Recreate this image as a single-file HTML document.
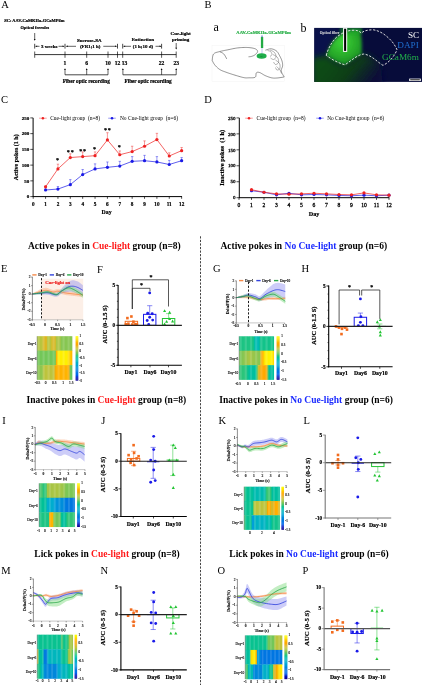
<!DOCTYPE html>
<html><head><meta charset="utf-8"><style>
html,body{margin:0;padding:0;background:#fff;overflow:hidden;}
svg{display:block;will-change:transform;}
text{font-family:"Liberation Serif", serif;}
</style></head><body>
<svg width="423" height="685" viewBox="0 0 423 685">
<rect x="0" y="0" width="423" height="685" fill="#fff"/>
<text x="1.20" y="8.20" font-size="10.50" font-weight="normal" text-anchor="start" fill="#000">A</text>
<text x="204.50" y="8.20" font-size="10.50" font-weight="normal" text-anchor="start" fill="#000">B</text>
<text x="1.00" y="103.20" font-size="10.50" font-weight="normal" text-anchor="start" fill="#000">C</text>
<text x="204.20" y="103.20" font-size="10.50" font-weight="normal" text-anchor="start" fill="#000">D</text>
<text x="1.00" y="272.00" font-size="10.50" font-weight="normal" text-anchor="start" fill="#000">E</text>
<text x="97.00" y="272.50" font-size="10.50" font-weight="normal" text-anchor="start" fill="#000">F</text>
<text x="213.00" y="272.00" font-size="10.50" font-weight="normal" text-anchor="start" fill="#000">G</text>
<text x="301.40" y="272.00" font-size="10.50" font-weight="normal" text-anchor="start" fill="#000">H</text>
<text x="2.20" y="423.60" font-size="10.50" font-weight="normal" text-anchor="start" fill="#000">I</text>
<text x="101.20" y="423.60" font-size="10.50" font-weight="normal" text-anchor="start" fill="#000">J</text>
<text x="218.50" y="423.60" font-size="10.50" font-weight="normal" text-anchor="start" fill="#000">K</text>
<text x="303.50" y="423.60" font-size="10.50" font-weight="normal" text-anchor="start" fill="#000">L</text>
<text x="1.20" y="574.20" font-size="10.50" font-weight="normal" text-anchor="start" fill="#000">M</text>
<text x="100.50" y="574.20" font-size="10.50" font-weight="normal" text-anchor="start" fill="#000">N</text>
<text x="217.50" y="574.20" font-size="10.50" font-weight="normal" text-anchor="start" fill="#000">O</text>
<text x="302.50" y="574.20" font-size="10.50" font-weight="normal" text-anchor="start" fill="#000">P</text>
<text x="4.30" y="22.20" font-size="4.45" font-weight="bold" text-anchor="start" fill="#000" stroke="#000" stroke-width="0.19">SC: AAV-CaMKIIa-GCaMP6m</text>
<text x="34.90" y="28.50" font-size="4.25" font-weight="bold" text-anchor="middle" fill="#000" stroke="#000" stroke-width="0.19">Optical ferrules</text>
<line x1="34.70" y1="33.00" x2="34.70" y2="39.50" stroke="#000" stroke-width="0.62"/>
<polygon points="33.80,39.00 35.60,39.00 34.70,40.80" fill="#000"/>
<line x1="34.70" y1="43.80" x2="34.70" y2="48.60" stroke="#000" stroke-width="0.72"/>
<line x1="65.00" y1="43.80" x2="65.00" y2="48.60" stroke="#000" stroke-width="0.72"/>
<line x1="35.50" y1="46.30" x2="39.50" y2="46.30" stroke="#000" stroke-width="0.62"/>
<polygon points="37.12,45.49 37.12,47.11 35.50,46.30" fill="#000"/>
<line x1="58.50" y1="46.30" x2="64.20" y2="46.30" stroke="#000" stroke-width="0.62"/>
<polygon points="62.58,45.49 62.58,47.11 64.20,46.30" fill="#000"/>
<text x="49.20" y="47.90" font-size="5.00" font-weight="bold" text-anchor="middle" fill="#000" stroke="#000" stroke-width="0.19">3 weeks</text>
<text x="89.30" y="41.50" font-size="5.00" font-weight="bold" text-anchor="middle" fill="#000" stroke="#000" stroke-width="0.19">Sucrose-SA</text>
<text x="90.20" y="47.80" font-size="4.95" font-weight="bold" text-anchor="middle" fill="#000" stroke="#000" stroke-width="0.19">(FR1;1 h)</text>
<line x1="66.20" y1="46.30" x2="76.00" y2="46.30" stroke="#000" stroke-width="0.62"/>
<polygon points="67.82,45.49 67.82,47.11 66.20,46.30" fill="#000"/>
<line x1="103.30" y1="46.30" x2="116.70" y2="46.30" stroke="#000" stroke-width="0.62"/>
<polygon points="115.08,45.49 115.08,47.11 116.70,46.30" fill="#000"/>
<line x1="117.50" y1="43.80" x2="117.50" y2="48.60" stroke="#000" stroke-width="0.72"/>
<line x1="122.70" y1="43.80" x2="122.70" y2="48.60" stroke="#000" stroke-width="0.72"/>
<text x="142.90" y="40.80" font-size="5.00" font-weight="bold" text-anchor="middle" fill="#000" stroke="#000" stroke-width="0.19">Extinction</text>
<text x="142.90" y="47.80" font-size="4.95" font-weight="bold" text-anchor="middle" fill="#000" stroke="#000" stroke-width="0.19">(1 h;10 d)</text>
<line x1="123.50" y1="46.30" x2="131.00" y2="46.30" stroke="#000" stroke-width="0.62"/>
<polygon points="125.12,45.49 125.12,47.11 123.50,46.30" fill="#000"/>
<line x1="155.50" y1="46.30" x2="161.20" y2="46.30" stroke="#000" stroke-width="0.62"/>
<polygon points="159.58,45.49 159.58,47.11 161.20,46.30" fill="#000"/>
<line x1="161.60" y1="43.80" x2="161.60" y2="48.60" stroke="#000" stroke-width="0.72"/>
<text x="180.60" y="35.00" font-size="5.00" font-weight="bold" text-anchor="middle" fill="#000" stroke="#000" stroke-width="0.19">Cue-light</text>
<text x="180.60" y="41.20" font-size="5.00" font-weight="bold" text-anchor="middle" fill="#000" stroke="#000" stroke-width="0.19">priming</text>
<line x1="176.20" y1="43.00" x2="176.20" y2="48.20" stroke="#000" stroke-width="0.62"/>
<polygon points="175.30,47.80 177.10,47.80 176.20,49.60" fill="#000"/>
<line x1="34.70" y1="54.60" x2="176.20" y2="54.60" stroke="#000" stroke-width="0.80"/>
<line x1="34.70" y1="51.50" x2="34.70" y2="57.80" stroke="#000" stroke-width="0.65"/>
<line x1="65.00" y1="51.50" x2="65.00" y2="57.80" stroke="#000" stroke-width="0.65"/>
<line x1="86.70" y1="51.50" x2="86.70" y2="57.80" stroke="#000" stroke-width="0.65"/>
<line x1="108.00" y1="51.50" x2="108.00" y2="57.80" stroke="#000" stroke-width="0.65"/>
<line x1="117.50" y1="51.50" x2="117.50" y2="57.80" stroke="#000" stroke-width="0.65"/>
<line x1="122.70" y1="51.50" x2="122.70" y2="57.80" stroke="#000" stroke-width="0.65"/>
<line x1="161.60" y1="51.50" x2="161.60" y2="57.80" stroke="#000" stroke-width="0.65"/>
<line x1="176.20" y1="51.50" x2="176.20" y2="57.80" stroke="#000" stroke-width="0.65"/>
<text x="65.00" y="65.00" font-size="5.60" font-weight="bold" text-anchor="middle" fill="#000" stroke="#000" stroke-width="0.19">1</text>
<text x="86.70" y="65.00" font-size="5.60" font-weight="bold" text-anchor="middle" fill="#000" stroke="#000" stroke-width="0.19">6</text>
<text x="108.00" y="65.00" font-size="5.60" font-weight="bold" text-anchor="middle" fill="#000" stroke="#000" stroke-width="0.19">10</text>
<text x="117.50" y="65.00" font-size="5.60" font-weight="bold" text-anchor="middle" fill="#000" stroke="#000" stroke-width="0.19">12</text>
<text x="124.60" y="65.00" font-size="5.60" font-weight="bold" text-anchor="middle" fill="#000" stroke="#000" stroke-width="0.19">13</text>
<text x="161.60" y="65.00" font-size="5.60" font-weight="bold" text-anchor="middle" fill="#000" stroke="#000" stroke-width="0.19">22</text>
<text x="176.20" y="65.00" font-size="5.60" font-weight="bold" text-anchor="middle" fill="#000" stroke="#000" stroke-width="0.19">23</text>
<line x1="65.00" y1="74.80" x2="108.00" y2="74.80" stroke="#000" stroke-width="0.72"/>
<line x1="65.00" y1="69.50" x2="65.00" y2="74.80" stroke="#000" stroke-width="0.62"/>
<polygon points="64.10,70.10 65.90,70.10 65.00,68.30" fill="#000"/>
<line x1="86.70" y1="69.50" x2="86.70" y2="74.80" stroke="#000" stroke-width="0.62"/>
<polygon points="85.80,70.10 87.60,70.10 86.70,68.30" fill="#000"/>
<line x1="108.00" y1="69.50" x2="108.00" y2="74.80" stroke="#000" stroke-width="0.62"/>
<polygon points="107.10,70.10 108.90,70.10 108.00,68.30" fill="#000"/>
<text x="86.30" y="82.90" font-size="5.20" font-weight="bold" text-anchor="middle" fill="#000" stroke="#000" stroke-width="0.19">Fiber optic recording</text>
<line x1="122.90" y1="74.80" x2="176.20" y2="74.80" stroke="#000" stroke-width="0.72"/>
<line x1="122.90" y1="69.50" x2="122.90" y2="74.80" stroke="#000" stroke-width="0.62"/>
<polygon points="122.00,70.10 123.80,70.10 122.90,68.30" fill="#000"/>
<line x1="161.60" y1="69.50" x2="161.60" y2="74.80" stroke="#000" stroke-width="0.62"/>
<polygon points="160.70,70.10 162.50,70.10 161.60,68.30" fill="#000"/>
<line x1="176.20" y1="69.50" x2="176.20" y2="74.80" stroke="#000" stroke-width="0.62"/>
<polygon points="175.30,70.10 177.10,70.10 176.20,68.30" fill="#000"/>
<text x="148.10" y="82.90" font-size="5.20" font-weight="bold" text-anchor="middle" fill="#000" stroke="#000" stroke-width="0.19">Fiber optic recording</text>
<text x="213.60" y="30.90" font-size="12.00" font-weight="normal" text-anchor="start" fill="#000">a</text>
<text x="300.40" y="32.30" font-size="12.00" font-weight="normal" text-anchor="start" fill="#000">b</text>
<rect x="212" y="45.5" width="72.5" height="36.1" fill="none" stroke="#f0f0f0" stroke-width="0.4"/>
<text x="263.60" y="33.90" font-size="4.65" font-weight="bold" text-anchor="middle" fill="#2bb04a" stroke="#2bb04a" stroke-width="0.19">AAV-CaMKIIa-GCaMP6m</text>
<polyline points="212.20,60.50 212.28,59.97 212.35,59.24 212.42,58.36 212.53,57.40 212.68,56.42 212.90,55.49 213.20,54.66 213.60,54.00 214.11,53.50 214.70,53.10 215.37,52.77 216.11,52.51 216.91,52.28 217.74,52.06 218.61,51.84 219.50,51.60 220.42,51.35 221.39,51.11 222.40,50.89 223.45,50.67 224.53,50.46 225.64,50.24 226.76,50.03 227.90,49.80 229.07,49.56 230.27,49.30 231.50,49.03 232.76,48.76 234.02,48.51 235.29,48.27 236.55,48.07 237.80,47.90 239.05,47.77 240.33,47.65 241.62,47.57 242.90,47.50 244.16,47.46 245.39,47.45 246.58,47.46 247.70,47.50 248.79,47.57 249.86,47.67 250.91,47.80 251.92,47.95 252.87,48.13 253.74,48.33 254.52,48.55 255.20,48.80 255.78,49.08 256.28,49.39 256.69,49.72 257.03,50.08 257.29,50.45 257.47,50.84 257.57,51.22 257.60,51.60 257.52,51.99 257.32,52.41 257.03,52.84 256.67,53.27 256.26,53.70 255.83,54.10 255.40,54.47 255.00,54.80 254.60,55.08 254.18,55.34 253.73,55.57 253.28,55.77 252.82,55.96 252.36,56.12 251.92,56.27 251.50,56.40 251.08,56.51 250.64,56.59 250.21,56.66 249.78,56.70 249.38,56.73 249.03,56.76 248.73,56.78 248.50,56.80" fill="none" stroke="#3a3a3a" stroke-width="0.55"/>
<polyline points="219.90,51.80 220.21,51.95 220.62,52.13 221.12,52.34 221.66,52.59 222.23,52.87 222.80,53.20 223.33,53.58 223.80,54.00 224.24,54.53 224.68,55.17 225.12,55.89 225.54,56.64 225.93,57.37 226.28,58.04 226.57,58.60 226.80,59.00" fill="none" stroke="#3a3a3a" stroke-width="0.55"/>
<polyline points="265.40,50.20 265.83,50.07 266.41,49.86 267.09,49.62 267.86,49.36 268.66,49.12 269.48,48.93 270.27,48.81 271.00,48.80 271.71,48.89 272.44,49.04 273.18,49.26 273.91,49.53 274.62,49.85 275.30,50.20 275.93,50.59 276.50,51.00 277.00,51.45 277.44,51.94 277.83,52.48 278.19,53.04 278.52,53.64 278.84,54.25 279.17,54.87 279.50,55.50 279.85,56.14 280.20,56.82 280.56,57.51 280.90,58.22 281.22,58.93 281.52,59.64 281.78,60.33 282.00,61.00 282.18,61.65 282.33,62.29 282.45,62.91 282.54,63.53 282.60,64.15 282.64,64.76 282.63,65.38 282.60,66.00 282.49,66.62 282.29,67.23 282.03,67.83 281.75,68.44 281.49,69.05 281.29,69.68 281.18,70.33 281.20,71.00 281.38,71.74 281.71,72.57 282.13,73.44 282.61,74.31 283.10,75.15 283.56,75.90 283.94,76.53 284.20,77.00" fill="none" stroke="#3a3a3a" stroke-width="0.55"/>
<polyline points="284.20,77.00 283.63,77.09 282.87,77.21 281.95,77.35 280.94,77.51 279.89,77.67 278.85,77.81 277.87,77.93 277.00,78.00 276.24,78.05 275.53,78.08 274.86,78.11 274.21,78.11 273.56,78.08 272.91,78.03 272.22,77.93 271.50,77.80 270.73,77.62 269.91,77.39 269.08,77.12 268.23,76.82 267.39,76.50 266.56,76.17 265.76,75.83 265.00,75.50 264.28,75.15 263.57,74.74 262.88,74.32 262.21,73.89 261.56,73.49 260.94,73.12 260.35,72.82 259.80,72.60 259.27,72.45 258.77,72.33 258.30,72.26 257.85,72.24 257.43,72.28 257.05,72.38 256.71,72.55 256.40,72.80 256.18,73.17 256.06,73.69 256.01,74.31 255.97,74.98 255.92,75.64 255.80,76.27 255.57,76.80 255.20,77.20 254.66,77.46 253.98,77.64 253.20,77.74 252.36,77.79 251.48,77.80 250.60,77.80 249.77,77.79 249.00,77.80 248.33,77.83 247.72,77.87 247.15,77.90 246.58,77.91 245.98,77.90 245.33,77.85 244.58,77.75 243.70,77.60 242.67,77.37 241.50,77.08 240.23,76.73 238.91,76.35 237.56,75.95 236.24,75.55 234.97,75.16 233.80,74.80 232.71,74.47 231.66,74.14 230.65,73.81 229.66,73.49 228.71,73.17 227.78,72.85 226.88,72.52 226.00,72.20 225.15,71.89 224.33,71.59 223.54,71.30 222.77,71.01 222.02,70.71 221.30,70.38 220.59,70.01 219.90,69.60 219.22,69.14 218.54,68.63 217.88,68.10 217.24,67.53 216.63,66.95 216.05,66.36 215.50,65.78 215.00,65.20 214.53,64.59 214.09,63.94 213.67,63.25 213.29,62.58 212.95,61.93 212.65,61.35 212.40,60.86 212.20,60.50" fill="none" stroke="#3a3a3a" stroke-width="0.55"/>
<polyline points="267.50,50.50 267.74,50.56 268.07,50.63 268.47,50.71 268.91,50.81 269.35,50.93 269.79,51.09 270.18,51.27 270.50,51.50 270.78,51.79 271.06,52.13 271.33,52.52 271.56,52.94 271.76,53.36 271.91,53.77 271.99,54.16 272.00,54.50 271.90,54.81 271.70,55.12 271.42,55.41 271.09,55.69 270.76,55.94 270.44,56.16 270.18,56.35 270.00,56.50" fill="none" stroke="#444" stroke-width="0.42"/>
<polyline points="270.00,50.00 270.37,50.18 270.88,50.40 271.49,50.67 272.16,50.97 272.83,51.31 273.48,51.68 274.05,52.07 274.50,52.50 274.86,52.98 275.18,53.53 275.46,54.13 275.69,54.75 275.86,55.37 275.98,55.97 276.02,56.52 276.00,57.00 275.88,57.44 275.67,57.86 275.38,58.26 275.03,58.62 274.65,58.94 274.25,59.20 273.86,59.39 273.50,59.50 273.13,59.49 272.71,59.37 272.28,59.16 271.84,58.91 271.43,58.63 271.05,58.36 270.73,58.14 270.50,58.00" fill="none" stroke="#444" stroke-width="0.42"/>
<polyline points="273.00,54.50 273.37,54.72 273.89,54.99 274.51,55.32 275.19,55.69 275.87,56.10 276.52,56.54 277.07,57.01 277.50,57.50 277.82,58.05 278.09,58.68 278.31,59.36 278.47,60.06 278.57,60.76 278.61,61.41 278.59,62.00 278.50,62.50 278.31,62.92 278.01,63.32 277.62,63.67 277.19,63.97 276.73,64.21 276.27,64.39 275.85,64.49 275.50,64.50 275.19,64.39 274.88,64.13 274.59,63.78 274.31,63.38 274.06,62.95 273.84,62.55 273.65,62.22 273.50,62.00" fill="none" stroke="#444" stroke-width="0.42"/>
<polyline points="275.50,60.00 275.83,60.26 276.31,60.59 276.87,60.99 277.48,61.44 278.10,61.92 278.67,62.44 279.15,62.97 279.50,63.50 279.74,64.08 279.91,64.73 280.02,65.42 280.08,66.12 280.08,66.82 280.03,67.46 279.94,68.03 279.80,68.50 279.59,68.88 279.29,69.21 278.92,69.49 278.51,69.72 278.09,69.88 277.68,69.99 277.31,70.03 277.00,70.00 276.74,69.86 276.50,69.60 276.28,69.25 276.07,68.84 275.90,68.43 275.74,68.04 275.61,67.72 275.50,67.50" fill="none" stroke="#444" stroke-width="0.42"/>
<polyline points="276.50,66.50 276.78,66.77 277.18,67.13 277.64,67.56 278.16,68.03 278.68,68.53 279.18,69.04 279.63,69.54 280.00,70.00 280.29,70.46 280.55,70.96 280.77,71.47 280.97,71.97 281.14,72.44 281.28,72.87 281.40,73.23 281.50,73.50" fill="none" stroke="#444" stroke-width="0.42"/>
<rect x="260.90" y="37.00" width="2.30" height="11.00" fill="#22aa44"/>
<rect x="261.20" y="35.50" width="1.70" height="1.60" fill="#8aa0d8"/>
<line x1="262.00" y1="48.00" x2="262.00" y2="53.80" stroke="#6a8ad8" stroke-width="0.45"/>
<ellipse cx="261.6" cy="56.0" rx="5.0" ry="2.7" fill="#1fae4a"/>
<text x="261.60" y="57.00" font-size="2.20" font-weight="normal" text-anchor="middle" fill="#0a5a20">SC</text>
<defs>
<radialGradient id="gblob" cx="0.45" cy="0.35" r="0.7">
<stop offset="0" stop-color="#3ad436"/>
<stop offset="0.5" stop-color="#2bb02b"/>
<stop offset="1" stop-color="#178a22"/>
</radialGradient>
<linearGradient id="glow" x1="0" y1="0" x2="0" y2="1">
<stop offset="0" stop-color="#167a22"/>
<stop offset="0.5" stop-color="#0b3f16"/>
<stop offset="1" stop-color="#051a0c"/>
</linearGradient>
<linearGradient id="glow2" x1="0" y1="0" x2="1" y2="0.4">
<stop offset="0" stop-color="#0e5218"/>
<stop offset="0.6" stop-color="#0b4016"/>
<stop offset="1" stop-color="#070c3a"/>
</linearGradient>
<filter id="blur1" x="-20%" y="-20%" width="140%" height="140%"><feGaussianBlur stdDeviation="1.4"/></filter>
<filter id="blur2" x="-20%" y="-20%" width="140%" height="140%"><feGaussianBlur stdDeviation="3"/></filter>
<clipPath id="imgclip"><rect x="314.2" y="27.9" width="107.8" height="54.0"/></clipPath>
</defs>
<rect x="314.20" y="27.90" width="107.80" height="54.00" fill="#070c3a"/>
<g clip-path="url(#imgclip)">
<path d="M 312 26 L 345 26 C 338 32 330 42 326 55 L 312 62 Z" fill="#0a1658" filter="url(#blur2)" opacity="0.6"/>
<path d="M 312 58 C 318 58 322 56 326.2 55.3 C 331 59 338 63 345 64.8 C 352 62 356 56 362 54 C 368 54 374 58 380 63 L 384 90 L 312 90 Z" fill="url(#glow2)" filter="url(#blur2)"/>
<path d="M 326.2 55.3 C 329 46 334 38 340.4 34.5 C 344 32 348 30.6 352 30.3 L 359.2 30.3 C 361.5 34 362.5 44 361.5 54.4 C 355 57 350 62 345 64.8 C 338 63 331 59 326.2 55.3 Z" fill="url(#gblob)" filter="url(#blur1)"/>
<path d="M 340 27 L 362 27 L 362 34 L 340 34 Z" fill="#1ea82a" filter="url(#blur1)" opacity="0.6"/>
</g>
<path d="M 326.2 55.3 C 329 46 334 38 340.4 34.5 C 344 32 348 30.6 352 30.3 C 356 30 359 30.5 361.5 33.2 C 363 31 367 29.8 373.4 29.8 C 380 31 384 34 388 37.5 C 392 41 395 45 397 49.8 C 395 55 390 62 383 65.4 C 376 61 372 55.5 363.9 54 C 358 54.5 352 60 345 64.8 C 338 63 331 59 326.2 55.3" fill="none" stroke="#e4e4e4" stroke-width="0.95" stroke-dasharray="2.3,1.5"/>
<rect x="343.6" y="28.2" width="3.1" height="23.2" fill="#000" stroke="#ffffff" stroke-width="1.0"/>
<text x="329.60" y="34.30" font-size="3.60" font-weight="bold" text-anchor="middle" fill="#dddddd" stroke="#dddddd" stroke-width="0.05">Optical fiber</text>
<text x="419.20" y="37.80" font-size="9.20" font-weight="normal" text-anchor="end" fill="#ffffff">SC</text>
<text x="418.80" y="48.40" font-size="9.20" font-weight="normal" text-anchor="end" fill="#1f6fd2">DAPI</text>
<text x="418.80" y="59.80" font-size="9.20" font-weight="normal" text-anchor="end" fill="#22b04a">GCaM6m</text>
<rect x="409.20" y="78.60" width="11.60" height="2.40" fill="#ffffff"/>
<rect x="410.20" y="79.30" width="9.60" height="1.00" fill="#111111"/>
<line x1="33.10" y1="117.90" x2="33.10" y2="196.90" stroke="#000" stroke-width="1.00"/>
<line x1="32.80" y1="196.60" x2="182.04" y2="196.60" stroke="#000" stroke-width="1.00"/>
<line x1="30.30" y1="196.60" x2="33.10" y2="196.60" stroke="#000" stroke-width="0.70"/>
<text x="29.20" y="198.30" font-size="5.00" font-weight="bold" text-anchor="end" fill="#000" stroke="#000" stroke-width="0.19">0</text>
<line x1="30.30" y1="180.86" x2="33.10" y2="180.86" stroke="#000" stroke-width="0.70"/>
<text x="29.20" y="182.56" font-size="5.00" font-weight="bold" text-anchor="end" fill="#000" stroke="#000" stroke-width="0.19">50</text>
<line x1="30.30" y1="165.12" x2="33.10" y2="165.12" stroke="#000" stroke-width="0.70"/>
<text x="29.20" y="166.82" font-size="5.00" font-weight="bold" text-anchor="end" fill="#000" stroke="#000" stroke-width="0.19">100</text>
<line x1="30.30" y1="149.38" x2="33.10" y2="149.38" stroke="#000" stroke-width="0.70"/>
<text x="29.20" y="151.08" font-size="5.00" font-weight="bold" text-anchor="end" fill="#000" stroke="#000" stroke-width="0.19">150</text>
<line x1="30.30" y1="133.64" x2="33.10" y2="133.64" stroke="#000" stroke-width="0.70"/>
<text x="29.20" y="135.34" font-size="5.00" font-weight="bold" text-anchor="end" fill="#000" stroke="#000" stroke-width="0.19">200</text>
<line x1="30.30" y1="117.90" x2="33.10" y2="117.90" stroke="#000" stroke-width="0.70"/>
<text x="29.20" y="119.60" font-size="5.00" font-weight="bold" text-anchor="end" fill="#000" stroke="#000" stroke-width="0.19">250</text>
<line x1="33.20" y1="196.60" x2="33.20" y2="198.80" stroke="#000" stroke-width="0.70"/>
<text x="33.20" y="205.50" font-size="5.20" font-weight="bold" text-anchor="middle" fill="#000" stroke="#000" stroke-width="0.19">0</text>
<line x1="45.57" y1="196.60" x2="45.57" y2="198.80" stroke="#000" stroke-width="0.70"/>
<text x="45.57" y="205.50" font-size="5.20" font-weight="bold" text-anchor="middle" fill="#000" stroke="#000" stroke-width="0.19">1</text>
<line x1="57.94" y1="196.60" x2="57.94" y2="198.80" stroke="#000" stroke-width="0.70"/>
<text x="57.94" y="205.50" font-size="5.20" font-weight="bold" text-anchor="middle" fill="#000" stroke="#000" stroke-width="0.19">2</text>
<line x1="70.31" y1="196.60" x2="70.31" y2="198.80" stroke="#000" stroke-width="0.70"/>
<text x="70.31" y="205.50" font-size="5.20" font-weight="bold" text-anchor="middle" fill="#000" stroke="#000" stroke-width="0.19">3</text>
<line x1="82.68" y1="196.60" x2="82.68" y2="198.80" stroke="#000" stroke-width="0.70"/>
<text x="82.68" y="205.50" font-size="5.20" font-weight="bold" text-anchor="middle" fill="#000" stroke="#000" stroke-width="0.19">4</text>
<line x1="95.05" y1="196.60" x2="95.05" y2="198.80" stroke="#000" stroke-width="0.70"/>
<text x="95.05" y="205.50" font-size="5.20" font-weight="bold" text-anchor="middle" fill="#000" stroke="#000" stroke-width="0.19">5</text>
<line x1="107.42" y1="196.60" x2="107.42" y2="198.80" stroke="#000" stroke-width="0.70"/>
<text x="107.42" y="205.50" font-size="5.20" font-weight="bold" text-anchor="middle" fill="#000" stroke="#000" stroke-width="0.19">6</text>
<line x1="119.79" y1="196.60" x2="119.79" y2="198.80" stroke="#000" stroke-width="0.70"/>
<text x="119.79" y="205.50" font-size="5.20" font-weight="bold" text-anchor="middle" fill="#000" stroke="#000" stroke-width="0.19">7</text>
<line x1="132.16" y1="196.60" x2="132.16" y2="198.80" stroke="#000" stroke-width="0.70"/>
<text x="132.16" y="205.50" font-size="5.20" font-weight="bold" text-anchor="middle" fill="#000" stroke="#000" stroke-width="0.19">8</text>
<line x1="144.53" y1="196.60" x2="144.53" y2="198.80" stroke="#000" stroke-width="0.70"/>
<text x="144.53" y="205.50" font-size="5.20" font-weight="bold" text-anchor="middle" fill="#000" stroke="#000" stroke-width="0.19">9</text>
<line x1="156.90" y1="196.60" x2="156.90" y2="198.80" stroke="#000" stroke-width="0.70"/>
<text x="156.90" y="205.50" font-size="5.20" font-weight="bold" text-anchor="middle" fill="#000" stroke="#000" stroke-width="0.19">10</text>
<line x1="169.27" y1="196.60" x2="169.27" y2="198.80" stroke="#000" stroke-width="0.70"/>
<text x="169.27" y="205.50" font-size="5.20" font-weight="bold" text-anchor="middle" fill="#000" stroke="#000" stroke-width="0.19">11</text>
<line x1="181.64" y1="196.60" x2="181.64" y2="198.80" stroke="#000" stroke-width="0.70"/>
<text x="181.64" y="205.50" font-size="5.20" font-weight="bold" text-anchor="middle" fill="#000" stroke="#000" stroke-width="0.19">12</text>
<text x="106.60" y="214.00" font-size="5.80" font-weight="bold" text-anchor="middle" fill="#000" stroke="#000" stroke-width="0.19">Day</text>
<text x="18.20" y="157.25" font-size="6.00" font-weight="bold" text-anchor="middle" fill="#000" transform="rotate(-90 18.20 157.25)" stroke="#000" stroke-width="0.19">Active pokes (1 h)</text>
<polyline points="45.57,189.99 57.94,189.04 70.31,184.64 82.68,174.56 95.05,168.90 107.42,167.32 119.79,166.06 132.16,161.34 144.53,160.71 156.90,161.97 169.27,164.49 181.64,160.71" fill="none" stroke="#1a1ae6" stroke-width="0.70"/>
<line x1="45.57" y1="189.99" x2="45.57" y2="188.73" stroke="#1a1ae6" stroke-width="0.45"/>
<line x1="44.37" y1="188.73" x2="46.77" y2="188.73" stroke="#1a1ae6" stroke-width="0.45"/>
<line x1="57.94" y1="189.04" x2="57.94" y2="186.53" stroke="#1a1ae6" stroke-width="0.45"/>
<line x1="56.74" y1="186.53" x2="59.14" y2="186.53" stroke="#1a1ae6" stroke-width="0.45"/>
<line x1="70.31" y1="184.64" x2="70.31" y2="179.60" stroke="#1a1ae6" stroke-width="0.45"/>
<line x1="69.11" y1="179.60" x2="71.51" y2="179.60" stroke="#1a1ae6" stroke-width="0.45"/>
<line x1="82.68" y1="174.56" x2="82.68" y2="169.53" stroke="#1a1ae6" stroke-width="0.45"/>
<line x1="81.48" y1="169.53" x2="83.88" y2="169.53" stroke="#1a1ae6" stroke-width="0.45"/>
<line x1="95.05" y1="168.90" x2="95.05" y2="163.86" stroke="#1a1ae6" stroke-width="0.45"/>
<line x1="93.85" y1="163.86" x2="96.25" y2="163.86" stroke="#1a1ae6" stroke-width="0.45"/>
<line x1="107.42" y1="167.32" x2="107.42" y2="161.97" stroke="#1a1ae6" stroke-width="0.45"/>
<line x1="106.22" y1="161.97" x2="108.62" y2="161.97" stroke="#1a1ae6" stroke-width="0.45"/>
<line x1="119.79" y1="166.06" x2="119.79" y2="161.34" stroke="#1a1ae6" stroke-width="0.45"/>
<line x1="118.59" y1="161.34" x2="120.99" y2="161.34" stroke="#1a1ae6" stroke-width="0.45"/>
<line x1="132.16" y1="161.34" x2="132.16" y2="156.62" stroke="#1a1ae6" stroke-width="0.45"/>
<line x1="130.96" y1="156.62" x2="133.36" y2="156.62" stroke="#1a1ae6" stroke-width="0.45"/>
<line x1="144.53" y1="160.71" x2="144.53" y2="155.36" stroke="#1a1ae6" stroke-width="0.45"/>
<line x1="143.33" y1="155.36" x2="145.73" y2="155.36" stroke="#1a1ae6" stroke-width="0.45"/>
<line x1="156.90" y1="161.97" x2="156.90" y2="156.62" stroke="#1a1ae6" stroke-width="0.45"/>
<line x1="155.70" y1="156.62" x2="158.10" y2="156.62" stroke="#1a1ae6" stroke-width="0.45"/>
<line x1="169.27" y1="164.49" x2="169.27" y2="160.40" stroke="#1a1ae6" stroke-width="0.45"/>
<line x1="168.07" y1="160.40" x2="170.47" y2="160.40" stroke="#1a1ae6" stroke-width="0.45"/>
<line x1="181.64" y1="160.71" x2="181.64" y2="157.56" stroke="#1a1ae6" stroke-width="0.45"/>
<line x1="180.44" y1="157.56" x2="182.84" y2="157.56" stroke="#1a1ae6" stroke-width="0.45"/>
<circle cx="45.57" cy="189.99" r="1.6" fill="#1a1ae6"/>
<circle cx="57.94" cy="189.04" r="1.6" fill="#1a1ae6"/>
<circle cx="70.31" cy="184.64" r="1.6" fill="#1a1ae6"/>
<circle cx="82.68" cy="174.56" r="1.6" fill="#1a1ae6"/>
<circle cx="95.05" cy="168.90" r="1.6" fill="#1a1ae6"/>
<circle cx="107.42" cy="167.32" r="1.6" fill="#1a1ae6"/>
<circle cx="119.79" cy="166.06" r="1.6" fill="#1a1ae6"/>
<circle cx="132.16" cy="161.34" r="1.6" fill="#1a1ae6"/>
<circle cx="144.53" cy="160.71" r="1.6" fill="#1a1ae6"/>
<circle cx="156.90" cy="161.97" r="1.6" fill="#1a1ae6"/>
<circle cx="169.27" cy="164.49" r="1.6" fill="#1a1ae6"/>
<circle cx="181.64" cy="160.71" r="1.6" fill="#1a1ae6"/>
<polyline points="45.57,186.84 57.94,168.90 70.31,157.56 82.68,156.62 95.05,155.68 107.42,139.94 119.79,154.73 132.16,151.58 144.53,146.23 156.90,139.62 169.27,155.99 181.64,150.64" fill="none" stroke="#ee2222" stroke-width="0.70"/>
<line x1="45.57" y1="186.84" x2="45.57" y2="185.90" stroke="#ee2222" stroke-width="0.45"/>
<line x1="44.37" y1="185.90" x2="46.77" y2="185.90" stroke="#ee2222" stroke-width="0.45"/>
<line x1="57.94" y1="168.90" x2="57.94" y2="164.18" stroke="#ee2222" stroke-width="0.45"/>
<line x1="56.74" y1="164.18" x2="59.14" y2="164.18" stroke="#ee2222" stroke-width="0.45"/>
<line x1="70.31" y1="157.56" x2="70.31" y2="153.79" stroke="#ee2222" stroke-width="0.45"/>
<line x1="69.11" y1="153.79" x2="71.51" y2="153.79" stroke="#ee2222" stroke-width="0.45"/>
<line x1="82.68" y1="156.62" x2="82.68" y2="151.90" stroke="#ee2222" stroke-width="0.45"/>
<line x1="81.48" y1="151.90" x2="83.88" y2="151.90" stroke="#ee2222" stroke-width="0.45"/>
<line x1="95.05" y1="155.68" x2="95.05" y2="151.90" stroke="#ee2222" stroke-width="0.45"/>
<line x1="93.85" y1="151.90" x2="96.25" y2="151.90" stroke="#ee2222" stroke-width="0.45"/>
<line x1="107.42" y1="139.94" x2="107.42" y2="132.70" stroke="#ee2222" stroke-width="0.45"/>
<line x1="106.22" y1="132.70" x2="108.62" y2="132.70" stroke="#ee2222" stroke-width="0.45"/>
<line x1="119.79" y1="154.73" x2="119.79" y2="150.95" stroke="#ee2222" stroke-width="0.45"/>
<line x1="118.59" y1="150.95" x2="120.99" y2="150.95" stroke="#ee2222" stroke-width="0.45"/>
<line x1="132.16" y1="151.58" x2="132.16" y2="146.23" stroke="#ee2222" stroke-width="0.45"/>
<line x1="130.96" y1="146.23" x2="133.36" y2="146.23" stroke="#ee2222" stroke-width="0.45"/>
<line x1="144.53" y1="146.23" x2="144.53" y2="140.88" stroke="#ee2222" stroke-width="0.45"/>
<line x1="143.33" y1="140.88" x2="145.73" y2="140.88" stroke="#ee2222" stroke-width="0.45"/>
<line x1="156.90" y1="139.62" x2="156.90" y2="133.33" stroke="#ee2222" stroke-width="0.45"/>
<line x1="155.70" y1="133.33" x2="158.10" y2="133.33" stroke="#ee2222" stroke-width="0.45"/>
<line x1="169.27" y1="155.99" x2="169.27" y2="152.84" stroke="#ee2222" stroke-width="0.45"/>
<line x1="168.07" y1="152.84" x2="170.47" y2="152.84" stroke="#ee2222" stroke-width="0.45"/>
<line x1="181.64" y1="150.64" x2="181.64" y2="147.49" stroke="#ee2222" stroke-width="0.45"/>
<line x1="180.44" y1="147.49" x2="182.84" y2="147.49" stroke="#ee2222" stroke-width="0.45"/>
<circle cx="45.57" cy="186.84" r="1.6" fill="#ee2222"/>
<circle cx="57.94" cy="168.90" r="1.6" fill="#ee2222"/>
<circle cx="70.31" cy="157.56" r="1.6" fill="#ee2222"/>
<circle cx="82.68" cy="156.62" r="1.6" fill="#ee2222"/>
<circle cx="95.05" cy="155.68" r="1.6" fill="#ee2222"/>
<circle cx="107.42" cy="139.94" r="1.6" fill="#ee2222"/>
<circle cx="119.79" cy="154.73" r="1.6" fill="#ee2222"/>
<circle cx="132.16" cy="151.58" r="1.6" fill="#ee2222"/>
<circle cx="144.53" cy="146.23" r="1.6" fill="#ee2222"/>
<circle cx="156.90" cy="139.62" r="1.6" fill="#ee2222"/>
<circle cx="169.27" cy="155.99" r="1.6" fill="#ee2222"/>
<circle cx="181.64" cy="150.64" r="1.6" fill="#ee2222"/>
<text x="57.94" y="162.20" font-size="6.20" font-weight="bold" text-anchor="middle" fill="#000" letter-spacing="0.8" stroke="#000" stroke-width="0.19">*</text>
<text x="70.71" y="154.00" font-size="6.20" font-weight="bold" text-anchor="middle" fill="#000" letter-spacing="0.8" stroke="#000" stroke-width="0.19">**</text>
<text x="83.08" y="153.30" font-size="6.20" font-weight="bold" text-anchor="middle" fill="#000" letter-spacing="0.8" stroke="#000" stroke-width="0.19">**</text>
<text x="95.05" y="150.80" font-size="6.20" font-weight="bold" text-anchor="middle" fill="#000" letter-spacing="0.8" stroke="#000" stroke-width="0.19">*</text>
<text x="107.82" y="131.50" font-size="6.20" font-weight="bold" text-anchor="middle" fill="#000" letter-spacing="0.8" stroke="#000" stroke-width="0.19">**</text>
<text x="119.79" y="148.90" font-size="6.20" font-weight="bold" text-anchor="middle" fill="#000" letter-spacing="0.8" stroke="#000" stroke-width="0.19">*</text>
<line x1="39.10" y1="118.20" x2="46.70" y2="118.20" stroke="#ee2222" stroke-width="0.45"/>
<circle cx="42.90" cy="118.20" r="1.25" fill="#ee2222"/>
<text x="50.20" y="119.80" font-size="5.50" font-weight="normal" text-anchor="start" fill="#000">Cue-light group&#160; (n=8)</text>
<line x1="108.20" y1="118.20" x2="115.80" y2="118.20" stroke="#1a1ae6" stroke-width="0.45"/>
<circle cx="112.00" cy="118.20" r="1.25" fill="#1a1ae6"/>
<text x="119.90" y="119.80" font-size="5.50" font-weight="normal" text-anchor="start" fill="#000">No Cue-light group&#160; (n=6)</text>
<line x1="239.30" y1="117.90" x2="239.30" y2="198.00" stroke="#000" stroke-width="1.00"/>
<line x1="239.00" y1="197.70" x2="389.40" y2="197.70" stroke="#000" stroke-width="1.00"/>
<line x1="236.50" y1="197.70" x2="239.30" y2="197.70" stroke="#000" stroke-width="0.70"/>
<text x="235.40" y="199.40" font-size="5.00" font-weight="normal" text-anchor="end" fill="#000" stroke="#000" stroke-width="0.28">0</text>
<line x1="236.50" y1="181.74" x2="239.30" y2="181.74" stroke="#000" stroke-width="0.70"/>
<text x="235.40" y="183.44" font-size="5.00" font-weight="normal" text-anchor="end" fill="#000" stroke="#000" stroke-width="0.28">50</text>
<line x1="236.50" y1="165.78" x2="239.30" y2="165.78" stroke="#000" stroke-width="0.70"/>
<text x="235.40" y="167.48" font-size="5.00" font-weight="normal" text-anchor="end" fill="#000" stroke="#000" stroke-width="0.28">100</text>
<line x1="236.50" y1="149.82" x2="239.30" y2="149.82" stroke="#000" stroke-width="0.70"/>
<text x="235.40" y="151.52" font-size="5.00" font-weight="normal" text-anchor="end" fill="#000" stroke="#000" stroke-width="0.28">150</text>
<line x1="236.50" y1="133.86" x2="239.30" y2="133.86" stroke="#000" stroke-width="0.70"/>
<text x="235.40" y="135.56" font-size="5.00" font-weight="normal" text-anchor="end" fill="#000" stroke="#000" stroke-width="0.28">200</text>
<line x1="236.50" y1="117.90" x2="239.30" y2="117.90" stroke="#000" stroke-width="0.70"/>
<text x="235.40" y="119.60" font-size="5.00" font-weight="normal" text-anchor="end" fill="#000" stroke="#000" stroke-width="0.28">250</text>
<line x1="239.00" y1="197.70" x2="239.00" y2="199.90" stroke="#000" stroke-width="0.70"/>
<text x="239.00" y="206.60" font-size="5.60" font-weight="normal" text-anchor="middle" fill="#000" stroke="#000" stroke-width="0.28">0</text>
<line x1="251.50" y1="197.70" x2="251.50" y2="199.90" stroke="#000" stroke-width="0.70"/>
<text x="251.50" y="206.60" font-size="5.60" font-weight="normal" text-anchor="middle" fill="#000" stroke="#000" stroke-width="0.28">1</text>
<line x1="264.00" y1="197.70" x2="264.00" y2="199.90" stroke="#000" stroke-width="0.70"/>
<text x="264.00" y="206.60" font-size="5.60" font-weight="normal" text-anchor="middle" fill="#000" stroke="#000" stroke-width="0.28">2</text>
<line x1="276.50" y1="197.70" x2="276.50" y2="199.90" stroke="#000" stroke-width="0.70"/>
<text x="276.50" y="206.60" font-size="5.60" font-weight="normal" text-anchor="middle" fill="#000" stroke="#000" stroke-width="0.28">3</text>
<line x1="289.00" y1="197.70" x2="289.00" y2="199.90" stroke="#000" stroke-width="0.70"/>
<text x="289.00" y="206.60" font-size="5.60" font-weight="normal" text-anchor="middle" fill="#000" stroke="#000" stroke-width="0.28">4</text>
<line x1="301.50" y1="197.70" x2="301.50" y2="199.90" stroke="#000" stroke-width="0.70"/>
<text x="301.50" y="206.60" font-size="5.60" font-weight="normal" text-anchor="middle" fill="#000" stroke="#000" stroke-width="0.28">5</text>
<line x1="314.00" y1="197.70" x2="314.00" y2="199.90" stroke="#000" stroke-width="0.70"/>
<text x="314.00" y="206.60" font-size="5.60" font-weight="normal" text-anchor="middle" fill="#000" stroke="#000" stroke-width="0.28">6</text>
<line x1="326.50" y1="197.70" x2="326.50" y2="199.90" stroke="#000" stroke-width="0.70"/>
<text x="326.50" y="206.60" font-size="5.60" font-weight="normal" text-anchor="middle" fill="#000" stroke="#000" stroke-width="0.28">7</text>
<line x1="339.00" y1="197.70" x2="339.00" y2="199.90" stroke="#000" stroke-width="0.70"/>
<text x="339.00" y="206.60" font-size="5.60" font-weight="normal" text-anchor="middle" fill="#000" stroke="#000" stroke-width="0.28">8</text>
<line x1="351.50" y1="197.70" x2="351.50" y2="199.90" stroke="#000" stroke-width="0.70"/>
<text x="351.50" y="206.60" font-size="5.60" font-weight="normal" text-anchor="middle" fill="#000" stroke="#000" stroke-width="0.28">9</text>
<line x1="364.00" y1="197.70" x2="364.00" y2="199.90" stroke="#000" stroke-width="0.70"/>
<text x="364.00" y="206.60" font-size="5.60" font-weight="normal" text-anchor="middle" fill="#000" stroke="#000" stroke-width="0.28">10</text>
<line x1="376.50" y1="197.70" x2="376.50" y2="199.90" stroke="#000" stroke-width="0.70"/>
<text x="376.50" y="206.60" font-size="5.60" font-weight="normal" text-anchor="middle" fill="#000" stroke="#000" stroke-width="0.28">11</text>
<line x1="389.00" y1="197.70" x2="389.00" y2="199.90" stroke="#000" stroke-width="0.70"/>
<text x="389.00" y="206.60" font-size="5.60" font-weight="normal" text-anchor="middle" fill="#000" stroke="#000" stroke-width="0.28">12</text>
<text x="314.00" y="216.00" font-size="6.20" font-weight="bold" text-anchor="middle" fill="#000" stroke="#000" stroke-width="0.19">Day</text>
<text x="224.00" y="157.80" font-size="6.50" font-weight="bold" text-anchor="middle" fill="#000" transform="rotate(-90 224.00 157.80)" stroke="#000" stroke-width="0.19">Inactive pokes&#160; (1 h)</text>
<polyline points="251.50,190.68 264.00,192.27 276.50,194.83 289.00,193.23 301.50,194.83 314.00,194.51 326.50,194.83 339.00,195.47 351.50,195.78 364.00,195.15 376.50,195.78 389.00,195.15" fill="none" stroke="#1a1ae6" stroke-width="0.70"/>
<circle cx="251.50" cy="190.68" r="1.6" fill="#1a1ae6"/>
<circle cx="264.00" cy="192.27" r="1.6" fill="#1a1ae6"/>
<circle cx="276.50" cy="194.83" r="1.6" fill="#1a1ae6"/>
<circle cx="289.00" cy="193.23" r="1.6" fill="#1a1ae6"/>
<circle cx="301.50" cy="194.83" r="1.6" fill="#1a1ae6"/>
<circle cx="314.00" cy="194.51" r="1.6" fill="#1a1ae6"/>
<circle cx="326.50" cy="194.83" r="1.6" fill="#1a1ae6"/>
<circle cx="339.00" cy="195.47" r="1.6" fill="#1a1ae6"/>
<circle cx="351.50" cy="195.78" r="1.6" fill="#1a1ae6"/>
<circle cx="364.00" cy="195.15" r="1.6" fill="#1a1ae6"/>
<circle cx="376.50" cy="195.78" r="1.6" fill="#1a1ae6"/>
<circle cx="389.00" cy="195.15" r="1.6" fill="#1a1ae6"/>
<polyline points="251.50,189.72 264.00,192.27 276.50,193.87 289.00,194.19 301.50,193.87 314.00,193.23 326.50,193.87 339.00,194.51 351.50,194.83 364.00,192.91 376.50,194.83 389.00,195.15" fill="none" stroke="#ee2222" stroke-width="0.70"/>
<circle cx="251.50" cy="189.72" r="1.6" fill="#ee2222"/>
<circle cx="264.00" cy="192.27" r="1.6" fill="#ee2222"/>
<circle cx="276.50" cy="193.87" r="1.6" fill="#ee2222"/>
<circle cx="289.00" cy="194.19" r="1.6" fill="#ee2222"/>
<circle cx="301.50" cy="193.87" r="1.6" fill="#ee2222"/>
<circle cx="314.00" cy="193.23" r="1.6" fill="#ee2222"/>
<circle cx="326.50" cy="193.87" r="1.6" fill="#ee2222"/>
<circle cx="339.00" cy="194.51" r="1.6" fill="#ee2222"/>
<circle cx="351.50" cy="194.83" r="1.6" fill="#ee2222"/>
<circle cx="364.00" cy="192.91" r="1.6" fill="#ee2222"/>
<circle cx="376.50" cy="194.83" r="1.6" fill="#ee2222"/>
<circle cx="389.00" cy="195.15" r="1.6" fill="#ee2222"/>
<line x1="245.20" y1="118.20" x2="252.80" y2="118.20" stroke="#ee2222" stroke-width="0.45"/>
<circle cx="249.00" cy="118.20" r="1.25" fill="#ee2222"/>
<text x="256.60" y="119.80" font-size="5.40" font-weight="normal" text-anchor="start" fill="#000">Cue-light group&#160; (n=8)</text>
<line x1="316.20" y1="118.20" x2="323.80" y2="118.20" stroke="#1a1ae6" stroke-width="0.45"/>
<circle cx="320.00" cy="118.20" r="1.25" fill="#1a1ae6"/>
<text x="327.20" y="119.80" font-size="5.40" font-weight="normal" text-anchor="start" fill="#000">No Cue-light group&#160; (n=6)</text>
<line x1="200.50" y1="236.30" x2="200.50" y2="686.00" stroke="#444" stroke-width="1.00" stroke-dasharray="2.2,1.35"/>
<text x="28.00" y="248.60" font-size="9.50" font-weight="bold">Active pokes in <tspan fill="#ff1a1a">Cue-light</tspan> group (n=8)</text>
<text x="220.40" y="248.70" font-size="9.50" font-weight="bold">Active pokes in <tspan fill="#1a2aff">No Cue-light</tspan> group (n=6)</text>
<text x="26.60" y="403.40" font-size="9.50" font-weight="bold">Inactive pokes in <tspan fill="#ff1a1a">Cue-light</tspan> group (n=8)</text>
<text x="219.30" y="403.40" font-size="9.50" font-weight="bold">Inactive pokes in <tspan fill="#1a2aff">No Cue-light</tspan> group (n=6)</text>
<text x="34.30" y="556.50" font-size="9.50" font-weight="bold">Lick pokes in <tspan fill="#ff1a1a">Cue-light</tspan> group (n=8)</text>
<text x="229.30" y="556.50" font-size="9.50" font-weight="bold">Lick pokes in <tspan fill="#1a2aff">No Cue-light</tspan> group (n=6)</text>
<rect x="41.50" y="278.70" width="41.70" height="41.10" fill="#fcefe7"/>
<polygon points="32.41,293.48 32.85,293.19 33.45,292.87 34.17,292.50 34.95,292.12 35.76,291.72 36.55,291.32 37.33,290.90 38.14,290.44 38.98,289.97 39.83,289.51 40.68,289.07 41.51,288.67 42.32,288.45 43.11,288.24 43.89,288.05 44.70,287.90 45.55,287.82 46.48,287.84 47.50,288.08 48.62,288.47 49.79,288.92 50.95,289.37 52.07,289.75 53.10,289.99 54.00,289.97 54.81,289.81 55.58,289.58 56.34,289.35 57.16,289.19 58.06,289.17 59.07,289.31 60.14,289.57 61.27,289.89 62.41,290.24 63.56,290.57 64.68,290.82 65.78,291.01 66.89,291.16 67.99,291.29 69.09,291.40 70.20,291.52 71.30,291.65 72.42,291.79 73.57,291.94 74.71,292.09 75.83,292.24 76.91,292.37 77.92,292.48 78.90,292.56 79.88,292.64 80.81,292.69 81.66,292.74 82.36,292.78 82.88,292.81 82.88,296.81 82.36,296.78 81.66,296.74 80.81,296.69 79.88,296.64 78.90,296.56 77.92,296.48 76.91,296.37 75.83,296.24 74.71,296.09 73.57,295.94 72.42,295.79 71.30,295.65 70.20,295.52 69.09,295.40 67.99,295.29 66.89,295.16 65.78,295.01 64.68,294.82 63.56,294.57 62.41,294.24 61.27,293.89 60.14,293.57 59.07,293.31 58.06,293.17 57.16,293.19 56.34,293.35 55.58,293.58 54.81,293.81 54.00,293.97 53.10,293.99 52.07,293.92 50.95,293.70 49.79,293.42 48.62,293.13 47.50,292.92 46.48,292.84 45.55,292.82 44.70,292.90 43.89,293.05 43.11,293.24 42.32,293.45 41.51,293.67 40.68,293.73 39.83,293.84 38.98,293.97 38.14,294.11 37.33,294.23 36.55,294.32 35.76,294.39 34.95,294.45 34.17,294.50 33.45,294.53 32.85,294.53 32.41,294.48" fill="#f9b48a" fill-opacity="0.55" stroke="none"/>
<polygon points="32.41,293.48 33.43,293.22 34.86,292.91 36.55,292.59 38.33,292.26 40.03,291.94 41.51,291.65 42.74,291.46 43.84,291.25 44.87,291.06 45.89,290.91 46.96,290.82 48.13,290.82 49.45,291.08 50.89,291.52 52.37,292.02 53.83,292.48 55.20,292.78 56.41,292.81 57.41,292.45 58.24,291.86 58.99,291.12 59.72,290.29 60.49,289.45 61.37,288.67 62.40,287.55 63.52,286.37 64.68,285.17 65.84,284.02 66.96,282.95 67.99,282.03 68.91,281.51 69.77,281.10 70.58,280.78 71.36,280.53 72.15,280.34 72.95,280.20 73.78,280.28 74.61,280.43 75.44,280.64 76.26,280.90 77.09,281.19 77.92,281.53 78.80,282.11 79.76,282.79 80.71,283.52 81.60,284.22 82.34,284.85 82.88,285.34 82.88,295.34 82.34,295.18 81.60,294.89 80.71,294.52 79.76,294.12 78.80,293.78 77.92,293.53 77.09,293.19 76.26,292.90 75.44,292.64 74.61,292.43 73.78,292.28 72.95,292.20 72.15,292.01 71.36,291.86 70.58,291.78 69.77,291.76 68.91,291.84 67.99,292.03 66.96,292.12 65.84,292.35 64.68,292.67 63.52,293.04 62.40,293.38 61.37,293.67 60.49,294.28 59.72,294.96 58.99,295.62 58.24,296.20 57.41,296.62 56.41,296.81 55.20,296.78 53.83,296.48 52.37,296.02 50.89,295.52 49.45,295.08 48.13,294.82 46.96,294.65 45.89,294.58 44.87,294.56 43.84,294.59 42.74,294.63 41.51,294.65 40.03,294.61 38.33,294.59 36.55,294.59 34.86,294.58 33.43,294.55 32.41,294.48" fill="#9090f0" fill-opacity="0.45" stroke="none"/>
<polygon points="32.41,293.48 33.43,293.18 34.86,292.83 36.55,292.45 38.33,292.06 40.03,291.68 41.51,291.32 42.74,291.13 43.84,290.90 44.87,290.68 45.89,290.51 46.96,290.44 48.13,290.49 49.45,290.78 50.89,291.29 52.37,291.89 53.83,292.46 55.20,292.86 56.41,292.98 57.41,292.68 58.24,292.14 58.99,291.43 59.72,290.65 60.49,289.87 61.37,289.17 62.40,288.48 63.52,287.73 64.68,286.97 65.84,286.28 66.96,285.72 67.99,285.36 68.91,285.29 69.77,285.40 70.58,285.64 71.36,285.96 72.15,286.32 72.95,286.68 73.78,287.06 74.61,287.49 75.44,287.96 76.26,288.47 77.09,288.98 77.92,289.49 78.80,290.06 79.76,290.68 80.71,291.33 81.60,291.93 82.34,292.44 82.88,292.80 82.88,297.80 82.34,297.44 81.60,296.93 80.71,296.33 79.76,295.68 78.80,295.06 77.92,294.49 77.09,293.98 76.26,293.47 75.44,292.96 74.61,292.49 73.78,292.06 72.95,291.68 72.15,291.32 71.36,290.96 70.58,290.64 69.77,290.40 68.91,290.29 67.99,290.36 66.96,290.56 65.84,290.95 64.68,291.47 63.52,292.06 62.40,292.65 61.37,293.17 60.49,293.70 59.72,294.32 58.99,294.93 58.24,295.47 57.41,295.84 56.41,295.98 55.20,295.86 53.83,295.46 52.37,294.89 50.89,294.29 49.45,293.78 48.13,293.49 46.96,293.44 45.89,293.51 44.87,293.68 43.84,293.90 42.74,294.13 41.51,294.32 40.03,294.34 38.33,294.39 36.55,294.45 34.86,294.50 33.43,294.52 32.41,294.48" fill="#88dd88" fill-opacity="0.50" stroke="none"/>
<polyline points="32.41,293.98 32.85,293.86 33.45,293.70 34.17,293.50 34.95,293.29 35.76,293.06 36.55,292.82 37.33,292.57 38.14,292.28 38.98,291.97 39.83,291.68 40.68,291.40 41.51,291.17 42.32,290.95 43.11,290.74 43.89,290.55 44.70,290.40 45.55,290.32 46.48,290.34 47.50,290.50 48.62,290.80 49.79,291.17 50.95,291.54 52.07,291.83 53.10,291.99 54.00,291.97 54.81,291.81 55.58,291.58 56.34,291.35 57.16,291.19 58.06,291.17 59.07,291.31 60.14,291.57 61.27,291.89 62.41,292.24 63.56,292.57 64.68,292.82 65.78,293.01 66.89,293.16 67.99,293.29 69.09,293.40 70.20,293.52 71.30,293.65 72.42,293.79 73.57,293.94 74.71,294.09 75.83,294.24 76.91,294.37 77.92,294.48 78.90,294.56 79.88,294.64 80.81,294.69 81.66,294.74 82.36,294.78 82.88,294.81" fill="none" stroke="#f58a4a" stroke-width="0.85"/>
<polyline points="32.41,293.98 33.43,293.88 34.86,293.75 36.55,293.59 38.33,293.42 40.03,293.27 41.51,293.15 42.74,293.04 43.84,292.92 44.87,292.81 45.89,292.74 46.96,292.74 48.13,292.82 49.45,293.08 50.89,293.52 52.37,294.02 53.83,294.48 55.20,294.78 56.41,294.81 57.41,294.53 58.24,294.03 58.99,293.37 59.72,292.63 60.49,291.87 61.37,291.17 62.40,290.47 63.52,289.70 64.68,288.92 65.84,288.18 66.96,287.53 67.99,287.03 68.91,286.68 69.77,286.43 70.58,286.28 71.36,286.20 72.15,286.18 72.95,286.20 73.78,286.28 74.61,286.43 75.44,286.64 76.26,286.90 77.09,287.19 77.92,287.53 78.80,287.94 79.76,288.46 80.71,289.02 81.60,289.56 82.34,290.02 82.88,290.34" fill="none" stroke="#3344dd" stroke-width="0.85"/>
<polyline points="32.41,293.98 33.43,293.85 34.86,293.67 36.55,293.45 38.33,293.23 40.03,293.01 41.51,292.82 42.74,292.63 43.84,292.40 44.87,292.18 45.89,292.01 46.96,291.94 48.13,291.99 49.45,292.28 50.89,292.79 52.37,293.39 53.83,293.96 55.20,294.36 56.41,294.48 57.41,294.26 58.24,293.80 58.99,293.18 59.72,292.49 60.49,291.79 61.37,291.17 62.40,290.56 63.52,289.89 64.68,289.22 65.84,288.62 66.96,288.14 67.99,287.86 68.91,287.79 69.77,287.90 70.58,288.14 71.36,288.46 72.15,288.82 72.95,289.18 73.78,289.56 74.61,289.99 75.44,290.46 76.26,290.97 77.09,291.48 77.92,291.99 78.80,292.56 79.76,293.18 80.71,293.83 81.60,294.43 82.34,294.94 82.88,295.30" fill="none" stroke="#2aa84a" stroke-width="0.85"/>
<line x1="41.50" y1="278.10" x2="41.50" y2="319.80" stroke="#111" stroke-width="0.95" stroke-dasharray="2.2,1.6"/>
<text x="45.30" y="283.60" font-size="4.70" font-weight="bold" text-anchor="start" fill="#ee2222" stroke="#ee2222" stroke-width="0.19">Cue-light on</text>
<line x1="32.40" y1="276.80" x2="32.40" y2="320.10" stroke="#333" stroke-width="0.55"/>
<line x1="32.40" y1="319.80" x2="83.00" y2="319.80" stroke="#999" stroke-width="0.55"/>
<line x1="31.00" y1="277.10" x2="32.40" y2="277.10" stroke="#333" stroke-width="0.45"/>
<text x="30.50" y="278.30" font-size="3.60" font-weight="normal" text-anchor="end" fill="#333" stroke="#333" stroke-width="0.20">2</text>
<line x1="31.00" y1="285.64" x2="32.40" y2="285.64" stroke="#333" stroke-width="0.45"/>
<text x="30.50" y="286.84" font-size="3.60" font-weight="normal" text-anchor="end" fill="#333" stroke="#333" stroke-width="0.20">1</text>
<line x1="31.00" y1="294.18" x2="32.40" y2="294.18" stroke="#333" stroke-width="0.45"/>
<text x="30.50" y="295.38" font-size="3.60" font-weight="normal" text-anchor="end" fill="#333" stroke="#333" stroke-width="0.20">0</text>
<line x1="31.00" y1="302.72" x2="32.40" y2="302.72" stroke="#333" stroke-width="0.45"/>
<text x="30.50" y="303.92" font-size="3.60" font-weight="normal" text-anchor="end" fill="#333" stroke="#333" stroke-width="0.20">-1</text>
<line x1="31.00" y1="311.26" x2="32.40" y2="311.26" stroke="#333" stroke-width="0.45"/>
<text x="30.50" y="312.46" font-size="3.60" font-weight="normal" text-anchor="end" fill="#333" stroke="#333" stroke-width="0.20">-2</text>
<line x1="31.00" y1="319.80" x2="32.40" y2="319.80" stroke="#333" stroke-width="0.45"/>
<text x="30.50" y="321.00" font-size="3.60" font-weight="normal" text-anchor="end" fill="#333" stroke="#333" stroke-width="0.20">-3</text>
<line x1="32.20" y1="319.80" x2="32.20" y2="321.10" stroke="#333" stroke-width="0.45"/>
<text x="32.20" y="326.00" font-size="3.60" font-weight="bold" text-anchor="middle" fill="#222" stroke="#222" stroke-width="0.14">-0.5</text>
<line x1="44.90" y1="319.80" x2="44.90" y2="321.10" stroke="#333" stroke-width="0.45"/>
<text x="44.90" y="326.00" font-size="3.60" font-weight="bold" text-anchor="middle" fill="#222" stroke="#222" stroke-width="0.14">0</text>
<line x1="57.60" y1="319.80" x2="57.60" y2="321.10" stroke="#333" stroke-width="0.45"/>
<text x="57.60" y="326.00" font-size="3.60" font-weight="bold" text-anchor="middle" fill="#222" stroke="#222" stroke-width="0.14">0.5</text>
<line x1="70.30" y1="319.80" x2="70.30" y2="321.10" stroke="#333" stroke-width="0.45"/>
<text x="70.30" y="326.00" font-size="3.60" font-weight="bold" text-anchor="middle" fill="#222" stroke="#222" stroke-width="0.14">1</text>
<line x1="83.00" y1="319.80" x2="83.00" y2="321.10" stroke="#333" stroke-width="0.45"/>
<text x="83.00" y="326.00" font-size="3.60" font-weight="bold" text-anchor="middle" fill="#222" stroke="#222" stroke-width="0.14">1.5</text>
<text x="57.20" y="330.40" font-size="4.00" font-weight="bold" text-anchor="middle" fill="#111" stroke="#111" stroke-width="0.14">Time (s)</text>
<text x="25.30" y="299.40" font-size="4.00" font-weight="bold" text-anchor="middle" fill="#111" transform="rotate(-90 25.30 299.40)" stroke="#111" stroke-width="0.14">DeltaF/F(%)</text>
<line x1="32.30" y1="274.90" x2="36.60" y2="274.90" stroke="#f58a4a" stroke-width="1.40"/>
<text x="38.30" y="276.10" font-size="3.40" font-weight="bold" text-anchor="start" fill="#222" stroke="#222" stroke-width="0.14">Day-1</text>
<line x1="49.70" y1="274.90" x2="54.00" y2="274.90" stroke="#3344dd" stroke-width="1.40"/>
<text x="55.70" y="276.10" font-size="3.40" font-weight="bold" text-anchor="start" fill="#222" stroke="#222" stroke-width="0.14">Day-6</text>
<line x1="67.10" y1="274.90" x2="71.40" y2="274.90" stroke="#2aa84a" stroke-width="1.40"/>
<text x="73.10" y="276.10" font-size="3.40" font-weight="bold" text-anchor="start" fill="#222" stroke="#222" stroke-width="0.14">Day-10</text>
<polygon points="236.31,297.41 237.06,297.10 238.11,296.73 239.35,296.34 240.66,295.96 241.93,295.61 243.05,295.32 244.00,295.30 244.86,295.31 245.69,295.36 246.52,295.43 247.40,295.54 248.37,295.68 249.47,295.86 250.67,296.09 251.91,296.35 253.16,296.62 254.36,296.88 255.46,297.10 256.43,297.29 257.30,297.50 258.12,297.68 258.94,297.84 259.81,297.94 260.78,297.98 261.88,297.93 263.08,297.79 264.33,297.59 265.57,297.39 266.77,297.21 267.87,297.10 268.84,297.04 269.71,297.03 270.53,297.04 271.35,297.06 272.22,297.09 273.19,297.10 274.30,297.10 275.50,297.11 276.76,297.12 278.01,297.12 279.20,297.12 280.28,297.10 281.29,297.05 282.28,296.99 283.21,296.92 284.04,296.85 284.73,296.78 285.25,296.74 285.25,299.74 284.73,299.78 284.04,299.85 283.21,299.92 282.28,299.99 281.29,300.05 280.28,300.10 279.20,300.12 278.01,300.12 276.76,300.12 275.50,300.11 274.30,300.10 273.19,300.10 272.22,300.09 271.35,300.06 270.53,300.04 269.71,300.03 268.84,300.04 267.87,300.10 266.77,300.21 265.57,300.39 264.33,300.59 263.08,300.79 261.88,300.93 260.78,300.98 259.81,300.94 258.94,300.84 258.12,300.68 257.30,300.50 256.43,300.29 255.46,300.10 254.36,299.88 253.16,299.62 251.91,299.35 250.67,299.09 249.47,298.86 248.37,298.68 247.40,298.54 246.52,298.43 245.69,298.36 244.86,298.31 244.00,298.30 243.05,298.32 241.93,298.21 240.66,298.16 239.35,298.14 238.11,298.13 237.06,298.10 236.31,298.01" fill="#f9b48a" fill-opacity="0.55" stroke="none"/>
<polygon points="236.31,297.41 237.06,297.08 238.11,296.69 239.35,296.28 240.66,295.84 241.93,295.40 243.05,294.97 244.00,294.62 244.86,294.22 245.69,293.82 246.52,293.46 247.40,293.19 248.37,293.05 249.48,293.08 250.70,293.24 251.97,293.49 253.23,293.78 254.41,294.07 255.46,294.32 256.33,294.69 257.07,295.14 257.73,295.60 258.38,295.96 259.08,296.16 259.89,296.10 260.82,295.46 261.80,294.55 262.83,293.46 263.90,292.30 264.99,291.17 266.10,290.16 267.25,289.07 268.46,287.98 269.70,286.92 270.93,285.90 272.10,284.96 273.19,284.12 274.16,283.70 275.04,283.36 275.87,283.09 276.70,282.90 277.56,282.78 278.51,282.73 279.63,282.89 280.90,283.19 282.21,283.56 283.45,283.95 284.50,284.28 285.25,284.50 285.25,298.50 284.50,298.28 283.45,297.95 282.21,297.56 280.90,297.19 279.63,296.89 278.51,296.73 277.56,296.61 276.70,296.56 275.87,296.59 275.04,296.69 274.16,296.87 273.19,297.12 272.10,297.13 270.93,297.24 269.70,297.42 268.46,297.65 267.25,297.91 266.10,298.16 264.99,298.67 263.90,299.30 262.83,299.96 261.80,300.55 260.82,300.96 259.89,301.10 259.08,301.16 258.38,300.96 257.73,300.60 257.07,300.14 256.33,299.69 255.46,299.32 254.41,298.91 253.23,298.45 251.97,297.99 250.70,297.57 249.48,297.24 248.37,297.05 247.40,297.02 246.52,297.13 245.69,297.32 244.86,297.56 244.00,297.79 243.05,297.97 241.93,298.00 240.66,298.04 239.35,298.08 238.11,298.09 237.06,298.08 236.31,298.01" fill="#9090f0" fill-opacity="0.45" stroke="none"/>
<polygon points="236.31,297.41 237.06,297.07 238.11,296.66 239.35,296.22 240.66,295.78 241.93,295.35 243.05,294.97 244.00,294.75 244.86,294.52 245.69,294.31 246.52,294.15 247.40,294.08 248.37,294.14 249.48,294.42 250.70,294.85 251.97,295.38 253.23,295.92 254.41,296.42 255.46,296.80 256.33,297.10 257.07,297.39 257.73,297.63 258.38,297.78 259.08,297.81 259.89,297.68 260.82,297.29 261.80,296.70 262.83,295.98 263.90,295.22 264.99,294.51 266.10,293.94 267.25,293.40 268.46,292.88 269.70,292.41 270.93,292.03 272.10,291.76 273.19,291.66 274.16,291.83 275.04,292.16 275.87,292.61 276.70,293.14 277.56,293.73 278.51,294.32 279.63,295.01 280.90,295.83 282.21,296.71 283.45,297.54 284.50,298.25 285.25,298.76 285.25,303.76 284.50,303.25 283.45,302.54 282.21,301.71 280.90,300.83 279.63,300.01 278.51,299.32 277.56,298.73 276.70,298.14 275.87,297.61 275.04,297.16 274.16,296.83 273.19,296.66 272.10,296.60 270.93,296.69 269.70,296.91 268.46,297.22 267.25,297.57 266.10,297.94 264.99,298.44 263.90,299.08 262.83,299.78 261.80,300.43 260.82,300.96 259.89,301.28 259.08,301.41 258.38,301.38 257.73,301.23 257.07,300.99 256.33,300.70 255.46,300.40 254.41,300.02 253.23,299.52 251.97,298.98 250.70,298.45 249.48,298.02 248.37,297.74 247.40,297.58 246.52,297.55 245.69,297.61 244.86,297.72 244.00,297.85 243.05,297.97 241.93,297.95 240.66,297.98 239.35,298.02 238.11,298.06 237.06,298.07 236.31,298.01" fill="#88dd88" fill-opacity="0.50" stroke="none"/>
<polyline points="236.31,297.71 237.06,297.60 238.11,297.43 239.35,297.24 240.66,297.06 241.93,296.91 243.05,296.82 244.00,296.80 244.86,296.81 245.69,296.86 246.52,296.93 247.40,297.04 248.37,297.18 249.47,297.36 250.67,297.59 251.91,297.85 253.16,298.12 254.36,298.38 255.46,298.60 256.43,298.79 257.30,299.00 258.12,299.18 258.94,299.34 259.81,299.44 260.78,299.48 261.88,299.43 263.08,299.29 264.33,299.09 265.57,298.89 266.77,298.71 267.87,298.60 268.84,298.54 269.71,298.53 270.53,298.54 271.35,298.56 272.22,298.59 273.19,298.60 274.30,298.60 275.50,298.61 276.76,298.62 278.01,298.62 279.20,298.62 280.28,298.60 281.29,298.55 282.28,298.49 283.21,298.42 284.04,298.35 284.73,298.28 285.25,298.24" fill="none" stroke="#f58a4a" stroke-width="0.85"/>
<polyline points="236.31,297.71 237.06,297.58 238.11,297.39 239.35,297.18 240.66,296.94 241.93,296.70 243.05,296.47 244.00,296.21 244.86,295.89 245.69,295.57 246.52,295.29 247.40,295.10 248.37,295.05 249.48,295.16 250.70,295.40 251.97,295.74 253.23,296.11 254.41,296.49 255.46,296.82 256.33,297.19 257.07,297.64 257.73,298.10 258.38,298.46 259.08,298.66 259.89,298.60 260.82,298.21 261.80,297.55 262.83,296.71 263.90,295.80 264.99,294.92 266.10,294.16 267.25,293.49 268.46,292.82 269.70,292.17 270.93,291.57 272.10,291.04 273.19,290.62 274.16,290.28 275.04,290.03 275.87,289.84 276.70,289.73 277.56,289.69 278.51,289.73 279.63,289.89 280.90,290.19 282.21,290.56 283.45,290.95 284.50,291.28 285.25,291.50" fill="none" stroke="#3344dd" stroke-width="0.85"/>
<polyline points="236.31,297.71 237.06,297.57 238.11,297.36 239.35,297.12 240.66,296.88 241.93,296.65 243.05,296.47 244.00,296.30 244.86,296.12 245.69,295.96 246.52,295.85 247.40,295.83 248.37,295.94 249.48,296.22 250.70,296.65 251.97,297.18 253.23,297.72 254.41,298.22 255.46,298.60 256.33,298.90 257.07,299.19 257.73,299.43 258.38,299.58 259.08,299.61 259.89,299.48 260.82,299.13 261.80,298.56 262.83,297.88 263.90,297.15 264.99,296.48 266.10,295.94 267.25,295.49 268.46,295.05 269.70,294.66 270.93,294.36 272.10,294.18 273.19,294.16 274.16,294.33 275.04,294.66 275.87,295.11 276.70,295.64 277.56,296.23 278.51,296.82 279.63,297.51 280.90,298.33 282.21,299.21 283.45,300.04 284.50,300.75 285.25,301.26" fill="none" stroke="#2aa84a" stroke-width="0.85"/>
<line x1="248.50" y1="281.90" x2="248.50" y2="322.90" stroke="#111" stroke-width="0.95" stroke-dasharray="2.2,1.6"/>
<line x1="236.30" y1="280.60" x2="236.30" y2="323.20" stroke="#333" stroke-width="0.55"/>
<line x1="236.30" y1="322.90" x2="284.70" y2="322.90" stroke="#999" stroke-width="0.55"/>
<line x1="234.90" y1="280.90" x2="236.30" y2="280.90" stroke="#333" stroke-width="0.45"/>
<text x="234.40" y="282.10" font-size="3.60" font-weight="normal" text-anchor="end" fill="#333" stroke="#333" stroke-width="0.20">2</text>
<line x1="234.90" y1="289.30" x2="236.30" y2="289.30" stroke="#333" stroke-width="0.45"/>
<text x="234.40" y="290.50" font-size="3.60" font-weight="normal" text-anchor="end" fill="#333" stroke="#333" stroke-width="0.20">1</text>
<line x1="234.90" y1="297.70" x2="236.30" y2="297.70" stroke="#333" stroke-width="0.45"/>
<text x="234.40" y="298.90" font-size="3.60" font-weight="normal" text-anchor="end" fill="#333" stroke="#333" stroke-width="0.20">0</text>
<line x1="234.90" y1="306.10" x2="236.30" y2="306.10" stroke="#333" stroke-width="0.45"/>
<text x="234.40" y="307.30" font-size="3.60" font-weight="normal" text-anchor="end" fill="#333" stroke="#333" stroke-width="0.20">-1</text>
<line x1="234.90" y1="314.50" x2="236.30" y2="314.50" stroke="#333" stroke-width="0.45"/>
<text x="234.40" y="315.70" font-size="3.60" font-weight="normal" text-anchor="end" fill="#333" stroke="#333" stroke-width="0.20">-2</text>
<line x1="234.90" y1="322.90" x2="236.30" y2="322.90" stroke="#333" stroke-width="0.45"/>
<text x="234.40" y="324.10" font-size="3.60" font-weight="normal" text-anchor="end" fill="#333" stroke="#333" stroke-width="0.20">-3</text>
<line x1="236.30" y1="322.90" x2="236.30" y2="324.20" stroke="#333" stroke-width="0.45"/>
<text x="236.30" y="327.30" font-size="3.60" font-weight="bold" text-anchor="middle" fill="#222" stroke="#222" stroke-width="0.14">-0.5</text>
<line x1="248.40" y1="322.90" x2="248.40" y2="324.20" stroke="#333" stroke-width="0.45"/>
<text x="248.40" y="327.30" font-size="3.60" font-weight="bold" text-anchor="middle" fill="#222" stroke="#222" stroke-width="0.14">0</text>
<line x1="260.50" y1="322.90" x2="260.50" y2="324.20" stroke="#333" stroke-width="0.45"/>
<text x="260.50" y="327.30" font-size="3.60" font-weight="bold" text-anchor="middle" fill="#222" stroke="#222" stroke-width="0.14">0.5</text>
<line x1="272.60" y1="322.90" x2="272.60" y2="324.20" stroke="#333" stroke-width="0.45"/>
<text x="272.60" y="327.30" font-size="3.60" font-weight="bold" text-anchor="middle" fill="#222" stroke="#222" stroke-width="0.14">1</text>
<line x1="284.70" y1="322.90" x2="284.70" y2="324.20" stroke="#333" stroke-width="0.45"/>
<text x="284.70" y="327.30" font-size="3.60" font-weight="bold" text-anchor="middle" fill="#222" stroke="#222" stroke-width="0.14">1.5</text>
<text x="261.10" y="332.80" font-size="3.70" font-weight="bold" text-anchor="middle" fill="#111" stroke="#111" stroke-width="0.14">Time (s)</text>
<text x="229.00" y="303.90" font-size="3.70" font-weight="bold" text-anchor="middle" fill="#111" transform="rotate(-90 229.00 303.90)" stroke="#111" stroke-width="0.14">DeltaF/F(%)</text>
<line x1="239.00" y1="280.60" x2="243.30" y2="280.60" stroke="#f58a4a" stroke-width="1.40"/>
<text x="245.00" y="281.80" font-size="3.40" font-weight="normal" text-anchor="start" fill="#222" stroke="#222" stroke-width="0.20">Day-1</text>
<line x1="256.30" y1="280.60" x2="260.60" y2="280.60" stroke="#3344dd" stroke-width="1.40"/>
<text x="262.30" y="281.80" font-size="3.40" font-weight="normal" text-anchor="start" fill="#222" stroke="#222" stroke-width="0.20">Day-6</text>
<line x1="274.00" y1="280.60" x2="278.30" y2="280.60" stroke="#2aa84a" stroke-width="1.40"/>
<text x="280.00" y="281.80" font-size="3.40" font-weight="normal" text-anchor="start" fill="#222" stroke="#222" stroke-width="0.20">Day-10</text>
<polygon points="35.24,444.32 35.58,443.76 36.04,443.06 36.58,442.28 37.20,441.51 37.86,440.84 38.55,440.34 39.26,440.38 40.02,440.57 40.82,440.85 41.67,441.16 42.57,441.46 43.51,441.67 44.54,441.73 45.66,441.79 46.82,441.82 47.99,441.82 49.11,441.77 50.13,441.67 51.02,441.38 51.79,441.01 52.51,440.59 53.26,440.17 54.10,439.80 55.10,439.51 56.30,439.41 57.67,439.36 59.13,439.36 60.61,439.39 62.05,439.45 63.37,439.51 64.57,439.60 65.70,439.73 66.78,439.87 67.84,440.03 68.91,440.19 69.99,440.34 71.08,440.48 72.15,440.62 73.22,440.75 74.30,440.89 75.43,441.03 76.61,441.17 77.95,441.31 79.45,441.47 80.99,441.63 82.44,441.78 83.67,441.90 84.55,441.99 84.55,445.99 83.67,445.90 82.44,445.78 80.99,445.63 79.45,445.47 77.95,445.31 76.61,445.17 75.43,445.03 74.30,444.89 73.22,444.75 72.15,444.62 71.08,444.48 69.99,444.34 68.91,444.19 67.84,444.03 66.78,443.87 65.70,443.73 64.57,443.60 63.37,443.51 62.05,443.45 60.61,443.39 59.13,443.36 57.67,443.36 56.30,443.41 55.10,443.51 54.10,443.63 53.26,443.84 52.51,444.09 51.79,444.34 51.02,444.55 50.13,444.67 49.11,444.77 47.99,444.82 46.82,444.82 45.66,444.79 44.54,444.73 43.51,444.67 42.57,444.62 41.67,444.50 40.82,444.35 40.02,444.23 39.26,444.21 38.55,444.34 37.86,444.34 37.20,444.51 36.58,444.78 36.04,445.06 35.58,445.26 35.24,445.32" fill="#f9b48a" fill-opacity="0.55" stroke="none"/>
<polygon points="35.24,442.49 35.78,442.21 36.53,441.85 37.41,441.48 38.36,441.12 39.32,440.84 40.20,440.67 41.03,440.63 41.86,440.70 42.69,440.84 43.51,441.01 44.34,441.18 45.17,441.32 45.99,441.50 46.82,441.68 47.65,441.85 48.48,442.03 49.30,442.24 50.13,442.48 50.96,442.69 51.79,442.94 52.61,443.22 53.44,443.50 54.27,443.75 55.10,443.96 55.92,444.24 56.75,444.53 57.58,444.80 58.41,445.00 59.23,445.12 60.06,445.11 60.87,444.98 61.65,444.65 62.44,444.23 63.25,443.83 64.10,443.53 65.02,443.46 66.05,443.56 67.17,443.84 68.33,444.24 69.50,444.69 70.62,445.11 71.64,445.44 72.59,445.72 73.48,446.01 74.33,446.28 75.14,446.49 75.90,446.60 76.61,446.60 77.24,446.45 77.79,446.11 78.28,445.67 78.78,445.25 79.31,444.97 79.92,444.94 80.67,445.16 81.54,445.63 82.44,446.24 83.30,446.88 84.03,447.42 84.55,447.75 84.55,461.75 84.03,461.25 83.30,460.54 82.44,459.74 81.54,458.97 80.67,458.33 79.92,457.94 79.31,457.97 78.78,458.25 78.28,458.67 77.79,459.11 77.24,459.45 76.61,459.60 75.90,459.44 75.14,459.15 74.33,458.78 73.48,458.34 72.59,457.89 71.64,457.44 70.62,456.94 69.50,456.36 68.33,455.74 67.17,455.18 66.05,454.73 65.02,454.46 64.10,454.53 63.25,454.83 62.44,455.23 61.65,455.65 60.87,455.98 60.06,456.11 59.23,455.96 58.41,455.67 57.58,455.30 56.75,454.86 55.92,454.40 55.10,453.96 54.27,453.42 53.44,452.83 52.61,452.22 51.79,451.61 50.96,451.02 50.13,450.48 49.30,450.07 48.48,449.70 47.65,449.35 46.82,449.01 45.99,448.67 45.17,448.32 44.34,447.85 43.51,447.35 42.69,446.84 41.86,446.37 41.03,445.97 40.20,445.67 39.32,445.50 38.36,445.46 37.41,445.48 36.53,445.52 35.78,445.54 35.24,445.49" fill="#9090f0" fill-opacity="0.45" stroke="none"/>
<polygon points="35.24,444.32 35.76,443.89 36.46,443.39 37.31,442.85 38.24,442.28 39.22,441.71 40.20,441.17 41.23,440.91 42.35,440.68 43.51,440.44 44.68,440.19 45.80,439.88 46.82,439.51 47.76,438.98 48.66,438.29 49.51,437.55 50.32,436.88 51.07,436.39 51.79,436.20 52.40,436.39 52.89,436.88 53.34,437.55 53.81,438.29 54.37,438.98 55.10,439.51 56.01,439.86 57.06,440.13 58.20,440.34 59.39,440.55 60.57,440.81 61.72,441.17 62.84,441.61 63.98,442.20 65.13,442.83 66.25,443.41 67.33,443.82 68.33,443.98 69.26,443.86 70.11,443.46 70.92,442.89 71.71,442.29 72.49,441.78 73.30,441.49 74.11,441.43 74.90,441.49 75.70,441.65 76.51,441.86 77.36,442.10 78.26,442.32 79.31,442.57 80.49,442.87 81.72,443.20 82.87,443.52 83.85,443.79 84.55,443.98 84.55,448.98 83.85,448.79 82.87,448.52 81.72,448.20 80.49,447.87 79.31,447.57 78.26,447.32 77.36,447.10 76.51,446.86 75.70,446.65 74.90,446.49 74.11,446.43 73.30,446.49 72.49,446.78 71.71,447.29 70.92,447.89 70.11,448.46 69.26,448.86 68.33,448.98 67.33,448.66 66.25,448.07 65.13,447.33 63.98,446.53 62.84,445.77 61.72,445.17 60.57,444.81 59.39,444.55 58.20,444.34 57.06,444.13 56.01,443.86 55.10,443.51 54.37,442.98 53.81,442.29 53.34,441.55 52.89,440.88 52.40,440.39 51.79,440.20 51.07,440.39 50.32,440.88 49.51,441.55 48.66,442.29 47.76,442.98 46.82,443.51 45.80,443.88 44.68,444.19 43.51,444.44 42.35,444.68 41.23,444.91 40.20,445.17 39.22,445.21 38.24,445.28 37.31,445.35 36.46,445.39 35.76,445.39 35.24,445.32" fill="#88dd88" fill-opacity="0.50" stroke="none"/>
<polyline points="35.24,444.82 35.58,444.51 36.04,444.06 36.58,443.53 37.20,443.01 37.86,442.59 38.55,442.34 39.26,442.30 40.02,442.40 40.82,442.60 41.67,442.83 42.57,443.04 43.51,443.17 44.54,443.23 45.66,443.29 46.82,443.32 47.99,443.32 49.11,443.27 50.13,443.17 51.02,442.97 51.79,442.68 52.51,442.34 53.26,442.00 54.10,441.71 55.10,441.51 56.30,441.41 57.67,441.36 59.13,441.36 60.61,441.39 62.05,441.45 63.37,441.51 64.57,441.60 65.70,441.73 66.78,441.87 67.84,442.03 68.91,442.19 69.99,442.34 71.08,442.48 72.15,442.62 73.22,442.75 74.30,442.89 75.43,443.03 76.61,443.17 77.95,443.31 79.45,443.47 80.99,443.63 82.44,443.78 83.67,443.90 84.55,443.99" fill="none" stroke="#f58a4a" stroke-width="0.85"/>
<polyline points="35.24,443.99 35.78,443.88 36.53,443.69 37.41,443.48 38.36,443.29 39.32,443.17 40.20,443.17 41.03,443.30 41.86,443.54 42.69,443.84 43.51,444.18 44.34,444.52 45.17,444.82 45.99,445.09 46.82,445.34 47.65,445.60 48.48,445.86 49.30,446.15 50.13,446.48 50.96,446.85 51.79,447.27 52.61,447.72 53.44,448.16 54.27,448.58 55.10,448.96 55.92,449.32 56.75,449.69 57.58,450.05 58.41,450.34 59.23,450.54 60.06,450.61 60.87,450.48 61.65,450.15 62.44,449.73 63.25,449.33 64.10,449.03 65.02,448.96 66.05,449.14 67.17,449.51 68.33,449.99 69.50,450.52 70.62,451.03 71.64,451.44 72.59,451.80 73.48,452.18 74.33,452.53 75.14,452.82 75.90,453.02 76.61,453.10 77.24,452.95 77.79,452.61 78.28,452.17 78.78,451.75 79.31,451.47 79.92,451.44 80.67,451.74 81.54,452.30 82.44,452.99 83.30,453.71 84.03,454.33 84.55,454.75" fill="none" stroke="#3344dd" stroke-width="0.85"/>
<polyline points="35.24,444.82 35.76,444.64 36.46,444.39 37.31,444.10 38.24,443.78 39.22,443.46 40.20,443.17 41.23,442.91 42.35,442.68 43.51,442.44 44.68,442.19 45.80,441.88 46.82,441.51 47.76,440.98 48.66,440.29 49.51,439.55 50.32,438.88 51.07,438.39 51.79,438.20 52.40,438.39 52.89,438.88 53.34,439.55 53.81,440.29 54.37,440.98 55.10,441.51 56.01,441.86 57.06,442.13 58.20,442.34 59.39,442.55 60.57,442.81 61.72,443.17 62.84,443.69 63.98,444.36 65.13,445.08 66.25,445.74 67.33,446.24 68.33,446.48 69.26,446.36 70.11,445.96 70.92,445.39 71.71,444.79 72.49,444.28 73.30,443.99 74.11,443.93 74.90,443.99 75.70,444.15 76.51,444.36 77.36,444.60 78.26,444.82 79.31,445.07 80.49,445.37 81.72,445.70 82.87,446.02 83.85,446.29 84.55,446.48" fill="none" stroke="#2aa84a" stroke-width="0.85"/>
<line x1="35.20" y1="427.10" x2="35.20" y2="469.90" stroke="#333" stroke-width="0.55"/>
<line x1="35.20" y1="469.60" x2="85.00" y2="469.60" stroke="#999" stroke-width="0.55"/>
<line x1="33.80" y1="427.40" x2="35.20" y2="427.40" stroke="#333" stroke-width="0.45"/>
<text x="33.30" y="428.60" font-size="3.60" font-weight="normal" text-anchor="end" fill="#333" stroke="#333" stroke-width="0.20">2</text>
<line x1="33.80" y1="435.84" x2="35.20" y2="435.84" stroke="#333" stroke-width="0.45"/>
<text x="33.30" y="437.04" font-size="3.60" font-weight="normal" text-anchor="end" fill="#333" stroke="#333" stroke-width="0.20">1</text>
<line x1="33.80" y1="444.28" x2="35.20" y2="444.28" stroke="#333" stroke-width="0.45"/>
<text x="33.30" y="445.48" font-size="3.60" font-weight="normal" text-anchor="end" fill="#333" stroke="#333" stroke-width="0.20">0</text>
<line x1="33.80" y1="452.72" x2="35.20" y2="452.72" stroke="#333" stroke-width="0.45"/>
<text x="33.30" y="453.92" font-size="3.60" font-weight="normal" text-anchor="end" fill="#333" stroke="#333" stroke-width="0.20">-1</text>
<line x1="33.80" y1="461.16" x2="35.20" y2="461.16" stroke="#333" stroke-width="0.45"/>
<text x="33.30" y="462.36" font-size="3.60" font-weight="normal" text-anchor="end" fill="#333" stroke="#333" stroke-width="0.20">-2</text>
<line x1="33.80" y1="469.60" x2="35.20" y2="469.60" stroke="#333" stroke-width="0.45"/>
<text x="33.30" y="470.80" font-size="3.60" font-weight="normal" text-anchor="end" fill="#333" stroke="#333" stroke-width="0.20">-3</text>
<line x1="35.20" y1="469.60" x2="35.20" y2="470.90" stroke="#333" stroke-width="0.45"/>
<text x="35.20" y="475.00" font-size="3.60" font-weight="bold" text-anchor="middle" fill="#222" stroke="#222" stroke-width="0.14">-1</text>
<line x1="43.50" y1="469.60" x2="43.50" y2="470.90" stroke="#333" stroke-width="0.45"/>
<text x="43.50" y="475.00" font-size="3.60" font-weight="bold" text-anchor="middle" fill="#222" stroke="#222" stroke-width="0.14">0</text>
<line x1="51.80" y1="469.60" x2="51.80" y2="470.90" stroke="#333" stroke-width="0.45"/>
<text x="51.80" y="475.00" font-size="3.60" font-weight="bold" text-anchor="middle" fill="#222" stroke="#222" stroke-width="0.14">1</text>
<line x1="60.10" y1="469.60" x2="60.10" y2="470.90" stroke="#333" stroke-width="0.45"/>
<text x="60.10" y="475.00" font-size="3.60" font-weight="bold" text-anchor="middle" fill="#222" stroke="#222" stroke-width="0.14">2</text>
<line x1="68.40" y1="469.60" x2="68.40" y2="470.90" stroke="#333" stroke-width="0.45"/>
<text x="68.40" y="475.00" font-size="3.60" font-weight="bold" text-anchor="middle" fill="#222" stroke="#222" stroke-width="0.14">3</text>
<line x1="76.70" y1="469.60" x2="76.70" y2="470.90" stroke="#333" stroke-width="0.45"/>
<text x="76.70" y="475.00" font-size="3.60" font-weight="bold" text-anchor="middle" fill="#222" stroke="#222" stroke-width="0.14">4</text>
<line x1="85.00" y1="469.60" x2="85.00" y2="470.90" stroke="#333" stroke-width="0.45"/>
<text x="85.00" y="475.00" font-size="3.60" font-weight="bold" text-anchor="middle" fill="#222" stroke="#222" stroke-width="0.14">5</text>
<text x="60.10" y="479.90" font-size="4.00" font-weight="bold" text-anchor="middle" fill="#111" stroke="#111" stroke-width="0.14">Time (s)</text>
<text x="29.00" y="448.50" font-size="4.00" font-weight="bold" text-anchor="middle" fill="#111" transform="rotate(-90 29.00 448.50)" stroke="#111" stroke-width="0.14">DeltaF/F(%)</text>
<polygon points="237.39,444.67 237.87,444.78 238.53,444.99 239.31,445.24 240.17,445.50 241.03,445.71 241.86,445.82 242.62,445.92 243.35,445.94 244.10,445.93 244.90,445.88 245.80,445.84 246.82,445.82 248.01,445.83 249.33,445.85 250.75,445.87 252.22,445.88 253.68,445.87 255.10,445.82 256.48,445.72 257.85,445.60 259.23,445.46 260.61,445.29 261.99,445.07 263.37,444.79 264.77,444.43 266.19,443.94 267.61,443.40 269.01,442.89 270.36,442.51 271.64,442.31 272.81,442.36 273.88,442.59 274.90,442.93 275.93,443.32 277.04,443.69 278.26,443.97 279.74,444.16 281.45,444.34 283.23,444.48 284.91,444.61 286.35,444.71 287.36,444.79 287.36,447.19 286.35,447.11 284.91,447.01 283.23,446.88 281.45,446.74 279.74,446.56 278.26,446.37 277.04,446.09 275.93,445.72 274.90,445.33 273.88,444.99 272.81,444.76 271.64,444.71 270.36,444.91 269.01,445.29 267.61,445.80 266.19,446.34 264.77,446.83 263.37,447.19 261.99,447.40 260.61,447.56 259.23,447.66 257.85,447.74 256.48,447.78 255.10,447.82 253.68,447.87 252.22,447.88 250.75,447.87 249.33,447.85 248.01,447.83 246.82,447.82 245.80,447.84 244.90,447.88 244.10,447.93 243.35,447.94 242.62,447.92 241.86,447.82 241.03,447.54 240.17,447.17 239.31,446.74 238.53,446.32 237.87,445.95 237.39,445.67" fill="#f9b48a" fill-opacity="0.55" stroke="none"/>
<polygon points="237.39,444.67 237.89,444.71 238.59,444.85 239.42,445.05 240.29,445.23 241.13,445.34 241.86,445.32 242.48,445.31 243.05,445.17 243.58,444.96 244.11,444.74 244.63,444.57 245.17,444.49 245.70,444.50 246.21,444.63 246.72,444.81 247.25,444.96 247.83,444.99 248.48,444.82 249.19,444.40 249.95,443.77 250.75,443.02 251.60,442.25 252.50,441.55 253.44,441.01 254.47,440.73 255.59,440.55 256.75,440.44 257.92,440.37 259.03,440.29 260.06,440.19 260.96,440.06 261.78,439.94 262.54,439.82 263.31,439.69 264.12,439.54 265.02,439.36 266.05,439.09 267.17,438.74 268.33,438.38 269.50,438.04 270.62,437.80 271.64,437.70 272.57,437.84 273.42,438.16 274.23,438.58 275.02,438.99 275.80,439.28 276.61,439.36 277.43,439.13 278.23,438.65 279.04,438.06 279.86,437.49 280.70,437.05 281.57,436.88 282.56,437.03 283.66,437.43 284.78,437.96 285.83,438.53 286.73,439.03 287.36,439.36 287.36,444.36 286.73,444.03 285.83,443.53 284.78,442.96 283.66,442.43 282.56,442.03 281.57,441.88 280.70,442.05 279.86,442.49 279.04,443.06 278.23,443.65 277.43,444.13 276.61,444.36 275.80,444.28 275.02,443.99 274.23,443.58 273.42,443.16 272.57,442.84 271.64,442.70 270.62,442.80 269.50,443.04 268.33,443.38 267.17,443.74 266.05,444.09 265.02,444.36 264.12,444.54 263.31,444.69 262.54,444.82 261.78,444.94 260.96,445.06 260.06,445.19 259.03,445.29 257.92,445.37 256.75,445.44 255.59,445.55 254.47,445.73 253.44,446.01 252.50,446.38 251.60,446.92 250.75,447.52 249.95,448.10 249.19,448.56 248.48,448.82 247.83,448.82 247.25,448.62 246.72,448.31 246.21,447.97 245.70,447.67 245.17,447.49 244.63,447.57 244.11,447.74 243.58,447.96 243.05,448.17 242.48,448.31 241.86,448.32 241.13,448.00 240.29,447.56 239.42,447.05 238.59,446.52 237.89,446.04 237.39,445.67" fill="#9090f0" fill-opacity="0.45" stroke="none"/>
<polygon points="237.39,443.84 237.89,443.93 238.59,444.13 239.42,444.39 240.29,444.66 241.13,444.88 241.86,444.99 242.47,445.12 243.02,445.13 243.53,445.08 244.05,445.06 244.58,445.12 245.17,445.32 245.79,445.68 246.42,446.22 247.08,446.85 247.77,447.45 248.51,447.92 249.30,448.13 250.15,448.12 251.02,447.89 251.94,447.51 252.92,447.09 253.97,446.71 255.10,446.48 256.33,446.42 257.67,446.48 259.08,446.58 260.52,446.66 261.96,446.65 263.37,446.48 264.77,446.06 266.19,445.43 267.61,444.72 269.01,444.03 270.36,443.47 271.64,443.17 272.86,443.19 274.03,443.47 275.16,443.89 276.24,444.33 277.28,444.68 278.26,444.82 279.20,444.65 280.07,444.35 280.90,443.95 281.70,443.51 282.47,443.06 283.23,442.67 284.01,442.37 284.82,442.05 285.61,441.74 286.32,441.44 286.92,441.19 287.36,441.01 287.36,446.01 286.92,446.19 286.32,446.44 285.61,446.74 284.82,447.05 284.01,447.37 283.23,447.67 282.47,447.90 281.70,448.17 280.90,448.45 280.07,448.68 279.20,448.82 278.26,448.82 277.28,448.68 276.24,448.33 275.16,447.89 274.03,447.47 272.86,447.19 271.64,447.17 270.36,447.47 269.01,448.03 267.61,448.72 266.19,449.43 264.77,450.06 263.37,450.48 261.96,450.65 260.52,450.66 259.08,450.58 257.67,450.48 256.33,450.42 255.10,450.48 253.97,450.71 252.92,451.09 251.94,451.51 251.02,451.89 250.15,452.12 249.30,452.13 248.51,451.75 247.77,451.12 247.08,450.35 246.42,449.56 245.79,448.84 245.17,448.32 244.58,448.12 244.05,448.06 243.53,448.08 243.02,448.13 242.47,448.12 241.86,447.99 241.13,447.55 240.29,447.00 239.42,446.39 238.59,445.80 237.89,445.26 237.39,444.84" fill="#88dd88" fill-opacity="0.50" stroke="none"/>
<polyline points="237.39,445.17 237.87,445.37 238.53,445.66 239.31,445.99 240.17,446.33 241.03,446.62 241.86,446.82 242.62,446.92 243.35,446.94 244.10,446.93 244.90,446.88 245.80,446.84 246.82,446.82 248.01,446.83 249.33,446.85 250.75,446.87 252.22,446.88 253.68,446.87 255.10,446.82 256.48,446.75 257.85,446.67 259.23,446.56 260.61,446.42 261.99,446.24 263.37,445.99 264.77,445.63 266.19,445.14 267.61,444.60 269.01,444.09 270.36,443.71 271.64,443.51 272.81,443.56 273.88,443.79 274.90,444.13 275.93,444.52 277.04,444.89 278.26,445.17 279.74,445.36 281.45,445.54 283.23,445.68 284.91,445.81 286.35,445.91 287.36,445.99" fill="none" stroke="#f58a4a" stroke-width="0.85"/>
<polyline points="237.39,445.17 237.89,445.38 238.59,445.69 239.42,446.05 240.29,446.39 241.13,446.67 241.86,446.82 242.48,446.81 243.05,446.67 243.58,446.46 244.11,446.24 244.63,446.07 245.17,445.99 245.70,446.08 246.21,446.30 246.72,446.56 247.25,446.79 247.83,446.90 248.48,446.82 249.19,446.48 249.95,445.93 250.75,445.27 251.60,444.59 252.50,443.97 253.44,443.51 254.47,443.23 255.59,443.05 256.75,442.94 257.92,442.87 259.03,442.79 260.06,442.69 260.96,442.56 261.78,442.44 262.54,442.32 263.31,442.19 264.12,442.04 265.02,441.86 266.05,441.59 267.17,441.24 268.33,440.88 269.50,440.54 270.62,440.30 271.64,440.20 272.57,440.34 273.42,440.66 274.23,441.08 275.02,441.49 275.80,441.78 276.61,441.86 277.43,441.63 278.23,441.15 279.04,440.56 279.86,439.99 280.70,439.55 281.57,439.38 282.56,439.53 283.66,439.93 284.78,440.46 285.83,441.03 286.73,441.53 287.36,441.86" fill="none" stroke="#3344dd" stroke-width="0.85"/>
<polyline points="237.39,444.34 237.89,444.60 238.59,444.97 239.42,445.39 240.29,445.83 241.13,446.21 241.86,446.49 242.47,446.62 243.02,446.63 243.53,446.58 244.05,446.56 244.58,446.62 245.17,446.82 245.79,447.26 246.42,447.89 247.08,448.60 247.77,449.29 248.51,449.83 249.30,450.13 250.15,450.12 251.02,449.89 251.94,449.51 252.92,449.09 253.97,448.71 255.10,448.48 256.33,448.42 257.67,448.48 259.08,448.58 260.52,448.66 261.96,448.65 263.37,448.48 264.77,448.06 266.19,447.43 267.61,446.72 269.01,446.03 270.36,445.47 271.64,445.17 272.86,445.19 274.03,445.47 275.16,445.89 276.24,446.33 277.28,446.68 278.26,446.82 279.20,446.74 280.07,446.52 280.90,446.20 281.70,445.84 282.47,445.48 283.23,445.17 284.01,444.87 284.82,444.55 285.61,444.24 286.32,443.94 286.92,443.69 287.36,443.51" fill="none" stroke="#2aa84a" stroke-width="0.85"/>
<line x1="237.40" y1="428.60" x2="237.40" y2="471.90" stroke="#333" stroke-width="0.55"/>
<line x1="237.40" y1="471.60" x2="287.20" y2="471.60" stroke="#999" stroke-width="0.55"/>
<line x1="236.00" y1="428.90" x2="237.40" y2="428.90" stroke="#333" stroke-width="0.45"/>
<text x="235.50" y="430.10" font-size="3.60" font-weight="normal" text-anchor="end" fill="#333" stroke="#333" stroke-width="0.20">2</text>
<line x1="236.00" y1="437.44" x2="237.40" y2="437.44" stroke="#333" stroke-width="0.45"/>
<text x="235.50" y="438.64" font-size="3.60" font-weight="normal" text-anchor="end" fill="#333" stroke="#333" stroke-width="0.20">1</text>
<line x1="236.00" y1="445.98" x2="237.40" y2="445.98" stroke="#333" stroke-width="0.45"/>
<text x="235.50" y="447.18" font-size="3.60" font-weight="normal" text-anchor="end" fill="#333" stroke="#333" stroke-width="0.20">0</text>
<line x1="236.00" y1="454.52" x2="237.40" y2="454.52" stroke="#333" stroke-width="0.45"/>
<text x="235.50" y="455.72" font-size="3.60" font-weight="normal" text-anchor="end" fill="#333" stroke="#333" stroke-width="0.20">-1</text>
<line x1="236.00" y1="463.06" x2="237.40" y2="463.06" stroke="#333" stroke-width="0.45"/>
<text x="235.50" y="464.26" font-size="3.60" font-weight="normal" text-anchor="end" fill="#333" stroke="#333" stroke-width="0.20">-2</text>
<line x1="236.00" y1="471.60" x2="237.40" y2="471.60" stroke="#333" stroke-width="0.45"/>
<text x="235.50" y="472.80" font-size="3.60" font-weight="normal" text-anchor="end" fill="#333" stroke="#333" stroke-width="0.20">-3</text>
<line x1="237.40" y1="471.60" x2="237.40" y2="472.90" stroke="#333" stroke-width="0.45"/>
<text x="237.40" y="477.00" font-size="3.60" font-weight="bold" text-anchor="middle" fill="#222" stroke="#222" stroke-width="0.14">-1</text>
<line x1="245.70" y1="471.60" x2="245.70" y2="472.90" stroke="#333" stroke-width="0.45"/>
<text x="245.70" y="477.00" font-size="3.60" font-weight="bold" text-anchor="middle" fill="#222" stroke="#222" stroke-width="0.14">0</text>
<line x1="254.00" y1="471.60" x2="254.00" y2="472.90" stroke="#333" stroke-width="0.45"/>
<text x="254.00" y="477.00" font-size="3.60" font-weight="bold" text-anchor="middle" fill="#222" stroke="#222" stroke-width="0.14">1</text>
<line x1="262.30" y1="471.60" x2="262.30" y2="472.90" stroke="#333" stroke-width="0.45"/>
<text x="262.30" y="477.00" font-size="3.60" font-weight="bold" text-anchor="middle" fill="#222" stroke="#222" stroke-width="0.14">2</text>
<line x1="270.60" y1="471.60" x2="270.60" y2="472.90" stroke="#333" stroke-width="0.45"/>
<text x="270.60" y="477.00" font-size="3.60" font-weight="bold" text-anchor="middle" fill="#222" stroke="#222" stroke-width="0.14">3</text>
<line x1="278.90" y1="471.60" x2="278.90" y2="472.90" stroke="#333" stroke-width="0.45"/>
<text x="278.90" y="477.00" font-size="3.60" font-weight="bold" text-anchor="middle" fill="#222" stroke="#222" stroke-width="0.14">4</text>
<line x1="287.20" y1="471.60" x2="287.20" y2="472.90" stroke="#333" stroke-width="0.45"/>
<text x="287.20" y="477.00" font-size="3.60" font-weight="bold" text-anchor="middle" fill="#222" stroke="#222" stroke-width="0.14">5</text>
<text x="262.50" y="481.90" font-size="4.00" font-weight="bold" text-anchor="middle" fill="#111" stroke="#111" stroke-width="0.14">Time (s)</text>
<text x="230.20" y="450.25" font-size="4.00" font-weight="bold" text-anchor="middle" fill="#111" transform="rotate(-90 230.20 450.25)" stroke="#111" stroke-width="0.14">DeltaF/F(%)</text>
<polygon points="33.39,594.67 34.27,594.69 35.51,594.78 36.97,594.88 38.50,594.98 39.94,595.03 41.17,594.99 42.16,594.88 43.03,594.66 43.83,594.40 44.58,594.15 45.34,593.95 46.13,593.87 46.92,593.99 47.66,594.25 48.41,594.56 49.20,594.87 50.08,595.10 51.10,595.19 52.28,595.14 53.61,594.99 55.03,594.77 56.49,594.49 57.95,594.19 59.37,593.87 60.75,593.47 62.13,593.01 63.51,592.52 64.89,592.02 66.27,591.57 67.64,591.19 69.04,590.91 70.46,590.69 71.88,590.51 73.28,590.35 74.64,590.19 75.92,590.03 77.19,589.84 78.49,589.65 79.74,589.46 80.88,589.29 81.84,589.14 82.54,589.03 82.54,592.03 81.84,592.14 80.88,592.29 79.74,592.46 78.49,592.65 77.19,592.84 75.92,593.03 74.64,593.19 73.28,593.35 71.88,593.51 70.46,593.69 69.04,593.91 67.64,594.19 66.27,594.50 64.89,594.89 63.51,595.32 62.13,595.74 60.75,596.14 59.37,596.47 57.95,596.79 56.49,597.09 55.03,597.37 53.61,597.59 52.28,597.74 51.10,597.79 50.08,597.70 49.20,597.47 48.41,597.16 47.66,596.85 46.92,596.59 46.13,596.47 45.34,596.45 44.58,596.55 43.83,596.70 43.03,596.86 42.16,596.98 41.17,596.99 39.94,596.86 38.50,596.64 36.97,596.38 35.51,596.11 34.27,595.86 33.39,595.67" fill="#f9b48a" fill-opacity="0.55" stroke="none"/>
<polygon points="33.39,592.19 33.87,592.25 34.53,592.37 35.31,592.56 36.17,592.84 37.03,593.20 37.86,593.67 38.69,594.30 39.57,595.11 40.46,596.01 41.33,596.92 42.13,597.77 42.82,598.46 43.38,599.22 43.83,599.96 44.22,600.63 44.57,601.19 44.92,601.58 45.30,601.77 45.71,601.70 46.10,601.40 46.49,600.94 46.90,600.39 47.32,599.82 47.79,599.29 48.25,598.75 48.71,598.15 49.18,597.53 49.72,596.93 50.34,596.39 51.10,595.98 52.01,595.71 53.06,595.58 54.20,595.51 55.39,595.46 56.57,595.35 57.72,595.15 58.82,594.82 59.92,594.41 61.02,593.96 62.13,593.49 63.23,593.05 64.33,592.67 65.44,592.33 66.54,592.02 67.64,591.74 68.75,591.47 69.85,591.23 70.95,591.01 72.08,590.81 73.22,590.61 74.37,590.44 75.49,590.31 76.57,590.22 77.57,590.19 78.55,590.24 79.53,590.37 80.47,590.55 81.31,590.74 82.02,590.90 82.54,591.01 82.54,596.01 82.02,595.90 81.31,595.74 80.47,595.55 79.53,595.37 78.55,595.24 77.57,595.19 76.57,595.22 75.49,595.31 74.37,595.44 73.22,595.61 72.08,595.81 70.95,596.01 69.85,596.23 68.75,596.47 67.64,596.74 66.54,597.02 65.44,597.33 64.33,597.67 63.23,598.05 62.13,598.49 61.02,598.96 59.92,599.41 58.82,599.82 57.72,600.15 56.57,600.35 55.39,600.46 54.20,600.51 53.06,600.58 52.01,600.71 51.10,600.98 50.34,601.39 49.72,601.93 49.18,602.53 48.71,603.15 48.25,603.75 47.79,604.29 47.32,604.82 46.90,605.39 46.49,605.94 46.10,606.40 45.71,606.70 45.30,606.77 44.92,606.58 44.57,606.19 44.22,605.63 43.83,604.96 43.38,604.22 42.82,603.46 42.13,602.43 41.33,601.26 40.46,600.01 39.57,598.78 38.69,597.64 37.86,596.67 37.03,595.87 36.17,595.17 35.31,594.56 34.53,594.04 33.87,593.58 33.39,593.19" fill="#9090f0" fill-opacity="0.45" stroke="none"/>
<polygon points="33.39,595.49 34.29,595.26 35.57,594.93 37.07,594.57 38.62,594.27 40.04,594.11 41.17,594.17 41.98,594.41 42.60,594.88 43.10,595.48 43.54,596.14 43.98,596.77 44.48,597.30 44.99,597.78 45.46,598.26 45.92,598.72 46.44,599.12 47.04,599.43 47.79,599.61 48.72,599.65 49.81,599.56 50.99,599.37 52.20,599.13 53.36,598.87 54.41,598.61 55.31,598.55 56.12,598.49 56.89,598.41 57.65,598.28 58.47,598.08 59.37,597.79 60.38,597.53 61.45,597.14 62.58,596.68 63.72,596.22 64.87,595.79 65.99,595.48 67.11,595.21 68.26,595.03 69.40,594.90 70.52,594.77 71.60,594.59 72.61,594.32 73.53,593.82 74.39,593.19 75.19,592.51 75.98,591.87 76.76,591.34 77.57,591.01 78.46,590.92 79.41,591.01 80.37,591.22 81.25,591.47 82.00,591.70 82.54,591.84 82.54,596.84 82.00,596.70 81.25,596.47 80.37,596.22 79.41,596.01 78.46,595.92 77.57,596.01 76.76,596.34 75.98,596.87 75.19,597.51 74.39,598.19 73.53,598.82 72.61,599.32 71.60,599.76 70.52,600.10 69.40,600.40 68.26,600.70 67.11,601.04 65.99,601.48 64.87,602.13 63.72,602.88 62.58,603.68 61.45,604.47 60.38,605.19 59.37,605.79 58.47,606.08 57.65,606.28 56.89,606.41 56.12,606.49 55.31,606.55 54.41,606.61 53.36,606.53 52.20,606.46 50.99,606.37 49.81,606.22 48.72,605.98 47.79,605.61 47.04,605.10 46.44,604.45 45.92,603.72 45.46,602.92 44.99,602.11 44.48,601.30 43.98,600.44 43.54,599.47 43.10,598.48 42.60,597.54 41.98,596.75 41.17,596.17 40.04,595.94 38.62,595.94 37.07,596.07 35.57,596.26 34.29,596.43 33.39,596.49" fill="#88dd88" fill-opacity="0.50" stroke="none"/>
<polyline points="33.39,595.17 34.27,595.28 35.51,595.44 36.97,595.63 38.50,595.81 39.94,595.94 41.17,595.99 42.16,595.93 43.03,595.76 43.83,595.55 44.58,595.35 45.34,595.20 46.13,595.17 46.92,595.29 47.66,595.55 48.41,595.86 49.20,596.17 50.08,596.40 51.10,596.49 52.28,596.44 53.61,596.29 55.03,596.07 56.49,595.79 57.95,595.49 59.37,595.17 60.75,594.81 62.13,594.38 63.51,593.92 64.89,593.46 66.27,593.04 67.64,592.69 69.04,592.41 70.46,592.19 71.88,592.01 73.28,591.85 74.64,591.69 75.92,591.53 77.19,591.34 78.49,591.15 79.74,590.96 80.88,590.79 81.84,590.64 82.54,590.53" fill="none" stroke="#f58a4a" stroke-width="0.85"/>
<polyline points="33.39,592.69 33.87,592.92 34.53,593.21 35.31,593.56 36.17,594.00 37.03,594.53 37.86,595.17 38.69,595.97 39.57,596.94 40.46,598.01 41.33,599.09 42.13,600.10 42.82,600.96 43.38,601.72 43.83,602.46 44.22,603.13 44.57,603.69 44.92,604.08 45.30,604.27 45.71,604.20 46.10,603.90 46.49,603.44 46.90,602.89 47.32,602.32 47.79,601.79 48.25,601.25 48.71,600.65 49.18,600.03 49.72,599.43 50.34,598.89 51.10,598.48 52.01,598.21 53.06,598.08 54.20,598.01 55.39,597.96 56.57,597.85 57.72,597.65 58.82,597.32 59.92,596.91 61.02,596.46 62.13,595.99 63.23,595.55 64.33,595.17 65.44,594.83 66.54,594.52 67.64,594.24 68.75,593.97 69.85,593.73 70.95,593.51 72.08,593.31 73.22,593.11 74.37,592.94 75.49,592.81 76.57,592.72 77.57,592.69 78.55,592.74 79.53,592.87 80.47,593.05 81.31,593.24 82.02,593.40 82.54,593.51" fill="none" stroke="#3344dd" stroke-width="0.85"/>
<polyline points="33.39,595.99 34.29,595.85 35.57,595.60 37.07,595.32 38.62,595.11 40.04,595.03 41.17,595.17 41.98,595.58 42.60,596.21 43.10,596.98 43.54,597.80 43.98,598.61 44.48,599.30 44.99,599.94 45.46,600.59 45.92,601.22 46.44,601.79 47.04,602.26 47.79,602.61 48.72,602.82 49.81,602.89 50.99,602.87 52.20,602.80 53.36,602.70 54.41,602.61 55.31,602.55 56.12,602.49 56.89,602.41 57.65,602.28 58.47,602.08 59.37,601.79 60.38,601.36 61.45,600.81 62.58,600.18 63.72,599.55 64.87,598.96 65.99,598.48 67.11,598.12 68.26,597.86 69.40,597.65 70.52,597.43 71.60,597.17 72.61,596.82 73.53,596.32 74.39,595.69 75.19,595.01 75.98,594.37 76.76,593.84 77.57,593.51 78.46,593.42 79.41,593.51 80.37,593.72 81.25,593.97 82.00,594.20 82.54,594.34" fill="none" stroke="#2aa84a" stroke-width="0.85"/>
<line x1="33.40" y1="578.70" x2="33.40" y2="621.40" stroke="#333" stroke-width="0.55"/>
<line x1="33.40" y1="621.10" x2="82.60" y2="621.10" stroke="#999" stroke-width="0.55"/>
<line x1="32.00" y1="579.00" x2="33.40" y2="579.00" stroke="#333" stroke-width="0.45"/>
<text x="31.50" y="580.20" font-size="3.60" font-weight="normal" text-anchor="end" fill="#333" stroke="#333" stroke-width="0.20">2</text>
<line x1="32.00" y1="587.42" x2="33.40" y2="587.42" stroke="#333" stroke-width="0.45"/>
<text x="31.50" y="588.62" font-size="3.60" font-weight="normal" text-anchor="end" fill="#333" stroke="#333" stroke-width="0.20">1</text>
<line x1="32.00" y1="595.84" x2="33.40" y2="595.84" stroke="#333" stroke-width="0.45"/>
<text x="31.50" y="597.04" font-size="3.60" font-weight="normal" text-anchor="end" fill="#333" stroke="#333" stroke-width="0.20">0</text>
<line x1="32.00" y1="604.26" x2="33.40" y2="604.26" stroke="#333" stroke-width="0.45"/>
<text x="31.50" y="605.46" font-size="3.60" font-weight="normal" text-anchor="end" fill="#333" stroke="#333" stroke-width="0.20">-1</text>
<line x1="32.00" y1="612.68" x2="33.40" y2="612.68" stroke="#333" stroke-width="0.45"/>
<text x="31.50" y="613.88" font-size="3.60" font-weight="normal" text-anchor="end" fill="#333" stroke="#333" stroke-width="0.20">-2</text>
<line x1="32.00" y1="621.10" x2="33.40" y2="621.10" stroke="#333" stroke-width="0.45"/>
<text x="31.50" y="622.30" font-size="3.60" font-weight="normal" text-anchor="end" fill="#333" stroke="#333" stroke-width="0.20">-3</text>
<line x1="33.40" y1="621.10" x2="33.40" y2="622.40" stroke="#333" stroke-width="0.45"/>
<text x="33.40" y="626.50" font-size="3.60" font-weight="bold" text-anchor="middle" fill="#222" stroke="#222" stroke-width="0.14">-1</text>
<line x1="41.60" y1="621.10" x2="41.60" y2="622.40" stroke="#333" stroke-width="0.45"/>
<text x="41.60" y="626.50" font-size="3.60" font-weight="bold" text-anchor="middle" fill="#222" stroke="#222" stroke-width="0.14">0</text>
<line x1="49.80" y1="621.10" x2="49.80" y2="622.40" stroke="#333" stroke-width="0.45"/>
<text x="49.80" y="626.50" font-size="3.60" font-weight="bold" text-anchor="middle" fill="#222" stroke="#222" stroke-width="0.14">1</text>
<line x1="58.00" y1="621.10" x2="58.00" y2="622.40" stroke="#333" stroke-width="0.45"/>
<text x="58.00" y="626.50" font-size="3.60" font-weight="bold" text-anchor="middle" fill="#222" stroke="#222" stroke-width="0.14">2</text>
<line x1="66.20" y1="621.10" x2="66.20" y2="622.40" stroke="#333" stroke-width="0.45"/>
<text x="66.20" y="626.50" font-size="3.60" font-weight="bold" text-anchor="middle" fill="#222" stroke="#222" stroke-width="0.14">3</text>
<line x1="74.40" y1="621.10" x2="74.40" y2="622.40" stroke="#333" stroke-width="0.45"/>
<text x="74.40" y="626.50" font-size="3.60" font-weight="bold" text-anchor="middle" fill="#222" stroke="#222" stroke-width="0.14">4</text>
<line x1="82.60" y1="621.10" x2="82.60" y2="622.40" stroke="#333" stroke-width="0.45"/>
<text x="82.60" y="626.50" font-size="3.60" font-weight="bold" text-anchor="middle" fill="#222" stroke="#222" stroke-width="0.14">5</text>
<text x="58.50" y="631.10" font-size="4.00" font-weight="bold" text-anchor="middle" fill="#111" stroke="#111" stroke-width="0.14">Time (s)</text>
<text x="26.20" y="600.05" font-size="4.00" font-weight="bold" text-anchor="middle" fill="#111" transform="rotate(-90 26.20 600.05)" stroke="#111" stroke-width="0.14">DeltaF/F(%)</text>
<polygon points="237.39,595.99 238.43,595.95 239.88,595.92 241.59,595.91 243.41,595.89 245.21,595.87 246.82,595.82 248.27,595.85 249.67,595.88 251.03,595.89 252.38,595.90 253.73,595.87 255.10,595.82 256.48,595.74 257.85,595.64 259.23,595.51 260.61,595.36 261.99,595.19 263.37,594.99 264.75,594.76 266.13,594.47 267.51,594.17 268.89,593.86 270.27,593.58 271.64,593.34 273.04,593.12 274.46,592.92 275.88,592.74 277.28,592.59 278.64,592.45 279.92,592.31 281.19,592.22 282.49,592.15 283.74,592.10 284.88,592.05 285.84,592.01 286.54,591.98 286.54,594.38 285.84,594.41 284.88,594.45 283.74,594.50 282.49,594.55 281.19,594.62 279.92,594.71 278.64,594.78 277.28,594.85 275.88,594.94 274.46,595.05 273.04,595.18 271.64,595.34 270.27,595.58 268.89,595.86 267.51,596.17 266.13,596.47 264.75,596.76 263.37,596.99 261.99,597.19 260.61,597.36 259.23,597.51 257.85,597.64 256.48,597.74 255.10,597.82 253.73,597.87 252.38,597.90 251.03,597.89 249.67,597.88 248.27,597.85 246.82,597.82 245.21,597.70 243.41,597.56 241.59,597.41 239.88,597.26 238.43,597.11 237.39,596.99" fill="#f9b48a" fill-opacity="0.55" stroke="none"/>
<polygon points="237.39,597.15 237.89,596.92 238.59,596.69 239.42,596.44 240.29,596.15 241.13,595.78 241.86,595.32 242.50,594.60 243.11,593.80 243.69,592.93 244.23,592.00 244.72,591.02 245.17,590.01 245.54,589.04 245.84,587.90 246.10,586.72 246.33,585.61 246.57,584.68 246.82,584.05 247.08,583.88 247.31,583.93 247.55,584.15 247.80,584.54 248.11,585.06 248.48,585.70 248.93,586.64 249.46,587.83 250.03,589.16 250.62,590.51 251.22,591.77 251.79,592.82 252.30,593.57 252.77,594.20 253.23,594.74 253.75,595.21 254.35,595.67 255.10,596.13 255.97,596.44 256.93,596.72 257.99,596.98 259.14,597.21 260.38,597.42 261.72,597.61 263.22,597.87 264.90,598.12 266.68,598.35 268.46,598.54 270.14,598.68 271.64,598.77 272.92,598.90 274.03,599.01 275.06,599.08 276.06,599.08 277.10,598.98 278.26,598.77 279.64,598.54 281.21,598.12 282.81,597.61 284.33,597.11 285.62,596.69 286.54,596.46 286.54,605.46 285.62,606.02 284.33,606.77 282.81,607.61 281.21,608.45 279.64,609.20 278.26,609.77 277.10,609.98 276.06,610.08 275.06,610.08 274.03,610.01 272.92,609.90 271.64,609.77 270.14,609.51 268.46,609.20 266.68,608.85 264.90,608.45 263.22,608.04 261.72,607.61 260.38,607.09 259.14,606.55 257.99,605.98 256.93,605.38 255.97,604.77 255.10,604.13 254.35,603.67 253.75,603.21 253.23,602.74 252.77,602.20 252.30,601.57 251.79,600.82 251.22,599.94 250.62,598.84 250.03,597.66 249.46,596.50 248.93,595.47 248.48,594.70 248.11,594.06 247.80,593.54 247.55,593.15 247.31,592.93 247.08,592.88 246.82,593.05 246.57,593.34 246.33,593.94 246.10,594.72 245.84,595.57 245.54,596.37 245.17,597.01 244.72,597.36 244.23,597.66 243.69,597.93 243.11,598.13 242.50,598.27 241.86,598.32 241.13,598.45 240.29,598.48 239.42,598.44 238.59,598.36 237.89,598.25 237.39,598.15" fill="#9090f0" fill-opacity="0.45" stroke="none"/>
<polygon points="237.39,595.49 238.29,595.44 239.57,595.37 241.07,595.32 242.62,595.30 244.04,595.35 245.17,595.49 245.94,595.58 246.48,595.77 246.89,596.02 247.29,596.31 247.79,596.58 248.48,596.80 249.41,597.09 250.50,597.38 251.68,597.67 252.89,597.93 254.05,598.14 255.10,598.29 256.02,598.48 256.87,598.64 257.68,598.76 258.47,598.81 259.25,598.77 260.06,598.61 260.87,598.43 261.65,598.15 262.44,597.79 263.25,597.33 264.10,596.78 265.02,596.13 266.03,595.26 267.11,594.22 268.23,593.09 269.38,591.94 270.52,590.83 271.64,589.84 272.73,589.05 273.79,588.31 274.85,587.62 275.93,586.96 277.06,586.33 278.26,585.70 279.64,585.07 281.21,584.42 282.81,583.79 284.33,583.22 285.62,582.74 286.54,582.39 286.54,591.39 285.62,591.74 284.33,592.22 282.81,592.79 281.21,593.42 279.64,594.07 278.26,594.70 277.06,595.33 275.93,595.96 274.85,596.62 273.79,597.31 272.73,598.05 271.64,598.84 270.52,599.66 269.38,600.60 268.23,601.59 267.11,602.55 266.03,603.42 265.02,604.13 264.10,604.78 263.25,605.33 262.44,605.79 261.65,606.15 260.87,606.43 260.06,606.61 259.25,606.60 258.47,606.48 257.68,606.26 256.87,605.97 256.02,605.64 255.10,605.29 254.05,604.81 252.89,604.26 251.68,603.67 250.50,603.05 249.41,602.42 248.48,601.80 247.79,601.08 247.29,600.31 246.89,599.52 246.48,598.77 245.94,598.08 245.17,597.49 244.04,597.19 242.62,596.97 241.07,596.82 239.57,596.70 238.29,596.61 237.39,596.49" fill="#88dd88" fill-opacity="0.50" stroke="none"/>
<polyline points="237.39,596.49 238.43,596.53 239.88,596.59 241.59,596.66 243.41,596.72 245.21,596.78 246.82,596.82 248.27,596.85 249.67,596.88 251.03,596.89 252.38,596.90 253.73,596.87 255.10,596.82 256.48,596.74 257.85,596.64 259.23,596.51 260.61,596.36 261.99,596.19 263.37,595.99 264.75,595.76 266.13,595.47 267.51,595.17 268.89,594.86 270.27,594.58 271.64,594.34 273.04,594.15 274.46,593.98 275.88,593.84 277.28,593.72 278.64,593.61 279.92,593.51 281.19,593.42 282.49,593.35 283.74,593.30 284.88,593.25 285.84,593.21 286.54,593.18" fill="none" stroke="#f58a4a" stroke-width="0.85"/>
<polyline points="237.39,597.65 237.89,597.59 238.59,597.53 239.42,597.44 240.29,597.31 241.13,597.11 241.86,596.82 242.50,596.43 243.11,595.96 243.69,595.43 244.23,594.83 244.72,594.19 245.17,593.51 245.54,592.70 245.84,591.74 246.10,590.72 246.33,589.77 246.57,589.01 246.82,588.55 247.08,588.38 247.31,588.43 247.55,588.65 247.80,589.04 248.11,589.56 248.48,590.20 248.93,591.06 249.46,592.16 250.03,593.41 250.62,594.68 251.22,595.85 251.79,596.82 252.30,597.57 252.77,598.20 253.23,598.74 253.75,599.21 254.35,599.67 255.10,600.13 255.97,600.60 256.93,601.05 257.99,601.48 259.14,601.88 260.38,602.26 261.72,602.61 263.22,602.96 264.90,603.29 266.68,603.60 268.46,603.87 270.14,604.10 271.64,604.27 272.92,604.40 274.03,604.51 275.06,604.58 276.06,604.58 277.10,604.48 278.26,604.27 279.64,603.87 281.21,603.29 282.81,602.61 284.33,601.94 285.62,601.36 286.54,600.96" fill="none" stroke="#3344dd" stroke-width="0.85"/>
<polyline points="237.39,595.99 238.29,596.02 239.57,596.04 241.07,596.07 242.62,596.14 244.04,596.27 245.17,596.49 245.94,596.83 246.48,597.27 246.89,597.77 247.29,598.31 247.79,598.83 248.48,599.30 249.41,599.76 250.50,600.22 251.68,600.67 252.89,601.09 254.05,601.47 255.10,601.79 256.02,602.06 256.87,602.31 257.68,602.51 258.47,602.64 259.25,602.69 260.06,602.61 260.87,602.43 261.65,602.15 262.44,601.79 263.25,601.33 264.10,600.78 265.02,600.13 266.03,599.34 267.11,598.38 268.23,597.34 269.38,596.27 270.52,595.25 271.64,594.34 272.73,593.55 273.79,592.81 274.85,592.12 275.93,591.46 277.06,590.83 278.26,590.20 279.64,589.57 281.21,588.92 282.81,588.29 284.33,587.72 285.62,587.24 286.54,586.89" fill="none" stroke="#2aa84a" stroke-width="0.85"/>
<line x1="237.40" y1="579.10" x2="237.40" y2="622.80" stroke="#333" stroke-width="0.55"/>
<line x1="237.40" y1="622.50" x2="286.60" y2="622.50" stroke="#999" stroke-width="0.55"/>
<line x1="236.00" y1="579.40" x2="237.40" y2="579.40" stroke="#333" stroke-width="0.45"/>
<text x="235.50" y="580.60" font-size="3.60" font-weight="normal" text-anchor="end" fill="#333" stroke="#333" stroke-width="0.20">2</text>
<line x1="236.00" y1="588.02" x2="237.40" y2="588.02" stroke="#333" stroke-width="0.45"/>
<text x="235.50" y="589.22" font-size="3.60" font-weight="normal" text-anchor="end" fill="#333" stroke="#333" stroke-width="0.20">1</text>
<line x1="236.00" y1="596.64" x2="237.40" y2="596.64" stroke="#333" stroke-width="0.45"/>
<text x="235.50" y="597.84" font-size="3.60" font-weight="normal" text-anchor="end" fill="#333" stroke="#333" stroke-width="0.20">0</text>
<line x1="236.00" y1="605.26" x2="237.40" y2="605.26" stroke="#333" stroke-width="0.45"/>
<text x="235.50" y="606.46" font-size="3.60" font-weight="normal" text-anchor="end" fill="#333" stroke="#333" stroke-width="0.20">-1</text>
<line x1="236.00" y1="613.88" x2="237.40" y2="613.88" stroke="#333" stroke-width="0.45"/>
<text x="235.50" y="615.08" font-size="3.60" font-weight="normal" text-anchor="end" fill="#333" stroke="#333" stroke-width="0.20">-2</text>
<line x1="236.00" y1="622.50" x2="237.40" y2="622.50" stroke="#333" stroke-width="0.45"/>
<text x="235.50" y="623.70" font-size="3.60" font-weight="normal" text-anchor="end" fill="#333" stroke="#333" stroke-width="0.20">-3</text>
<line x1="237.40" y1="622.50" x2="237.40" y2="623.80" stroke="#333" stroke-width="0.45"/>
<text x="237.40" y="627.00" font-size="3.60" font-weight="bold" text-anchor="middle" fill="#222" stroke="#222" stroke-width="0.14">-1</text>
<line x1="245.60" y1="622.50" x2="245.60" y2="623.80" stroke="#333" stroke-width="0.45"/>
<text x="245.60" y="627.00" font-size="3.60" font-weight="bold" text-anchor="middle" fill="#222" stroke="#222" stroke-width="0.14">0</text>
<line x1="253.80" y1="622.50" x2="253.80" y2="623.80" stroke="#333" stroke-width="0.45"/>
<text x="253.80" y="627.00" font-size="3.60" font-weight="bold" text-anchor="middle" fill="#222" stroke="#222" stroke-width="0.14">1</text>
<line x1="262.00" y1="622.50" x2="262.00" y2="623.80" stroke="#333" stroke-width="0.45"/>
<text x="262.00" y="627.00" font-size="3.60" font-weight="bold" text-anchor="middle" fill="#222" stroke="#222" stroke-width="0.14">2</text>
<line x1="270.20" y1="622.50" x2="270.20" y2="623.80" stroke="#333" stroke-width="0.45"/>
<text x="270.20" y="627.00" font-size="3.60" font-weight="bold" text-anchor="middle" fill="#222" stroke="#222" stroke-width="0.14">3</text>
<line x1="278.40" y1="622.50" x2="278.40" y2="623.80" stroke="#333" stroke-width="0.45"/>
<text x="278.40" y="627.00" font-size="3.60" font-weight="bold" text-anchor="middle" fill="#222" stroke="#222" stroke-width="0.14">4</text>
<line x1="286.60" y1="622.50" x2="286.60" y2="623.80" stroke="#333" stroke-width="0.45"/>
<text x="286.60" y="627.00" font-size="3.60" font-weight="bold" text-anchor="middle" fill="#222" stroke="#222" stroke-width="0.14">5</text>
<text x="261.70" y="631.90" font-size="4.00" font-weight="bold" text-anchor="middle" fill="#111" stroke="#111" stroke-width="0.14">Time (s)</text>
<text x="230.20" y="600.95" font-size="4.00" font-weight="bold" text-anchor="middle" fill="#111" transform="rotate(-90 230.20 600.95)" stroke="#111" stroke-width="0.14">DeltaF/F(%)</text>
<rect x="37.10" y="336.20" width="1.50" height="14.72" fill="#aec543"/>
<rect x="38.35" y="336.20" width="1.50" height="14.72" fill="#b2c541"/>
<rect x="39.60" y="336.20" width="1.50" height="14.72" fill="#b6c540"/>
<rect x="40.85" y="336.20" width="1.50" height="14.72" fill="#bac53e"/>
<rect x="42.10" y="336.20" width="1.50" height="14.72" fill="#c6c339"/>
<rect x="43.35" y="336.20" width="1.50" height="14.72" fill="#d9b825"/>
<rect x="44.60" y="336.20" width="1.50" height="14.72" fill="#dbb723"/>
<rect x="45.85" y="336.20" width="1.50" height="14.72" fill="#dbb723"/>
<rect x="47.10" y="336.20" width="1.50" height="14.72" fill="#b5c540"/>
<rect x="48.35" y="336.20" width="1.50" height="14.72" fill="#b5c540"/>
<rect x="49.60" y="336.20" width="1.50" height="14.72" fill="#b5c540"/>
<rect x="50.85" y="336.20" width="1.50" height="14.72" fill="#cfbe2f"/>
<rect x="52.10" y="336.20" width="1.50" height="14.72" fill="#d6ba28"/>
<rect x="53.35" y="336.20" width="1.50" height="14.72" fill="#d6ba28"/>
<rect x="54.60" y="336.20" width="1.50" height="14.72" fill="#d6ba28"/>
<rect x="55.85" y="336.20" width="1.50" height="14.72" fill="#acc544"/>
<rect x="57.10" y="336.20" width="1.50" height="14.72" fill="#acc544"/>
<rect x="58.35" y="336.20" width="1.50" height="14.72" fill="#acc544"/>
<rect x="59.60" y="336.20" width="1.50" height="14.72" fill="#9fc648"/>
<rect x="60.85" y="336.20" width="1.50" height="14.72" fill="#87c652"/>
<rect x="62.10" y="336.20" width="1.50" height="14.72" fill="#87c652"/>
<rect x="63.35" y="336.20" width="1.50" height="14.72" fill="#87c652"/>
<rect x="64.60" y="336.20" width="1.50" height="14.72" fill="#87c652"/>
<rect x="65.85" y="336.20" width="1.50" height="14.72" fill="#87c652"/>
<rect x="67.10" y="336.20" width="1.50" height="14.72" fill="#87c652"/>
<rect x="68.35" y="336.20" width="1.50" height="14.72" fill="#87c652"/>
<rect x="69.60" y="336.20" width="1.50" height="14.72" fill="#87c652"/>
<rect x="70.85" y="336.20" width="1.50" height="14.72" fill="#87c652"/>
<rect x="37.10" y="350.67" width="1.50" height="14.72" fill="#73c759"/>
<rect x="38.35" y="350.67" width="1.50" height="14.72" fill="#73c759"/>
<rect x="39.60" y="350.67" width="1.50" height="14.72" fill="#73c759"/>
<rect x="40.85" y="350.67" width="1.50" height="14.72" fill="#73c759"/>
<rect x="42.10" y="350.67" width="1.50" height="14.72" fill="#73c759"/>
<rect x="43.35" y="350.67" width="1.50" height="14.72" fill="#73c759"/>
<rect x="44.60" y="350.67" width="1.50" height="14.72" fill="#73c759"/>
<rect x="45.85" y="350.67" width="1.50" height="14.72" fill="#73c759"/>
<rect x="47.10" y="350.67" width="1.50" height="14.72" fill="#73c759"/>
<rect x="48.35" y="350.67" width="1.50" height="14.72" fill="#73c759"/>
<rect x="49.60" y="350.67" width="1.50" height="14.72" fill="#73c759"/>
<rect x="50.85" y="350.67" width="1.50" height="14.72" fill="#73c759"/>
<rect x="52.10" y="350.67" width="1.50" height="14.72" fill="#73c759"/>
<rect x="53.35" y="350.67" width="1.50" height="14.72" fill="#73c759"/>
<rect x="54.60" y="350.67" width="1.50" height="14.72" fill="#73c759"/>
<rect x="55.85" y="350.67" width="1.50" height="14.72" fill="#ffb200"/>
<rect x="57.10" y="350.67" width="1.50" height="14.72" fill="#ffd400"/>
<rect x="58.35" y="350.67" width="1.50" height="14.72" fill="#feef00"/>
<rect x="59.60" y="350.67" width="1.50" height="14.72" fill="#feef00"/>
<rect x="60.85" y="350.67" width="1.50" height="14.72" fill="#feef00"/>
<rect x="62.10" y="350.67" width="1.50" height="14.72" fill="#feef00"/>
<rect x="63.35" y="350.67" width="1.50" height="14.72" fill="#feef00"/>
<rect x="64.60" y="350.67" width="1.50" height="14.72" fill="#feef00"/>
<rect x="65.85" y="350.67" width="1.50" height="14.72" fill="#feef00"/>
<rect x="67.10" y="350.67" width="1.50" height="14.72" fill="#ffe700"/>
<rect x="68.35" y="350.67" width="1.50" height="14.72" fill="#ffd900"/>
<rect x="69.60" y="350.67" width="1.50" height="14.72" fill="#ffca00"/>
<rect x="70.85" y="350.67" width="1.50" height="14.72" fill="#ffbc00"/>
<rect x="37.10" y="365.13" width="1.50" height="14.72" fill="#88c651"/>
<rect x="38.35" y="365.13" width="1.50" height="14.72" fill="#8ac650"/>
<rect x="39.60" y="365.13" width="1.50" height="14.72" fill="#8dc64f"/>
<rect x="40.85" y="365.13" width="1.50" height="14.72" fill="#8fc64f"/>
<rect x="42.10" y="365.13" width="1.50" height="14.72" fill="#9ac64a"/>
<rect x="43.35" y="365.13" width="1.50" height="14.72" fill="#bac53e"/>
<rect x="44.60" y="365.13" width="1.50" height="14.72" fill="#bdc43d"/>
<rect x="45.85" y="365.13" width="1.50" height="14.72" fill="#bdc43d"/>
<rect x="47.10" y="365.13" width="1.50" height="14.72" fill="#bdc43d"/>
<rect x="48.35" y="365.13" width="1.50" height="14.72" fill="#bdc43d"/>
<rect x="49.60" y="365.13" width="1.50" height="14.72" fill="#bdc43d"/>
<rect x="50.85" y="365.13" width="1.50" height="14.72" fill="#bdc43d"/>
<rect x="52.10" y="365.13" width="1.50" height="14.72" fill="#bdc43d"/>
<rect x="53.35" y="365.13" width="1.50" height="14.72" fill="#bdc43d"/>
<rect x="54.60" y="365.13" width="1.50" height="14.72" fill="#f0ab0b"/>
<rect x="55.85" y="365.13" width="1.50" height="14.72" fill="#ffb000"/>
<rect x="57.10" y="365.13" width="1.50" height="14.72" fill="#ffb000"/>
<rect x="58.35" y="365.13" width="1.50" height="14.72" fill="#ffb100"/>
<rect x="59.60" y="365.13" width="1.50" height="14.72" fill="#ffb100"/>
<rect x="60.85" y="365.13" width="1.50" height="14.72" fill="#ffb200"/>
<rect x="62.10" y="365.13" width="1.50" height="14.72" fill="#ffb200"/>
<rect x="63.35" y="365.13" width="1.50" height="14.72" fill="#ffb300"/>
<rect x="64.60" y="365.13" width="1.50" height="14.72" fill="#ffb300"/>
<rect x="65.85" y="365.13" width="1.50" height="14.72" fill="#ffb400"/>
<rect x="67.10" y="365.13" width="1.50" height="14.72" fill="#ffb400"/>
<rect x="68.35" y="365.13" width="1.50" height="14.72" fill="#f3aa07"/>
<rect x="69.60" y="365.13" width="1.50" height="14.72" fill="#71c75a"/>
<rect x="70.85" y="365.13" width="1.50" height="14.72" fill="#65c760"/>
<text x="36.40" y="345.33" font-size="3.50" font-weight="normal" text-anchor="end" fill="#222" stroke="#222" stroke-width="0.15">Day-1</text>
<text x="36.40" y="359.80" font-size="3.50" font-weight="normal" text-anchor="end" fill="#222" stroke="#222" stroke-width="0.15">Day-6</text>
<text x="36.40" y="374.27" font-size="3.50" font-weight="normal" text-anchor="end" fill="#222" stroke="#222" stroke-width="0.15">Day-10</text>
<rect x="75.60" y="336.20" width="2.70" height="1.31" fill="#fffc00"/>
<rect x="75.60" y="337.31" width="2.70" height="1.31" fill="#fef000"/>
<rect x="75.60" y="338.41" width="2.70" height="1.31" fill="#ffe300"/>
<rect x="75.60" y="339.52" width="2.70" height="1.31" fill="#ffd400"/>
<rect x="75.60" y="340.63" width="2.70" height="1.31" fill="#ffc500"/>
<rect x="75.60" y="341.74" width="2.70" height="1.31" fill="#ffb600"/>
<rect x="75.60" y="342.84" width="2.70" height="1.31" fill="#ffaa00"/>
<rect x="75.60" y="343.95" width="2.70" height="1.31" fill="#fca800"/>
<rect x="75.60" y="345.06" width="2.70" height="1.31" fill="#efac0c"/>
<rect x="75.60" y="346.17" width="2.70" height="1.31" fill="#e2b31b"/>
<rect x="75.60" y="347.27" width="2.70" height="1.31" fill="#d4bb2a"/>
<rect x="75.60" y="348.38" width="2.70" height="1.31" fill="#c7c338"/>
<rect x="75.60" y="349.49" width="2.70" height="1.31" fill="#b2c541"/>
<rect x="75.60" y="350.60" width="2.70" height="1.31" fill="#9cc64a"/>
<rect x="75.60" y="351.70" width="2.70" height="1.31" fill="#85c653"/>
<rect x="75.60" y="352.81" width="2.70" height="1.31" fill="#6cc75d"/>
<rect x="75.60" y="353.92" width="2.70" height="1.31" fill="#51c668"/>
<rect x="75.60" y="355.03" width="2.70" height="1.31" fill="#35c576"/>
<rect x="75.60" y="356.13" width="2.70" height="1.31" fill="#1ac385"/>
<rect x="75.60" y="357.24" width="2.70" height="1.31" fill="#02c195"/>
<rect x="75.60" y="358.35" width="2.70" height="1.31" fill="#00bea7"/>
<rect x="75.60" y="359.46" width="2.70" height="1.31" fill="#00bab4"/>
<rect x="75.60" y="360.56" width="2.70" height="1.31" fill="#00b6be"/>
<rect x="75.60" y="361.67" width="2.70" height="1.31" fill="#00b2c5"/>
<rect x="75.60" y="362.78" width="2.70" height="1.31" fill="#00aecc"/>
<rect x="75.60" y="363.89" width="2.70" height="1.31" fill="#00a8d2"/>
<rect x="75.60" y="365.00" width="2.70" height="1.31" fill="#00a2d7"/>
<rect x="75.60" y="366.10" width="2.70" height="1.31" fill="#009ada"/>
<rect x="75.60" y="367.21" width="2.70" height="1.31" fill="#008fda"/>
<rect x="75.60" y="368.32" width="2.70" height="1.31" fill="#0084dc"/>
<rect x="75.60" y="369.43" width="2.70" height="1.31" fill="#007cde"/>
<rect x="75.60" y="370.53" width="2.70" height="1.31" fill="#0077e2"/>
<rect x="75.60" y="371.64" width="2.70" height="1.31" fill="#0073e6"/>
<rect x="75.60" y="372.75" width="2.70" height="1.31" fill="#006fe9"/>
<rect x="75.60" y="373.86" width="2.70" height="1.31" fill="#0069ea"/>
<rect x="75.60" y="374.96" width="2.70" height="1.31" fill="#0057e7"/>
<rect x="75.60" y="376.07" width="2.70" height="1.31" fill="#0034d6"/>
<rect x="75.60" y="377.18" width="2.70" height="1.31" fill="#0018c0"/>
<rect x="75.60" y="378.29" width="2.70" height="1.31" fill="#0409ab"/>
<rect x="75.60" y="379.39" width="2.70" height="1.31" fill="#0d0396"/>
<text x="79.50" y="337.20" font-size="3.15" font-weight="normal" text-anchor="start" fill="#222" stroke="#222" stroke-width="0.15">1</text>
<text x="79.50" y="344.58" font-size="3.15" font-weight="normal" text-anchor="start" fill="#222" stroke="#222" stroke-width="0.15">0.5</text>
<text x="79.50" y="351.97" font-size="3.15" font-weight="normal" text-anchor="start" fill="#222" stroke="#222" stroke-width="0.15">0</text>
<text x="79.50" y="359.35" font-size="3.15" font-weight="normal" text-anchor="start" fill="#222" stroke="#222" stroke-width="0.15">-0.5</text>
<text x="79.50" y="366.73" font-size="3.15" font-weight="normal" text-anchor="start" fill="#222" stroke="#222" stroke-width="0.15">-1</text>
<text x="79.50" y="374.12" font-size="3.15" font-weight="normal" text-anchor="start" fill="#222" stroke="#222" stroke-width="0.15">-1.5</text>
<text x="79.50" y="381.50" font-size="3.15" font-weight="normal" text-anchor="start" fill="#222" stroke="#222" stroke-width="0.15">-2</text>
<text x="37.50" y="384.20" font-size="3.50" font-weight="normal" text-anchor="middle" fill="#222" stroke="#222" stroke-width="0.15">-0.5</text>
<text x="45.50" y="384.20" font-size="3.50" font-weight="normal" text-anchor="middle" fill="#222" stroke="#222" stroke-width="0.15">0</text>
<text x="54.30" y="384.20" font-size="3.50" font-weight="normal" text-anchor="middle" fill="#222" stroke="#222" stroke-width="0.15">0.5</text>
<text x="63.20" y="384.20" font-size="3.50" font-weight="normal" text-anchor="middle" fill="#222" stroke="#222" stroke-width="0.15">1</text>
<text x="71.20" y="384.20" font-size="3.50" font-weight="normal" text-anchor="middle" fill="#222" stroke="#222" stroke-width="0.15">1.5</text>
<line x1="37.10" y1="336.20" x2="37.10" y2="379.60" stroke="#777" stroke-width="0.50"/>
<rect x="125.20" y="321.30" width="12.40" height="4.00" fill="none" stroke="#f26b1d" stroke-width="1.0"/>
<rect x="126.10" y="316.80" width="2.60" height="2.60" fill="#f26b1d"/>
<rect x="130.10" y="315.20" width="2.60" height="2.60" fill="#f26b1d"/>
<rect x="132.10" y="320.40" width="2.60" height="2.60" fill="#f26b1d"/>
<rect x="127.10" y="322.40" width="2.60" height="2.60" fill="#f26b1d"/>
<rect x="131.10" y="323.20" width="2.60" height="2.60" fill="#f26b1d"/>
<rect x="134.10" y="322.80" width="2.60" height="2.60" fill="#f26b1d"/>
<rect x="135.60" y="323.20" width="2.60" height="2.60" fill="#f26b1d"/>
<rect x="124.60" y="323.04" width="2.60" height="2.60" fill="#f26b1d"/>
<rect x="143.50" y="314.34" width="12.40" height="10.96" fill="none" stroke="#1a1ae8" stroke-width="1.0"/>
<line x1="149.70" y1="314.34" x2="149.70" y2="305.70" stroke="#1a1ae8" stroke-width="0.50"/>
<line x1="147.10" y1="305.70" x2="152.30" y2="305.70" stroke="#1a1ae8" stroke-width="0.50"/>
<circle cx="149.70" cy="292.90" r="1.43" fill="#1a1ae8"/>
<circle cx="147.70" cy="313.30" r="1.43" fill="#1a1ae8"/>
<circle cx="152.20" cy="313.70" r="1.43" fill="#1a1ae8"/>
<circle cx="149.70" cy="317.30" r="1.43" fill="#1a1ae8"/>
<circle cx="147.20" cy="320.50" r="1.43" fill="#1a1ae8"/>
<circle cx="152.70" cy="320.10" r="1.43" fill="#1a1ae8"/>
<circle cx="148.70" cy="324.50" r="1.43" fill="#1a1ae8"/>
<rect x="162.40" y="318.50" width="12.40" height="6.80" fill="none" stroke="#22c433" stroke-width="1.0"/>
<line x1="168.60" y1="318.50" x2="168.60" y2="313.62" stroke="#22c433" stroke-width="0.50"/>
<line x1="166.00" y1="313.62" x2="171.20" y2="313.62" stroke="#22c433" stroke-width="0.50"/>
<polygon points="163.04,312.07 166.16,312.07 164.60,309.21" fill="#22c433"/>
<polygon points="168.04,313.67 171.16,313.67 169.60,310.81" fill="#22c433"/>
<polygon points="171.04,322.47 174.16,322.47 172.60,319.61" fill="#22c433"/>
<polygon points="165.04,322.87 168.16,322.87 166.60,320.01" fill="#22c433"/>
<polygon points="168.04,320.07 171.16,320.07 169.60,317.21" fill="#22c433"/>
<polygon points="163.04,325.27 166.16,325.27 164.60,322.41" fill="#22c433"/>
<line x1="118.10" y1="325.30" x2="181.90" y2="325.30" stroke="#222" stroke-width="1.15"/>
<line x1="118.10" y1="284.90" x2="118.10" y2="365.80" stroke="#000" stroke-width="1.10"/>
<line x1="117.60" y1="365.30" x2="181.90" y2="365.30" stroke="#000" stroke-width="1.10"/>
<line x1="116.90" y1="365.30" x2="118.10" y2="365.30" stroke="#000" stroke-width="0.60"/>
<line x1="116.90" y1="357.30" x2="118.10" y2="357.30" stroke="#000" stroke-width="0.60"/>
<line x1="116.90" y1="349.30" x2="118.10" y2="349.30" stroke="#000" stroke-width="0.60"/>
<line x1="116.90" y1="341.30" x2="118.10" y2="341.30" stroke="#000" stroke-width="0.60"/>
<line x1="116.90" y1="333.30" x2="118.10" y2="333.30" stroke="#000" stroke-width="0.60"/>
<line x1="116.90" y1="325.30" x2="118.10" y2="325.30" stroke="#000" stroke-width="0.60"/>
<line x1="116.90" y1="317.30" x2="118.10" y2="317.30" stroke="#000" stroke-width="0.60"/>
<line x1="116.90" y1="309.30" x2="118.10" y2="309.30" stroke="#000" stroke-width="0.60"/>
<line x1="116.90" y1="301.30" x2="118.10" y2="301.30" stroke="#000" stroke-width="0.60"/>
<line x1="116.90" y1="293.30" x2="118.10" y2="293.30" stroke="#000" stroke-width="0.60"/>
<line x1="116.90" y1="285.30" x2="118.10" y2="285.30" stroke="#000" stroke-width="0.60"/>
<line x1="115.70" y1="285.30" x2="118.10" y2="285.30" stroke="#000" stroke-width="0.70"/>
<text x="115.10" y="287.00" font-size="5.20" font-weight="bold" text-anchor="end" fill="#000" stroke="#000" stroke-width="0.19">5</text>
<line x1="115.70" y1="325.30" x2="118.10" y2="325.30" stroke="#000" stroke-width="0.70"/>
<text x="115.10" y="327.00" font-size="5.20" font-weight="bold" text-anchor="end" fill="#000" stroke="#000" stroke-width="0.19">0</text>
<line x1="115.70" y1="365.30" x2="118.10" y2="365.30" stroke="#000" stroke-width="0.70"/>
<text x="115.10" y="367.00" font-size="5.20" font-weight="bold" text-anchor="end" fill="#000" stroke="#000" stroke-width="0.19">-5</text>
<line x1="130.90" y1="365.30" x2="130.90" y2="367.30" stroke="#000" stroke-width="0.70"/>
<text x="130.90" y="373.70" font-size="5.80" font-weight="bold" text-anchor="middle" fill="#000" stroke="#000" stroke-width="0.19">Day1</text>
<line x1="150.00" y1="365.30" x2="150.00" y2="367.30" stroke="#000" stroke-width="0.70"/>
<text x="150.00" y="373.70" font-size="5.80" font-weight="bold" text-anchor="middle" fill="#000" stroke="#000" stroke-width="0.19">Day6</text>
<line x1="168.50" y1="365.30" x2="168.50" y2="367.30" stroke="#000" stroke-width="0.70"/>
<text x="168.50" y="373.70" font-size="5.80" font-weight="bold" text-anchor="middle" fill="#000" stroke="#000" stroke-width="0.19">Day10</text>
<text x="106.60" y="324.40" font-size="6.40" font-weight="bold" text-anchor="middle" fill="#000" transform="rotate(-90 106.60 324.40)" stroke="#000" stroke-width="0.19">AUC (0-1.5 S)</text>
<polyline points="132.30,309.00 132.30,288.30 150.00,288.30 150.00,291.20" fill="none" stroke="#222" stroke-width="0.75"/>
<text x="141.50" y="286.80" font-size="6.00" font-weight="bold" text-anchor="middle" fill="#000" stroke="#000" stroke-width="0.19">*</text>
<polyline points="132.30,309.00 132.30,279.80 168.50,279.80 168.50,306.50" fill="none" stroke="#222" stroke-width="0.75"/>
<text x="151.10" y="278.90" font-size="6.00" font-weight="bold" text-anchor="middle" fill="#000" stroke="#000" stroke-width="0.19">*</text>
<line x1="335.30" y1="327.21" x2="347.70" y2="327.21" stroke="#f26b1d" stroke-width="0.90"/>
<rect x="334.70" y="325.10" width="2.60" height="2.60" fill="#f26b1d"/>
<rect x="337.70" y="326.31" width="2.60" height="2.60" fill="#f26b1d"/>
<rect x="340.70" y="327.52" width="2.60" height="2.60" fill="#f26b1d"/>
<rect x="343.70" y="326.31" width="2.60" height="2.60" fill="#f26b1d"/>
<rect x="345.70" y="328.33" width="2.60" height="2.60" fill="#f26b1d"/>
<rect x="340.20" y="332.78" width="2.60" height="2.60" fill="#f26b1d"/>
<rect x="354.20" y="317.27" width="12.40" height="9.13" fill="none" stroke="#1a1ae8" stroke-width="1.0"/>
<line x1="360.40" y1="317.27" x2="360.40" y2="313.07" stroke="#1a1ae8" stroke-width="0.50"/>
<line x1="357.80" y1="313.07" x2="363.00" y2="313.07" stroke="#1a1ae8" stroke-width="0.50"/>
<circle cx="360.40" cy="298.93" r="1.43" fill="#1a1ae8"/>
<circle cx="360.40" cy="322.36" r="1.43" fill="#1a1ae8"/>
<circle cx="358.40" cy="325.59" r="1.43" fill="#1a1ae8"/>
<circle cx="362.90" cy="325.59" r="1.43" fill="#1a1ae8"/>
<circle cx="360.90" cy="316.70" r="1.43" fill="#1a1ae8"/>
<line x1="373.60" y1="326.40" x2="386.00" y2="326.40" stroke="#22c433" stroke-width="0.90"/>
<line x1="379.80" y1="326.40" x2="379.80" y2="323.98" stroke="#22c433" stroke-width="0.50"/>
<line x1="377.20" y1="323.98" x2="382.40" y2="323.98" stroke="#22c433" stroke-width="0.50"/>
<line x1="379.80" y1="326.40" x2="379.80" y2="328.82" stroke="#22c433" stroke-width="0.50"/>
<line x1="377.20" y1="328.82" x2="382.40" y2="328.82" stroke="#22c433" stroke-width="0.50"/>
<polygon points="378.74,321.11 381.86,321.11 380.30,318.25" fill="#22c433"/>
<polygon points="375.74,323.13 378.86,323.13 377.30,320.27" fill="#22c433"/>
<polygon points="377.74,327.57 380.86,327.57 379.30,324.71" fill="#22c433"/>
<polygon points="378.74,333.23 381.86,333.23 380.30,330.37" fill="#22c433"/>
<polygon points="378.74,336.46 381.86,336.46 380.30,333.60" fill="#22c433"/>
<line x1="328.70" y1="326.40" x2="392.60" y2="326.40" stroke="#222" stroke-width="1.15"/>
<line x1="328.70" y1="285.60" x2="328.70" y2="367.30" stroke="#000" stroke-width="1.10"/>
<line x1="328.20" y1="366.80" x2="392.60" y2="366.80" stroke="#000" stroke-width="1.10"/>
<line x1="327.50" y1="366.80" x2="328.70" y2="366.80" stroke="#000" stroke-width="0.60"/>
<line x1="327.50" y1="358.72" x2="328.70" y2="358.72" stroke="#000" stroke-width="0.60"/>
<line x1="327.50" y1="350.64" x2="328.70" y2="350.64" stroke="#000" stroke-width="0.60"/>
<line x1="327.50" y1="342.56" x2="328.70" y2="342.56" stroke="#000" stroke-width="0.60"/>
<line x1="327.50" y1="334.48" x2="328.70" y2="334.48" stroke="#000" stroke-width="0.60"/>
<line x1="327.50" y1="326.40" x2="328.70" y2="326.40" stroke="#000" stroke-width="0.60"/>
<line x1="327.50" y1="318.32" x2="328.70" y2="318.32" stroke="#000" stroke-width="0.60"/>
<line x1="327.50" y1="310.24" x2="328.70" y2="310.24" stroke="#000" stroke-width="0.60"/>
<line x1="327.50" y1="302.16" x2="328.70" y2="302.16" stroke="#000" stroke-width="0.60"/>
<line x1="327.50" y1="294.08" x2="328.70" y2="294.08" stroke="#000" stroke-width="0.60"/>
<line x1="327.50" y1="286.00" x2="328.70" y2="286.00" stroke="#000" stroke-width="0.60"/>
<line x1="326.30" y1="286.00" x2="328.70" y2="286.00" stroke="#000" stroke-width="0.70"/>
<text x="325.70" y="287.70" font-size="5.20" font-weight="bold" text-anchor="end" fill="#000" stroke="#000" stroke-width="0.19">5</text>
<line x1="326.30" y1="326.40" x2="328.70" y2="326.40" stroke="#000" stroke-width="0.70"/>
<text x="325.70" y="328.10" font-size="5.20" font-weight="bold" text-anchor="end" fill="#000" stroke="#000" stroke-width="0.19">0</text>
<line x1="326.30" y1="366.80" x2="328.70" y2="366.80" stroke="#000" stroke-width="0.70"/>
<text x="325.70" y="368.50" font-size="5.20" font-weight="bold" text-anchor="end" fill="#000" stroke="#000" stroke-width="0.19">-5</text>
<line x1="341.50" y1="366.80" x2="341.50" y2="368.80" stroke="#000" stroke-width="0.70"/>
<text x="341.50" y="375.20" font-size="5.80" font-weight="bold" text-anchor="middle" fill="#000" stroke="#000" stroke-width="0.19">Day1</text>
<line x1="360.40" y1="366.80" x2="360.40" y2="368.80" stroke="#000" stroke-width="0.70"/>
<text x="360.40" y="375.20" font-size="5.80" font-weight="bold" text-anchor="middle" fill="#000" stroke="#000" stroke-width="0.19">Day6</text>
<line x1="379.80" y1="366.80" x2="379.80" y2="368.80" stroke="#000" stroke-width="0.70"/>
<text x="379.80" y="375.20" font-size="5.80" font-weight="bold" text-anchor="middle" fill="#000" stroke="#000" stroke-width="0.19">Day10</text>
<text x="316.30" y="325.70" font-size="6.40" font-weight="bold" text-anchor="middle" fill="#000" transform="rotate(-90 316.30 325.70)" stroke="#000" stroke-width="0.19">AUC (0-1.5 S)</text>
<polyline points="339.10,324.30 339.10,290.00 359.60,290.00 359.60,295.50" fill="none" stroke="#222" stroke-width="0.75"/>
<text x="349.40" y="288.80" font-size="6.00" font-weight="bold" text-anchor="middle" fill="#000" stroke="#000" stroke-width="0.19">*</text>
<polyline points="361.70,295.50 361.70,290.00 379.80,290.00 379.80,318.90" fill="none" stroke="#222" stroke-width="0.75"/>
<text x="371.70" y="288.80" font-size="6.00" font-weight="bold" text-anchor="middle" fill="#000" stroke="#000" stroke-width="0.19">*</text>
<rect x="127.40" y="458.44" width="12.40" height="2.76" fill="none" stroke="#f26b1d" stroke-width="1.0"/>
<line x1="133.60" y1="458.44" x2="133.60" y2="451.25" stroke="#f26b1d" stroke-width="0.50"/>
<line x1="131.00" y1="451.25" x2="136.20" y2="451.25" stroke="#f26b1d" stroke-width="0.50"/>
<line x1="133.60" y1="458.44" x2="133.60" y2="465.62" stroke="#f26b1d" stroke-width="0.50"/>
<line x1="131.00" y1="465.62" x2="136.20" y2="465.62" stroke="#f26b1d" stroke-width="0.50"/>
<rect x="132.30" y="443.86" width="2.60" height="2.60" fill="#f26b1d"/>
<rect x="127.30" y="453.82" width="2.60" height="2.60" fill="#f26b1d"/>
<rect x="132.80" y="451.60" width="2.60" height="2.60" fill="#f26b1d"/>
<rect x="137.30" y="454.92" width="2.60" height="2.60" fill="#f26b1d"/>
<rect x="129.80" y="458.24" width="2.60" height="2.60" fill="#f26b1d"/>
<rect x="135.30" y="457.13" width="2.60" height="2.60" fill="#f26b1d"/>
<rect x="129.30" y="461.56" width="2.60" height="2.60" fill="#f26b1d"/>
<rect x="132.80" y="463.77" width="2.60" height="2.60" fill="#f26b1d"/>
<line x1="147.00" y1="461.75" x2="159.40" y2="461.75" stroke="#1a1ae8" stroke-width="0.90"/>
<line x1="153.20" y1="461.75" x2="153.20" y2="447.38" stroke="#1a1ae8" stroke-width="0.50"/>
<line x1="150.60" y1="447.38" x2="155.80" y2="447.38" stroke="#1a1ae8" stroke-width="0.50"/>
<line x1="153.20" y1="461.75" x2="153.20" y2="478.34" stroke="#1a1ae8" stroke-width="0.50"/>
<line x1="150.60" y1="478.34" x2="155.80" y2="478.34" stroke="#1a1ae8" stroke-width="0.50"/>
<circle cx="153.70" cy="436.31" r="1.43" fill="#1a1ae8"/>
<circle cx="153.70" cy="449.59" r="1.43" fill="#1a1ae8"/>
<circle cx="150.70" cy="460.09" r="1.43" fill="#1a1ae8"/>
<circle cx="155.20" cy="461.20" r="1.43" fill="#1a1ae8"/>
<circle cx="153.70" cy="470.05" r="1.43" fill="#1a1ae8"/>
<circle cx="150.70" cy="482.21" r="1.43" fill="#1a1ae8"/>
<circle cx="155.20" cy="480.56" r="1.43" fill="#1a1ae8"/>
<line x1="166.60" y1="460.09" x2="179.00" y2="460.09" stroke="#22c433" stroke-width="0.90"/>
<line x1="172.80" y1="460.09" x2="172.80" y2="445.16" stroke="#22c433" stroke-width="0.50"/>
<line x1="170.20" y1="445.16" x2="175.40" y2="445.16" stroke="#22c433" stroke-width="0.50"/>
<line x1="172.80" y1="460.09" x2="172.80" y2="475.58" stroke="#22c433" stroke-width="0.50"/>
<line x1="170.20" y1="475.58" x2="175.40" y2="475.58" stroke="#22c433" stroke-width="0.50"/>
<polygon points="171.74,446.33 174.86,446.33 173.30,443.47" fill="#22c433"/>
<polygon points="173.74,449.10 176.86,449.10 175.30,446.24" fill="#22c433"/>
<polygon points="167.74,461.26 170.86,461.26 169.30,458.40" fill="#22c433"/>
<polygon points="175.24,461.26 178.36,461.26 176.80,458.40" fill="#22c433"/>
<polygon points="171.74,475.64 174.86,475.64 173.30,472.78" fill="#22c433"/>
<polygon points="171.74,488.91 174.86,488.91 173.30,486.05" fill="#22c433"/>
<line x1="120.90" y1="461.20" x2="186.80" y2="461.20" stroke="#222" stroke-width="1.15"/>
<line x1="120.90" y1="433.15" x2="120.90" y2="517.00" stroke="#000" stroke-width="1.10"/>
<line x1="120.40" y1="516.50" x2="186.80" y2="516.50" stroke="#000" stroke-width="1.10"/>
<line x1="118.50" y1="433.55" x2="120.90" y2="433.55" stroke="#000" stroke-width="0.70"/>
<text x="117.90" y="435.25" font-size="5.20" font-weight="bold" text-anchor="end" fill="#000" stroke="#000" stroke-width="0.19">5</text>
<line x1="118.50" y1="461.20" x2="120.90" y2="461.20" stroke="#000" stroke-width="0.70"/>
<text x="117.90" y="462.90" font-size="5.20" font-weight="bold" text-anchor="end" fill="#000" stroke="#000" stroke-width="0.19">0</text>
<line x1="118.50" y1="488.85" x2="120.90" y2="488.85" stroke="#000" stroke-width="0.70"/>
<text x="117.90" y="490.55" font-size="5.20" font-weight="bold" text-anchor="end" fill="#000" stroke="#000" stroke-width="0.19">-5</text>
<line x1="118.50" y1="516.50" x2="120.90" y2="516.50" stroke="#000" stroke-width="0.70"/>
<text x="117.90" y="518.20" font-size="5.20" font-weight="bold" text-anchor="end" fill="#000" stroke="#000" stroke-width="0.19">-10</text>
<line x1="133.30" y1="516.50" x2="133.30" y2="518.50" stroke="#000" stroke-width="0.70"/>
<text x="133.30" y="525.50" font-size="5.80" font-weight="bold" text-anchor="middle" fill="#000" stroke="#000" stroke-width="0.19">Day1</text>
<line x1="153.50" y1="516.50" x2="153.50" y2="518.50" stroke="#000" stroke-width="0.70"/>
<text x="153.50" y="525.50" font-size="5.80" font-weight="bold" text-anchor="middle" fill="#000" stroke="#000" stroke-width="0.19">Day6</text>
<line x1="173.30" y1="516.50" x2="173.30" y2="518.50" stroke="#000" stroke-width="0.70"/>
<text x="173.30" y="525.50" font-size="5.80" font-weight="bold" text-anchor="middle" fill="#000" stroke="#000" stroke-width="0.19">Day10</text>
<text x="104.90" y="474.40" font-size="6.80" font-weight="bold" text-anchor="middle" fill="#000" transform="rotate(-90 104.90 474.40)" stroke="#000" stroke-width="0.19">AUC (0-5 S)</text>
<line x1="331.80" y1="462.70" x2="344.20" y2="462.70" stroke="#f26b1d" stroke-width="0.90"/>
<line x1="338.00" y1="462.70" x2="338.00" y2="460.49" stroke="#f26b1d" stroke-width="0.50"/>
<line x1="335.40" y1="460.49" x2="340.60" y2="460.49" stroke="#f26b1d" stroke-width="0.50"/>
<line x1="338.00" y1="462.70" x2="338.00" y2="464.91" stroke="#f26b1d" stroke-width="0.50"/>
<line x1="335.40" y1="464.91" x2="340.60" y2="464.91" stroke="#f26b1d" stroke-width="0.50"/>
<rect x="336.70" y="453.66" width="2.60" height="2.60" fill="#f26b1d"/>
<rect x="336.70" y="458.08" width="2.60" height="2.60" fill="#f26b1d"/>
<rect x="331.20" y="461.95" width="2.60" height="2.60" fill="#f26b1d"/>
<rect x="341.70" y="461.95" width="2.60" height="2.60" fill="#f26b1d"/>
<rect x="336.70" y="463.61" width="2.60" height="2.60" fill="#f26b1d"/>
<rect x="336.70" y="466.38" width="2.60" height="2.60" fill="#f26b1d"/>
<line x1="351.60" y1="463.25" x2="364.00" y2="463.25" stroke="#1a1ae8" stroke-width="0.90"/>
<line x1="357.80" y1="463.25" x2="357.80" y2="456.06" stroke="#1a1ae8" stroke-width="0.50"/>
<line x1="355.20" y1="456.06" x2="360.40" y2="456.06" stroke="#1a1ae8" stroke-width="0.50"/>
<line x1="357.80" y1="463.25" x2="357.80" y2="471.55" stroke="#1a1ae8" stroke-width="0.50"/>
<line x1="355.20" y1="471.55" x2="360.40" y2="471.55" stroke="#1a1ae8" stroke-width="0.50"/>
<circle cx="357.80" cy="437.81" r="1.43" fill="#1a1ae8"/>
<circle cx="355.80" cy="457.72" r="1.43" fill="#1a1ae8"/>
<circle cx="360.80" cy="459.38" r="1.43" fill="#1a1ae8"/>
<circle cx="358.30" cy="462.70" r="1.43" fill="#1a1ae8"/>
<circle cx="358.30" cy="469.34" r="1.43" fill="#1a1ae8"/>
<circle cx="357.80" cy="496.99" r="1.43" fill="#1a1ae8"/>
<rect x="371.60" y="462.70" width="12.40" height="3.87" fill="none" stroke="#22c433" stroke-width="1.0"/>
<line x1="377.80" y1="466.57" x2="377.80" y2="472.10" stroke="#22c433" stroke-width="0.50"/>
<line x1="375.20" y1="472.10" x2="380.40" y2="472.10" stroke="#22c433" stroke-width="0.50"/>
<polygon points="373.24,455.02 376.36,455.02 374.80,452.16" fill="#22c433"/>
<polygon points="377.74,453.36 380.86,453.36 379.30,450.50" fill="#22c433"/>
<polygon points="373.24,476.59 376.36,476.59 374.80,473.73" fill="#22c433"/>
<polygon points="377.74,477.14 380.86,477.14 379.30,474.28" fill="#22c433"/>
<polygon points="375.74,481.57 378.86,481.57 377.30,478.71" fill="#22c433"/>
<line x1="325.20" y1="462.70" x2="391.20" y2="462.70" stroke="#222" stroke-width="1.15"/>
<line x1="325.20" y1="434.65" x2="325.20" y2="518.50" stroke="#777" stroke-width="1.10"/>
<line x1="324.70" y1="518.00" x2="391.20" y2="518.00" stroke="#777" stroke-width="1.10"/>
<line x1="322.80" y1="435.05" x2="325.20" y2="435.05" stroke="#777" stroke-width="0.70"/>
<text x="322.20" y="436.75" font-size="5.20" font-weight="bold" text-anchor="end" fill="#000" stroke="#000" stroke-width="0.19">5</text>
<line x1="322.80" y1="462.70" x2="325.20" y2="462.70" stroke="#777" stroke-width="0.70"/>
<text x="322.20" y="464.40" font-size="5.20" font-weight="bold" text-anchor="end" fill="#000" stroke="#000" stroke-width="0.19">0</text>
<line x1="322.80" y1="490.35" x2="325.20" y2="490.35" stroke="#777" stroke-width="0.70"/>
<text x="322.20" y="492.05" font-size="5.20" font-weight="bold" text-anchor="end" fill="#000" stroke="#000" stroke-width="0.19">-5</text>
<line x1="322.80" y1="518.00" x2="325.20" y2="518.00" stroke="#777" stroke-width="0.70"/>
<text x="322.20" y="519.70" font-size="5.20" font-weight="bold" text-anchor="end" fill="#000" stroke="#000" stroke-width="0.19">-10</text>
<line x1="338.00" y1="518.00" x2="338.00" y2="520.00" stroke="#777" stroke-width="0.70"/>
<text x="338.00" y="527.20" font-size="5.80" font-weight="bold" text-anchor="middle" fill="#000" stroke="#000" stroke-width="0.19">Day-1</text>
<line x1="357.80" y1="518.00" x2="357.80" y2="520.00" stroke="#777" stroke-width="0.70"/>
<text x="357.80" y="527.20" font-size="5.80" font-weight="bold" text-anchor="middle" fill="#000" stroke="#000" stroke-width="0.19">Day-6</text>
<line x1="377.80" y1="518.00" x2="377.80" y2="520.00" stroke="#777" stroke-width="0.70"/>
<text x="377.80" y="527.20" font-size="5.80" font-weight="bold" text-anchor="middle" fill="#000" stroke="#000" stroke-width="0.19">Day-10</text>
<text x="309.50" y="475.50" font-size="6.80" font-weight="bold" text-anchor="middle" fill="#000" transform="rotate(-90 309.50 475.50)" stroke="#000" stroke-width="0.19">AUC (0-5 S)</text>
<line x1="127.40" y1="614.60" x2="139.80" y2="614.60" stroke="#f26b1d" stroke-width="0.90"/>
<line x1="133.60" y1="614.60" x2="133.60" y2="610.18" stroke="#f26b1d" stroke-width="0.50"/>
<line x1="131.00" y1="610.18" x2="136.20" y2="610.18" stroke="#f26b1d" stroke-width="0.50"/>
<line x1="133.60" y1="614.60" x2="133.60" y2="621.79" stroke="#f26b1d" stroke-width="0.50"/>
<line x1="131.00" y1="621.79" x2="136.20" y2="621.79" stroke="#f26b1d" stroke-width="0.50"/>
<rect x="129.80" y="608.32" width="2.60" height="2.60" fill="#f26b1d"/>
<rect x="135.30" y="609.98" width="2.60" height="2.60" fill="#f26b1d"/>
<rect x="132.30" y="611.64" width="2.60" height="2.60" fill="#f26b1d"/>
<rect x="126.80" y="614.41" width="2.60" height="2.60" fill="#f26b1d"/>
<rect x="137.80" y="614.41" width="2.60" height="2.60" fill="#f26b1d"/>
<rect x="132.30" y="620.49" width="2.60" height="2.60" fill="#f26b1d"/>
<rect x="132.30" y="624.36" width="2.60" height="2.60" fill="#f26b1d"/>
<line x1="147.00" y1="614.60" x2="159.40" y2="614.60" stroke="#1a1ae8" stroke-width="0.90"/>
<line x1="153.20" y1="614.60" x2="153.20" y2="600.22" stroke="#1a1ae8" stroke-width="0.50"/>
<line x1="150.60" y1="600.22" x2="155.80" y2="600.22" stroke="#1a1ae8" stroke-width="0.50"/>
<line x1="153.20" y1="614.60" x2="153.20" y2="629.53" stroke="#1a1ae8" stroke-width="0.50"/>
<line x1="150.60" y1="629.53" x2="155.80" y2="629.53" stroke="#1a1ae8" stroke-width="0.50"/>
<circle cx="153.70" cy="592.48" r="1.43" fill="#1a1ae8"/>
<circle cx="153.70" cy="601.88" r="1.43" fill="#1a1ae8"/>
<circle cx="151.20" cy="612.39" r="1.43" fill="#1a1ae8"/>
<circle cx="155.70" cy="612.94" r="1.43" fill="#1a1ae8"/>
<circle cx="151.20" cy="622.89" r="1.43" fill="#1a1ae8"/>
<circle cx="155.70" cy="623.45" r="1.43" fill="#1a1ae8"/>
<circle cx="153.70" cy="641.14" r="1.43" fill="#1a1ae8"/>
<rect x="166.60" y="614.60" width="12.40" height="3.32" fill="none" stroke="#22c433" stroke-width="1.0"/>
<line x1="172.80" y1="617.92" x2="172.80" y2="607.96" stroke="#22c433" stroke-width="0.50"/>
<line x1="170.20" y1="607.96" x2="175.40" y2="607.96" stroke="#22c433" stroke-width="0.50"/>
<line x1="172.80" y1="617.92" x2="172.80" y2="628.98" stroke="#22c433" stroke-width="0.50"/>
<line x1="170.20" y1="628.98" x2="175.40" y2="628.98" stroke="#22c433" stroke-width="0.50"/>
<polygon points="169.24,608.03 172.36,608.03 170.80,605.17" fill="#22c433"/>
<polygon points="174.24,608.03 177.36,608.03 175.80,605.17" fill="#22c433"/>
<polygon points="171.74,616.88 174.86,616.88 173.30,614.02" fill="#22c433"/>
<polygon points="171.74,624.06 174.86,624.06 173.30,621.20" fill="#22c433"/>
<polygon points="169.24,634.57 172.36,634.57 170.80,631.71" fill="#22c433"/>
<polygon points="174.24,634.57 177.36,634.57 175.80,631.71" fill="#22c433"/>
<line x1="120.90" y1="614.60" x2="186.80" y2="614.60" stroke="#222" stroke-width="1.15"/>
<line x1="120.90" y1="586.55" x2="120.90" y2="670.40" stroke="#000" stroke-width="1.10"/>
<line x1="120.40" y1="669.90" x2="186.80" y2="669.90" stroke="#000" stroke-width="1.10"/>
<line x1="118.50" y1="586.95" x2="120.90" y2="586.95" stroke="#000" stroke-width="0.70"/>
<text x="117.90" y="588.65" font-size="5.20" font-weight="bold" text-anchor="end" fill="#000" stroke="#000" stroke-width="0.19">5</text>
<line x1="118.50" y1="614.60" x2="120.90" y2="614.60" stroke="#000" stroke-width="0.70"/>
<text x="117.90" y="616.30" font-size="5.20" font-weight="bold" text-anchor="end" fill="#000" stroke="#000" stroke-width="0.19">0</text>
<line x1="118.50" y1="642.25" x2="120.90" y2="642.25" stroke="#000" stroke-width="0.70"/>
<text x="117.90" y="643.95" font-size="5.20" font-weight="bold" text-anchor="end" fill="#000" stroke="#000" stroke-width="0.19">-5</text>
<line x1="118.50" y1="669.90" x2="120.90" y2="669.90" stroke="#000" stroke-width="0.70"/>
<text x="117.90" y="671.60" font-size="5.20" font-weight="bold" text-anchor="end" fill="#000" stroke="#000" stroke-width="0.19">-10</text>
<line x1="133.30" y1="669.90" x2="133.30" y2="671.90" stroke="#000" stroke-width="0.70"/>
<text x="133.30" y="679.30" font-size="5.80" font-weight="bold" text-anchor="middle" fill="#000" stroke="#000" stroke-width="0.19">Day1</text>
<line x1="153.50" y1="669.90" x2="153.50" y2="671.90" stroke="#000" stroke-width="0.70"/>
<text x="153.50" y="679.30" font-size="5.80" font-weight="bold" text-anchor="middle" fill="#000" stroke="#000" stroke-width="0.19">Day6</text>
<line x1="173.30" y1="669.90" x2="173.30" y2="671.90" stroke="#000" stroke-width="0.70"/>
<text x="173.30" y="679.30" font-size="5.80" font-weight="bold" text-anchor="middle" fill="#000" stroke="#000" stroke-width="0.19">Day10</text>
<text x="104.90" y="627.80" font-size="6.80" font-weight="bold" text-anchor="middle" fill="#000" transform="rotate(-90 104.90 627.80)" stroke="#000" stroke-width="0.19">AUC (0-5 S)</text>
<rect x="331.10" y="626.14" width="12.40" height="2.46" fill="none" stroke="#f26b1d" stroke-width="1.0"/>
<line x1="337.30" y1="626.14" x2="337.30" y2="620.40" stroke="#f26b1d" stroke-width="0.50"/>
<line x1="334.70" y1="620.40" x2="339.90" y2="620.40" stroke="#f26b1d" stroke-width="0.50"/>
<rect x="331.00" y="620.33" width="2.60" height="2.60" fill="#f26b1d"/>
<rect x="336.00" y="619.10" width="2.60" height="2.60" fill="#f26b1d"/>
<rect x="341.50" y="621.15" width="2.60" height="2.60" fill="#f26b1d"/>
<rect x="331.00" y="630.99" width="2.60" height="2.60" fill="#f26b1d"/>
<rect x="336.00" y="628.53" width="2.60" height="2.60" fill="#f26b1d"/>
<rect x="341.50" y="629.35" width="2.60" height="2.60" fill="#f26b1d"/>
<rect x="350.90" y="628.60" width="12.40" height="4.92" fill="none" stroke="#1a1ae8" stroke-width="1.0"/>
<line x1="357.10" y1="633.52" x2="357.10" y2="623.27" stroke="#1a1ae8" stroke-width="0.50"/>
<line x1="354.50" y1="623.27" x2="359.70" y2="623.27" stroke="#1a1ae8" stroke-width="0.50"/>
<line x1="357.10" y1="633.52" x2="357.10" y2="642.95" stroke="#1a1ae8" stroke-width="0.50"/>
<line x1="354.50" y1="642.95" x2="359.70" y2="642.95" stroke="#1a1ae8" stroke-width="0.50"/>
<circle cx="357.10" cy="623.27" r="1.43" fill="#1a1ae8"/>
<circle cx="352.60" cy="631.88" r="1.43" fill="#1a1ae8"/>
<circle cx="357.10" cy="632.29" r="1.43" fill="#1a1ae8"/>
<circle cx="361.60" cy="631.47" r="1.43" fill="#1a1ae8"/>
<circle cx="357.10" cy="651.15" r="1.43" fill="#1a1ae8"/>
<line x1="370.70" y1="628.19" x2="383.10" y2="628.19" stroke="#22c433" stroke-width="0.90"/>
<line x1="376.90" y1="628.19" x2="376.90" y2="607.28" stroke="#22c433" stroke-width="0.50"/>
<line x1="374.30" y1="607.28" x2="379.50" y2="607.28" stroke="#22c433" stroke-width="0.50"/>
<line x1="376.90" y1="628.19" x2="376.90" y2="649.92" stroke="#22c433" stroke-width="0.50"/>
<line x1="374.30" y1="649.92" x2="379.50" y2="649.92" stroke="#22c433" stroke-width="0.50"/>
<polygon points="370.54,611.73 373.66,611.73 372.10,608.87" fill="#22c433"/>
<polygon points="375.34,612.55 378.46,612.55 376.90,609.69" fill="#22c433"/>
<polygon points="380.54,611.73 383.66,611.73 382.10,608.87" fill="#22c433"/>
<polygon points="375.34,639.61 378.46,639.61 376.90,636.75" fill="#22c433"/>
<polygon points="375.34,642.07 378.46,642.07 376.90,639.21" fill="#22c433"/>
<polygon points="375.34,660.11 378.46,660.11 376.90,657.25" fill="#22c433"/>
<line x1="324.10" y1="628.60" x2="390.10" y2="628.60" stroke="#555" stroke-width="1.15"/>
<line x1="324.10" y1="587.20" x2="324.10" y2="670.10" stroke="#777" stroke-width="1.10"/>
<line x1="323.60" y1="669.60" x2="390.10" y2="669.60" stroke="#777" stroke-width="1.10"/>
<line x1="321.70" y1="587.60" x2="324.10" y2="587.60" stroke="#777" stroke-width="0.70"/>
<text x="321.10" y="589.30" font-size="5.20" font-weight="bold" text-anchor="end" fill="#000" stroke="#000" stroke-width="0.19">10</text>
<line x1="321.70" y1="608.10" x2="324.10" y2="608.10" stroke="#777" stroke-width="0.70"/>
<text x="321.10" y="609.80" font-size="5.20" font-weight="bold" text-anchor="end" fill="#000" stroke="#000" stroke-width="0.19">5</text>
<line x1="321.70" y1="628.60" x2="324.10" y2="628.60" stroke="#777" stroke-width="0.70"/>
<text x="321.10" y="630.30" font-size="5.20" font-weight="bold" text-anchor="end" fill="#000" stroke="#000" stroke-width="0.19">0</text>
<line x1="321.70" y1="649.10" x2="324.10" y2="649.10" stroke="#777" stroke-width="0.70"/>
<text x="321.10" y="650.80" font-size="5.20" font-weight="bold" text-anchor="end" fill="#000" stroke="#000" stroke-width="0.19">-5</text>
<line x1="321.70" y1="669.60" x2="324.10" y2="669.60" stroke="#777" stroke-width="0.70"/>
<text x="321.10" y="671.30" font-size="5.20" font-weight="bold" text-anchor="end" fill="#000" stroke="#000" stroke-width="0.19">-10</text>
<line x1="337.30" y1="669.60" x2="337.30" y2="671.60" stroke="#777" stroke-width="0.70"/>
<text x="337.30" y="679.30" font-size="5.80" font-weight="bold" text-anchor="middle" fill="#000" stroke="#000" stroke-width="0.19">Day-1</text>
<line x1="357.10" y1="669.60" x2="357.10" y2="671.60" stroke="#777" stroke-width="0.70"/>
<text x="357.10" y="679.30" font-size="5.80" font-weight="bold" text-anchor="middle" fill="#000" stroke="#000" stroke-width="0.19">Day-6</text>
<line x1="376.90" y1="669.60" x2="376.90" y2="671.60" stroke="#777" stroke-width="0.70"/>
<text x="376.90" y="679.30" font-size="5.80" font-weight="bold" text-anchor="middle" fill="#000" stroke="#000" stroke-width="0.19">Day-10</text>
<text x="309.30" y="628.20" font-size="6.80" font-weight="bold" text-anchor="middle" fill="#000" transform="rotate(-90 309.30 628.20)" stroke="#000" stroke-width="0.19">AUC (0-5 S)</text>
<rect x="239.10" y="336.30" width="1.49" height="14.68" fill="#1dc483"/>
<rect x="240.34" y="336.30" width="1.49" height="14.68" fill="#1dc483"/>
<rect x="241.58" y="336.30" width="1.49" height="14.68" fill="#1dc483"/>
<rect x="242.82" y="336.30" width="1.49" height="14.68" fill="#1dc483"/>
<rect x="244.06" y="336.30" width="1.49" height="14.68" fill="#1dc483"/>
<rect x="245.30" y="336.30" width="1.49" height="14.68" fill="#1dc483"/>
<rect x="246.54" y="336.30" width="1.49" height="14.68" fill="#1dc483"/>
<rect x="247.78" y="336.30" width="1.49" height="14.68" fill="#1dc483"/>
<rect x="249.01" y="336.30" width="1.49" height="14.68" fill="#1dc483"/>
<rect x="250.25" y="336.30" width="1.49" height="14.68" fill="#1dc483"/>
<rect x="251.49" y="336.30" width="1.49" height="14.68" fill="#1dc483"/>
<rect x="252.73" y="336.30" width="1.49" height="14.68" fill="#12c38a"/>
<rect x="253.97" y="336.30" width="1.49" height="14.68" fill="#00bfa3"/>
<rect x="255.21" y="336.30" width="1.49" height="14.68" fill="#00bbb1"/>
<rect x="256.45" y="336.30" width="1.49" height="14.68" fill="#00bbb3"/>
<rect x="257.69" y="336.30" width="1.49" height="14.68" fill="#00bab4"/>
<rect x="258.93" y="336.30" width="1.49" height="14.68" fill="#00bf9f"/>
<rect x="260.17" y="336.30" width="1.49" height="14.68" fill="#12c38a"/>
<rect x="261.41" y="336.30" width="1.49" height="14.68" fill="#12c38a"/>
<rect x="262.65" y="336.30" width="1.49" height="14.68" fill="#12c38a"/>
<rect x="263.89" y="336.30" width="1.49" height="14.68" fill="#12c38a"/>
<rect x="265.12" y="336.30" width="1.49" height="14.68" fill="#12c38a"/>
<rect x="266.36" y="336.30" width="1.49" height="14.68" fill="#12c38a"/>
<rect x="267.60" y="336.30" width="1.49" height="14.68" fill="#12c38a"/>
<rect x="268.84" y="336.30" width="1.49" height="14.68" fill="#12c38a"/>
<rect x="270.08" y="336.30" width="1.49" height="14.68" fill="#12c38a"/>
<rect x="271.32" y="336.30" width="1.49" height="14.68" fill="#12c38a"/>
<rect x="272.56" y="336.30" width="1.49" height="14.68" fill="#12c38a"/>
<rect x="239.10" y="350.73" width="1.49" height="14.68" fill="#76c758"/>
<rect x="240.34" y="350.73" width="1.49" height="14.68" fill="#7dc756"/>
<rect x="241.58" y="350.73" width="1.49" height="14.68" fill="#83c653"/>
<rect x="242.82" y="350.73" width="1.49" height="14.68" fill="#89c651"/>
<rect x="244.06" y="350.73" width="1.49" height="14.68" fill="#8fc64e"/>
<rect x="245.30" y="350.73" width="1.49" height="14.68" fill="#96c64c"/>
<rect x="246.54" y="350.73" width="1.49" height="14.68" fill="#9ec649"/>
<rect x="247.78" y="350.73" width="1.49" height="14.68" fill="#a5c646"/>
<rect x="249.01" y="350.73" width="1.49" height="14.68" fill="#abc544"/>
<rect x="250.25" y="350.73" width="1.49" height="14.68" fill="#a5c646"/>
<rect x="251.49" y="350.73" width="1.49" height="14.68" fill="#9ec649"/>
<rect x="252.73" y="350.73" width="1.49" height="14.68" fill="#99c64b"/>
<rect x="253.97" y="350.73" width="1.49" height="14.68" fill="#96c64c"/>
<rect x="255.21" y="350.73" width="1.49" height="14.68" fill="#92c64d"/>
<rect x="256.45" y="350.73" width="1.49" height="14.68" fill="#8fc64f"/>
<rect x="257.69" y="350.73" width="1.49" height="14.68" fill="#8bc650"/>
<rect x="258.93" y="350.73" width="1.49" height="14.68" fill="#88c651"/>
<rect x="260.17" y="350.73" width="1.49" height="14.68" fill="#cdbf32"/>
<rect x="261.41" y="350.73" width="1.49" height="14.68" fill="#ffab00"/>
<rect x="262.65" y="350.73" width="1.49" height="14.68" fill="#ffc600"/>
<rect x="263.89" y="350.73" width="1.49" height="14.68" fill="#ffe300"/>
<rect x="265.12" y="350.73" width="1.49" height="14.68" fill="#fef000"/>
<rect x="266.36" y="350.73" width="1.49" height="14.68" fill="#fef000"/>
<rect x="267.60" y="350.73" width="1.49" height="14.68" fill="#fef100"/>
<rect x="268.84" y="350.73" width="1.49" height="14.68" fill="#fff200"/>
<rect x="270.08" y="350.73" width="1.49" height="14.68" fill="#fff300"/>
<rect x="271.32" y="350.73" width="1.49" height="14.68" fill="#fff400"/>
<rect x="272.56" y="350.73" width="1.49" height="14.68" fill="#ffdc00"/>
<rect x="239.10" y="365.17" width="1.49" height="14.68" fill="#31c578"/>
<rect x="240.34" y="365.17" width="1.49" height="14.68" fill="#2fc579"/>
<rect x="241.58" y="365.17" width="1.49" height="14.68" fill="#2dc57a"/>
<rect x="242.82" y="365.17" width="1.49" height="14.68" fill="#2bc57b"/>
<rect x="244.06" y="365.17" width="1.49" height="14.68" fill="#29c57c"/>
<rect x="245.30" y="365.17" width="1.49" height="14.68" fill="#28c47d"/>
<rect x="246.54" y="365.17" width="1.49" height="14.68" fill="#16c387"/>
<rect x="247.78" y="365.17" width="1.49" height="14.68" fill="#05c193"/>
<rect x="249.01" y="365.17" width="1.49" height="14.68" fill="#00bf9e"/>
<rect x="250.25" y="365.17" width="1.49" height="14.68" fill="#00bf9e"/>
<rect x="251.49" y="365.17" width="1.49" height="14.68" fill="#00bf9e"/>
<rect x="252.73" y="365.17" width="1.49" height="14.68" fill="#00bf9e"/>
<rect x="253.97" y="365.17" width="1.49" height="14.68" fill="#00bf9e"/>
<rect x="255.21" y="365.17" width="1.49" height="14.68" fill="#00bf9e"/>
<rect x="256.45" y="365.17" width="1.49" height="14.68" fill="#47c66d"/>
<rect x="257.69" y="365.17" width="1.49" height="14.68" fill="#cdbf32"/>
<rect x="258.93" y="365.17" width="1.49" height="14.68" fill="#dfb51f"/>
<rect x="260.17" y="365.17" width="1.49" height="14.68" fill="#f0ab0b"/>
<rect x="261.41" y="365.17" width="1.49" height="14.68" fill="#ffa800"/>
<rect x="262.65" y="365.17" width="1.49" height="14.68" fill="#ffaa00"/>
<rect x="263.89" y="365.17" width="1.49" height="14.68" fill="#ffa800"/>
<rect x="265.12" y="365.17" width="1.49" height="14.68" fill="#fba700"/>
<rect x="266.36" y="365.17" width="1.49" height="14.68" fill="#eaae12"/>
<rect x="267.60" y="365.17" width="1.49" height="14.68" fill="#37c575"/>
<rect x="268.84" y="365.17" width="1.49" height="14.68" fill="#00bf9e"/>
<rect x="270.08" y="365.17" width="1.49" height="14.68" fill="#00bf9e"/>
<rect x="271.32" y="365.17" width="1.49" height="14.68" fill="#00bf9e"/>
<rect x="272.56" y="365.17" width="1.49" height="14.68" fill="#00bf9e"/>
<text x="238.20" y="345.42" font-size="3.50" font-weight="normal" text-anchor="end" fill="#222" stroke="#222" stroke-width="0.15">Day-1</text>
<text x="238.20" y="359.85" font-size="3.50" font-weight="normal" text-anchor="end" fill="#222" stroke="#222" stroke-width="0.15">Day-6</text>
<text x="238.20" y="374.28" font-size="3.50" font-weight="normal" text-anchor="end" fill="#222" stroke="#222" stroke-width="0.15">Day-10</text>
<rect x="276.60" y="336.30" width="3.00" height="1.28" fill="#fffc00"/>
<rect x="276.60" y="337.38" width="3.00" height="1.28" fill="#fef000"/>
<rect x="276.60" y="338.47" width="3.00" height="1.28" fill="#ffe300"/>
<rect x="276.60" y="339.55" width="3.00" height="1.28" fill="#ffd400"/>
<rect x="276.60" y="340.63" width="3.00" height="1.28" fill="#ffc500"/>
<rect x="276.60" y="341.71" width="3.00" height="1.28" fill="#ffb600"/>
<rect x="276.60" y="342.80" width="3.00" height="1.28" fill="#ffaa00"/>
<rect x="276.60" y="343.88" width="3.00" height="1.28" fill="#fca800"/>
<rect x="276.60" y="344.96" width="3.00" height="1.28" fill="#efac0c"/>
<rect x="276.60" y="346.04" width="3.00" height="1.28" fill="#e2b31b"/>
<rect x="276.60" y="347.12" width="3.00" height="1.28" fill="#d4bb2a"/>
<rect x="276.60" y="348.21" width="3.00" height="1.28" fill="#c7c338"/>
<rect x="276.60" y="349.29" width="3.00" height="1.28" fill="#b2c541"/>
<rect x="276.60" y="350.37" width="3.00" height="1.28" fill="#9cc64a"/>
<rect x="276.60" y="351.46" width="3.00" height="1.28" fill="#85c653"/>
<rect x="276.60" y="352.54" width="3.00" height="1.28" fill="#6cc75d"/>
<rect x="276.60" y="353.62" width="3.00" height="1.28" fill="#51c668"/>
<rect x="276.60" y="354.70" width="3.00" height="1.28" fill="#35c576"/>
<rect x="276.60" y="355.79" width="3.00" height="1.28" fill="#1ac385"/>
<rect x="276.60" y="356.87" width="3.00" height="1.28" fill="#02c195"/>
<rect x="276.60" y="357.95" width="3.00" height="1.28" fill="#00bea7"/>
<rect x="276.60" y="359.03" width="3.00" height="1.28" fill="#00bab4"/>
<rect x="276.60" y="360.12" width="3.00" height="1.28" fill="#00b6be"/>
<rect x="276.60" y="361.20" width="3.00" height="1.28" fill="#00b2c5"/>
<rect x="276.60" y="362.28" width="3.00" height="1.28" fill="#00aecc"/>
<rect x="276.60" y="363.36" width="3.00" height="1.28" fill="#00a8d2"/>
<rect x="276.60" y="364.44" width="3.00" height="1.28" fill="#00a2d7"/>
<rect x="276.60" y="365.53" width="3.00" height="1.28" fill="#009ada"/>
<rect x="276.60" y="366.61" width="3.00" height="1.28" fill="#008fda"/>
<rect x="276.60" y="367.69" width="3.00" height="1.28" fill="#0084dc"/>
<rect x="276.60" y="368.78" width="3.00" height="1.28" fill="#007cde"/>
<rect x="276.60" y="369.86" width="3.00" height="1.28" fill="#0077e2"/>
<rect x="276.60" y="370.94" width="3.00" height="1.28" fill="#0073e6"/>
<rect x="276.60" y="372.02" width="3.00" height="1.28" fill="#006fe9"/>
<rect x="276.60" y="373.11" width="3.00" height="1.28" fill="#0069ea"/>
<rect x="276.60" y="374.19" width="3.00" height="1.28" fill="#0057e7"/>
<rect x="276.60" y="375.27" width="3.00" height="1.28" fill="#0034d6"/>
<rect x="276.60" y="376.35" width="3.00" height="1.28" fill="#0018c0"/>
<rect x="276.60" y="377.44" width="3.00" height="1.28" fill="#0409ab"/>
<rect x="276.60" y="378.52" width="3.00" height="1.28" fill="#0d0396"/>
<text x="281.30" y="337.30" font-size="3.15" font-weight="normal" text-anchor="start" fill="#222" stroke="#222" stroke-width="0.15">1</text>
<text x="281.30" y="345.96" font-size="3.15" font-weight="normal" text-anchor="start" fill="#222" stroke="#222" stroke-width="0.15">0.5</text>
<text x="281.30" y="354.62" font-size="3.15" font-weight="normal" text-anchor="start" fill="#222" stroke="#222" stroke-width="0.15">0</text>
<text x="281.30" y="363.28" font-size="3.15" font-weight="normal" text-anchor="start" fill="#222" stroke="#222" stroke-width="0.15">-0.5</text>
<text x="281.30" y="371.94" font-size="3.15" font-weight="normal" text-anchor="start" fill="#222" stroke="#222" stroke-width="0.15">-1</text>
<text x="281.30" y="380.60" font-size="3.15" font-weight="normal" text-anchor="start" fill="#222" stroke="#222" stroke-width="0.15">-1.5</text>
<text x="238.20" y="384.50" font-size="3.50" font-weight="normal" text-anchor="middle" fill="#222" stroke="#222" stroke-width="0.15">-0.5</text>
<text x="247.80" y="384.50" font-size="3.50" font-weight="normal" text-anchor="middle" fill="#222" stroke="#222" stroke-width="0.15">0</text>
<text x="256.40" y="384.50" font-size="3.50" font-weight="normal" text-anchor="middle" fill="#222" stroke="#222" stroke-width="0.15">0.5</text>
<text x="264.70" y="384.50" font-size="3.50" font-weight="normal" text-anchor="middle" fill="#222" stroke="#222" stroke-width="0.15">1</text>
<text x="273.00" y="384.50" font-size="3.50" font-weight="normal" text-anchor="middle" fill="#222" stroke="#222" stroke-width="0.15">1.5</text>
<line x1="239.10" y1="336.30" x2="239.10" y2="379.60" stroke="#777" stroke-width="0.50"/>
<rect x="39.10" y="483.30" width="1.52" height="14.75" fill="#49c66c"/>
<rect x="40.37" y="483.30" width="1.52" height="14.75" fill="#49c66c"/>
<rect x="41.64" y="483.30" width="1.52" height="14.75" fill="#41c670"/>
<rect x="42.90" y="483.30" width="1.52" height="14.75" fill="#28c47d"/>
<rect x="44.17" y="483.30" width="1.52" height="14.75" fill="#2dc57a"/>
<rect x="45.44" y="483.30" width="1.52" height="14.75" fill="#32c578"/>
<rect x="46.71" y="483.30" width="1.52" height="14.75" fill="#a3c647"/>
<rect x="47.98" y="483.30" width="1.52" height="14.75" fill="#a4c646"/>
<rect x="49.24" y="483.30" width="1.52" height="14.75" fill="#a5c646"/>
<rect x="50.51" y="483.30" width="1.52" height="14.75" fill="#a7c546"/>
<rect x="51.78" y="483.30" width="1.52" height="14.75" fill="#a8c545"/>
<rect x="53.05" y="483.30" width="1.52" height="14.75" fill="#a9c545"/>
<rect x="54.31" y="483.30" width="1.52" height="14.75" fill="#aac544"/>
<rect x="55.58" y="483.30" width="1.52" height="14.75" fill="#abc544"/>
<rect x="56.85" y="483.30" width="1.52" height="14.75" fill="#aac544"/>
<rect x="58.12" y="483.30" width="1.52" height="14.75" fill="#a7c545"/>
<rect x="59.39" y="483.30" width="1.52" height="14.75" fill="#a4c647"/>
<rect x="60.65" y="483.30" width="1.52" height="14.75" fill="#a1c648"/>
<rect x="61.92" y="483.30" width="1.52" height="14.75" fill="#9dc649"/>
<rect x="63.19" y="483.30" width="1.52" height="14.75" fill="#9ac64a"/>
<rect x="64.46" y="483.30" width="1.52" height="14.75" fill="#88c651"/>
<rect x="65.72" y="483.30" width="1.52" height="14.75" fill="#7dc755"/>
<rect x="66.99" y="483.30" width="1.52" height="14.75" fill="#7dc755"/>
<rect x="68.26" y="483.30" width="1.52" height="14.75" fill="#7dc755"/>
<rect x="69.53" y="483.30" width="1.52" height="14.75" fill="#7dc755"/>
<rect x="70.80" y="483.30" width="1.52" height="14.75" fill="#7dc755"/>
<rect x="72.06" y="483.30" width="1.52" height="14.75" fill="#7dc755"/>
<rect x="73.33" y="483.30" width="1.52" height="14.75" fill="#7dc755"/>
<rect x="39.10" y="497.80" width="1.52" height="14.75" fill="#07c191"/>
<rect x="40.37" y="497.80" width="1.52" height="14.75" fill="#04c193"/>
<rect x="41.64" y="497.80" width="1.52" height="14.75" fill="#00c196"/>
<rect x="42.90" y="497.80" width="1.52" height="14.75" fill="#00c099"/>
<rect x="44.17" y="497.80" width="1.52" height="14.75" fill="#00c09b"/>
<rect x="45.44" y="497.80" width="1.52" height="14.75" fill="#00bf9e"/>
<rect x="46.71" y="497.80" width="1.52" height="14.75" fill="#00b0c9"/>
<rect x="47.98" y="497.80" width="1.52" height="14.75" fill="#00afca"/>
<rect x="49.24" y="497.80" width="1.52" height="14.75" fill="#00aecc"/>
<rect x="50.51" y="497.80" width="1.52" height="14.75" fill="#00adce"/>
<rect x="51.78" y="497.80" width="1.52" height="14.75" fill="#00accf"/>
<rect x="53.05" y="497.80" width="1.52" height="14.75" fill="#00aad0"/>
<rect x="54.31" y="497.80" width="1.52" height="14.75" fill="#00a1d8"/>
<rect x="55.58" y="497.80" width="1.52" height="14.75" fill="#0094da"/>
<rect x="56.85" y="497.80" width="1.52" height="14.75" fill="#0092da"/>
<rect x="58.12" y="497.80" width="1.52" height="14.75" fill="#0091da"/>
<rect x="59.39" y="497.80" width="1.52" height="14.75" fill="#0090da"/>
<rect x="60.65" y="497.80" width="1.52" height="14.75" fill="#008edb"/>
<rect x="61.92" y="497.80" width="1.52" height="14.75" fill="#008ddb"/>
<rect x="63.19" y="497.80" width="1.52" height="14.75" fill="#008bdb"/>
<rect x="64.46" y="497.80" width="1.52" height="14.75" fill="#007ede"/>
<rect x="65.72" y="497.80" width="1.52" height="14.75" fill="#0078e1"/>
<rect x="66.99" y="497.80" width="1.52" height="14.75" fill="#0078e1"/>
<rect x="68.26" y="497.80" width="1.52" height="14.75" fill="#0078e1"/>
<rect x="69.53" y="497.80" width="1.52" height="14.75" fill="#0077e2"/>
<rect x="70.80" y="497.80" width="1.52" height="14.75" fill="#0077e2"/>
<rect x="72.06" y="497.80" width="1.52" height="14.75" fill="#0077e2"/>
<rect x="73.33" y="497.80" width="1.52" height="14.75" fill="#0076e2"/>
<rect x="39.10" y="512.30" width="1.52" height="14.75" fill="#1dc483"/>
<rect x="40.37" y="512.30" width="1.52" height="14.75" fill="#1dc483"/>
<rect x="41.64" y="512.30" width="1.52" height="14.75" fill="#1dc483"/>
<rect x="42.90" y="512.30" width="1.52" height="14.75" fill="#1dc483"/>
<rect x="44.17" y="512.30" width="1.52" height="14.75" fill="#1dc483"/>
<rect x="45.44" y="512.30" width="1.52" height="14.75" fill="#1dc483"/>
<rect x="46.71" y="512.30" width="1.52" height="14.75" fill="#1dc483"/>
<rect x="47.98" y="512.30" width="1.52" height="14.75" fill="#1dc483"/>
<rect x="49.24" y="512.30" width="1.52" height="14.75" fill="#faa700"/>
<rect x="50.51" y="512.30" width="1.52" height="14.75" fill="#ffb500"/>
<rect x="51.78" y="512.30" width="1.52" height="14.75" fill="#ffb500"/>
<rect x="53.05" y="512.30" width="1.52" height="14.75" fill="#a8c545"/>
<rect x="54.31" y="512.30" width="1.52" height="14.75" fill="#73c759"/>
<rect x="55.58" y="512.30" width="1.52" height="14.75" fill="#73c759"/>
<rect x="56.85" y="512.30" width="1.52" height="14.75" fill="#73c759"/>
<rect x="58.12" y="512.30" width="1.52" height="14.75" fill="#73c759"/>
<rect x="59.39" y="512.30" width="1.52" height="14.75" fill="#73c759"/>
<rect x="60.65" y="512.30" width="1.52" height="14.75" fill="#09c290"/>
<rect x="61.92" y="512.30" width="1.52" height="14.75" fill="#00bf9e"/>
<rect x="63.19" y="512.30" width="1.52" height="14.75" fill="#00bf9e"/>
<rect x="64.46" y="512.30" width="1.52" height="14.75" fill="#00bf9e"/>
<rect x="65.72" y="512.30" width="1.52" height="14.75" fill="#18c386"/>
<rect x="66.99" y="512.30" width="1.52" height="14.75" fill="#32c577"/>
<rect x="68.26" y="512.30" width="1.52" height="14.75" fill="#32c577"/>
<rect x="69.53" y="512.30" width="1.52" height="14.75" fill="#32c577"/>
<rect x="70.80" y="512.30" width="1.52" height="14.75" fill="#32c577"/>
<rect x="72.06" y="512.30" width="1.52" height="14.75" fill="#32c577"/>
<rect x="73.33" y="512.30" width="1.52" height="14.75" fill="#32c577"/>
<text x="37.70" y="492.45" font-size="3.50" font-weight="normal" text-anchor="end" fill="#222" stroke="#222" stroke-width="0.15">Day-1</text>
<text x="37.70" y="506.95" font-size="3.50" font-weight="normal" text-anchor="end" fill="#222" stroke="#222" stroke-width="0.15">Day-6</text>
<text x="37.70" y="521.45" font-size="3.50" font-weight="normal" text-anchor="end" fill="#222" stroke="#222" stroke-width="0.15">Day-10</text>
<rect x="77.10" y="483.30" width="2.80" height="1.29" fill="#fffc00"/>
<rect x="77.10" y="484.39" width="2.80" height="1.29" fill="#fef000"/>
<rect x="77.10" y="485.48" width="2.80" height="1.29" fill="#ffe300"/>
<rect x="77.10" y="486.56" width="2.80" height="1.29" fill="#ffd400"/>
<rect x="77.10" y="487.65" width="2.80" height="1.29" fill="#ffc500"/>
<rect x="77.10" y="488.74" width="2.80" height="1.29" fill="#ffb600"/>
<rect x="77.10" y="489.82" width="2.80" height="1.29" fill="#ffaa00"/>
<rect x="77.10" y="490.91" width="2.80" height="1.29" fill="#fca800"/>
<rect x="77.10" y="492.00" width="2.80" height="1.29" fill="#efac0c"/>
<rect x="77.10" y="493.09" width="2.80" height="1.29" fill="#e2b31b"/>
<rect x="77.10" y="494.18" width="2.80" height="1.29" fill="#d4bb2a"/>
<rect x="77.10" y="495.26" width="2.80" height="1.29" fill="#c7c338"/>
<rect x="77.10" y="496.35" width="2.80" height="1.29" fill="#b2c541"/>
<rect x="77.10" y="497.44" width="2.80" height="1.29" fill="#9cc64a"/>
<rect x="77.10" y="498.52" width="2.80" height="1.29" fill="#85c653"/>
<rect x="77.10" y="499.61" width="2.80" height="1.29" fill="#6cc75d"/>
<rect x="77.10" y="500.70" width="2.80" height="1.29" fill="#51c668"/>
<rect x="77.10" y="501.79" width="2.80" height="1.29" fill="#35c576"/>
<rect x="77.10" y="502.88" width="2.80" height="1.29" fill="#1ac385"/>
<rect x="77.10" y="503.96" width="2.80" height="1.29" fill="#02c195"/>
<rect x="77.10" y="505.05" width="2.80" height="1.29" fill="#00bea7"/>
<rect x="77.10" y="506.14" width="2.80" height="1.29" fill="#00bab4"/>
<rect x="77.10" y="507.22" width="2.80" height="1.29" fill="#00b6be"/>
<rect x="77.10" y="508.31" width="2.80" height="1.29" fill="#00b2c5"/>
<rect x="77.10" y="509.40" width="2.80" height="1.29" fill="#00aecc"/>
<rect x="77.10" y="510.49" width="2.80" height="1.29" fill="#00a8d2"/>
<rect x="77.10" y="511.57" width="2.80" height="1.29" fill="#00a2d7"/>
<rect x="77.10" y="512.66" width="2.80" height="1.29" fill="#009ada"/>
<rect x="77.10" y="513.75" width="2.80" height="1.29" fill="#008fda"/>
<rect x="77.10" y="514.84" width="2.80" height="1.29" fill="#0084dc"/>
<rect x="77.10" y="515.92" width="2.80" height="1.29" fill="#007cde"/>
<rect x="77.10" y="517.01" width="2.80" height="1.29" fill="#0077e2"/>
<rect x="77.10" y="518.10" width="2.80" height="1.29" fill="#0073e6"/>
<rect x="77.10" y="519.19" width="2.80" height="1.29" fill="#006fe9"/>
<rect x="77.10" y="520.27" width="2.80" height="1.29" fill="#0069ea"/>
<rect x="77.10" y="521.36" width="2.80" height="1.29" fill="#0057e7"/>
<rect x="77.10" y="522.45" width="2.80" height="1.29" fill="#0034d6"/>
<rect x="77.10" y="523.54" width="2.80" height="1.29" fill="#0018c0"/>
<rect x="77.10" y="524.62" width="2.80" height="1.29" fill="#0409ab"/>
<rect x="77.10" y="525.71" width="2.80" height="1.29" fill="#0d0396"/>
<text x="81.20" y="484.30" font-size="3.15" font-weight="normal" text-anchor="start" fill="#222" stroke="#222" stroke-width="0.15">1</text>
<text x="81.20" y="493.00" font-size="3.15" font-weight="normal" text-anchor="start" fill="#222" stroke="#222" stroke-width="0.15">0.5</text>
<text x="81.20" y="501.70" font-size="3.15" font-weight="normal" text-anchor="start" fill="#222" stroke="#222" stroke-width="0.15">0</text>
<text x="81.20" y="510.40" font-size="3.15" font-weight="normal" text-anchor="start" fill="#222" stroke="#222" stroke-width="0.15">-0.5</text>
<text x="81.20" y="519.10" font-size="3.15" font-weight="normal" text-anchor="start" fill="#222" stroke="#222" stroke-width="0.15">-1</text>
<text x="81.20" y="527.80" font-size="3.15" font-weight="normal" text-anchor="start" fill="#222" stroke="#222" stroke-width="0.15">-1.5</text>
<text x="38.60" y="531.50" font-size="3.50" font-weight="normal" text-anchor="middle" fill="#222" stroke="#222" stroke-width="0.15">-1</text>
<text x="44.80" y="531.50" font-size="3.50" font-weight="normal" text-anchor="middle" fill="#222" stroke="#222" stroke-width="0.15">0</text>
<text x="51.00" y="531.50" font-size="3.50" font-weight="normal" text-anchor="middle" fill="#222" stroke="#222" stroke-width="0.15">1</text>
<text x="56.90" y="531.50" font-size="3.50" font-weight="normal" text-anchor="middle" fill="#222" stroke="#222" stroke-width="0.15">2</text>
<text x="62.60" y="531.50" font-size="3.50" font-weight="normal" text-anchor="middle" fill="#222" stroke="#222" stroke-width="0.15">3</text>
<text x="68.80" y="531.50" font-size="3.50" font-weight="normal" text-anchor="middle" fill="#222" stroke="#222" stroke-width="0.15">4</text>
<text x="74.60" y="531.50" font-size="3.50" font-weight="normal" text-anchor="middle" fill="#222" stroke="#222" stroke-width="0.15">5</text>
<line x1="39.10" y1="483.30" x2="39.10" y2="526.80" stroke="#777" stroke-width="0.50"/>
<rect x="244.10" y="486.70" width="1.52" height="14.55" fill="#33c577"/>
<rect x="245.37" y="486.70" width="1.52" height="14.55" fill="#07c191"/>
<rect x="246.64" y="486.70" width="1.52" height="14.55" fill="#03c193"/>
<rect x="247.90" y="486.70" width="1.52" height="14.55" fill="#00c195"/>
<rect x="249.17" y="486.70" width="1.52" height="14.55" fill="#00c098"/>
<rect x="250.44" y="486.70" width="1.52" height="14.55" fill="#00c09b"/>
<rect x="251.71" y="486.70" width="1.52" height="14.55" fill="#00c09d"/>
<rect x="252.97" y="486.70" width="1.52" height="14.55" fill="#00bdaa"/>
<rect x="254.24" y="486.70" width="1.52" height="14.55" fill="#00bbb0"/>
<rect x="255.51" y="486.70" width="1.52" height="14.55" fill="#00bbb0"/>
<rect x="256.78" y="486.70" width="1.52" height="14.55" fill="#00bbb0"/>
<rect x="258.05" y="486.70" width="1.52" height="14.55" fill="#00bbb0"/>
<rect x="259.31" y="486.70" width="1.52" height="14.55" fill="#00bbb0"/>
<rect x="260.58" y="486.70" width="1.52" height="14.55" fill="#00bbb0"/>
<rect x="261.85" y="486.70" width="1.52" height="14.55" fill="#00bbb0"/>
<rect x="263.12" y="486.70" width="1.52" height="14.55" fill="#00bbb0"/>
<rect x="264.39" y="486.70" width="1.52" height="14.55" fill="#00bbb0"/>
<rect x="265.65" y="486.70" width="1.52" height="14.55" fill="#2bc57b"/>
<rect x="266.92" y="486.70" width="1.52" height="14.55" fill="#3dc671"/>
<rect x="268.19" y="486.70" width="1.52" height="14.55" fill="#3dc671"/>
<rect x="269.46" y="486.70" width="1.52" height="14.55" fill="#3dc671"/>
<rect x="270.73" y="486.70" width="1.52" height="14.55" fill="#11c28b"/>
<rect x="271.99" y="486.70" width="1.52" height="14.55" fill="#00bf9e"/>
<rect x="273.26" y="486.70" width="1.52" height="14.55" fill="#00bf9e"/>
<rect x="274.53" y="486.70" width="1.52" height="14.55" fill="#00bf9e"/>
<rect x="275.80" y="486.70" width="1.52" height="14.55" fill="#00bf9e"/>
<rect x="277.06" y="486.70" width="1.52" height="14.55" fill="#00bf9e"/>
<rect x="278.33" y="486.70" width="1.52" height="14.55" fill="#00bf9e"/>
<rect x="244.10" y="501.00" width="1.52" height="14.55" fill="#09c290"/>
<rect x="245.37" y="501.00" width="1.52" height="14.55" fill="#09c290"/>
<rect x="246.64" y="501.00" width="1.52" height="14.55" fill="#09c290"/>
<rect x="247.90" y="501.00" width="1.52" height="14.55" fill="#09c290"/>
<rect x="249.17" y="501.00" width="1.52" height="14.55" fill="#09c290"/>
<rect x="250.44" y="501.00" width="1.52" height="14.55" fill="#09c290"/>
<rect x="251.71" y="501.00" width="1.52" height="14.55" fill="#09c290"/>
<rect x="252.97" y="501.00" width="1.52" height="14.55" fill="#7ac757"/>
<rect x="254.24" y="501.00" width="1.52" height="14.55" fill="#bdc43d"/>
<rect x="255.51" y="501.00" width="1.52" height="14.55" fill="#bdc43d"/>
<rect x="256.78" y="501.00" width="1.52" height="14.55" fill="#bdc43d"/>
<rect x="258.05" y="501.00" width="1.52" height="14.55" fill="#bdc43d"/>
<rect x="259.31" y="501.00" width="1.52" height="14.55" fill="#bdc43d"/>
<rect x="260.58" y="501.00" width="1.52" height="14.55" fill="#bdc43d"/>
<rect x="261.85" y="501.00" width="1.52" height="14.55" fill="#bdc43d"/>
<rect x="263.12" y="501.00" width="1.52" height="14.55" fill="#bdc43d"/>
<rect x="264.39" y="501.00" width="1.52" height="14.55" fill="#bdc43d"/>
<rect x="265.65" y="501.00" width="1.52" height="14.55" fill="#bdc43d"/>
<rect x="266.92" y="501.00" width="1.52" height="14.55" fill="#f8a802"/>
<rect x="268.19" y="501.00" width="1.52" height="14.55" fill="#ffaf00"/>
<rect x="269.46" y="501.00" width="1.52" height="14.55" fill="#ffab00"/>
<rect x="270.73" y="501.00" width="1.52" height="14.55" fill="#d6ba28"/>
<rect x="271.99" y="501.00" width="1.52" height="14.55" fill="#d6ba28"/>
<rect x="273.26" y="501.00" width="1.52" height="14.55" fill="#e8b015"/>
<rect x="274.53" y="501.00" width="1.52" height="14.55" fill="#ffaf00"/>
<rect x="275.80" y="501.00" width="1.52" height="14.55" fill="#ffaf00"/>
<rect x="277.06" y="501.00" width="1.52" height="14.55" fill="#ffaf00"/>
<rect x="278.33" y="501.00" width="1.52" height="14.55" fill="#d6ba28"/>
<rect x="244.10" y="515.30" width="1.52" height="14.55" fill="#43c66f"/>
<rect x="245.37" y="515.30" width="1.52" height="14.55" fill="#09c290"/>
<rect x="246.64" y="515.30" width="1.52" height="14.55" fill="#09c290"/>
<rect x="247.90" y="515.30" width="1.52" height="14.55" fill="#09c290"/>
<rect x="249.17" y="515.30" width="1.52" height="14.55" fill="#09c290"/>
<rect x="250.44" y="515.30" width="1.52" height="14.55" fill="#09c290"/>
<rect x="251.71" y="515.30" width="1.52" height="14.55" fill="#00a0d8"/>
<rect x="252.97" y="515.30" width="1.52" height="14.55" fill="#00a0d8"/>
<rect x="254.24" y="515.30" width="1.52" height="14.55" fill="#00b3c3"/>
<rect x="255.51" y="515.30" width="1.52" height="14.55" fill="#00b3c3"/>
<rect x="256.78" y="515.30" width="1.52" height="14.55" fill="#00b3c3"/>
<rect x="258.05" y="515.30" width="1.52" height="14.55" fill="#00b3c3"/>
<rect x="259.31" y="515.30" width="1.52" height="14.55" fill="#00b3c3"/>
<rect x="260.58" y="515.30" width="1.52" height="14.55" fill="#00b3c3"/>
<rect x="261.85" y="515.30" width="1.52" height="14.55" fill="#00b3c3"/>
<rect x="263.12" y="515.30" width="1.52" height="14.55" fill="#00b3c3"/>
<rect x="264.39" y="515.30" width="1.52" height="14.55" fill="#00b3c3"/>
<rect x="265.65" y="515.30" width="1.52" height="14.55" fill="#00bab4"/>
<rect x="266.92" y="515.30" width="1.52" height="14.55" fill="#00bbb0"/>
<rect x="268.19" y="515.30" width="1.52" height="14.55" fill="#00bbb0"/>
<rect x="269.46" y="515.30" width="1.52" height="14.55" fill="#00bbb0"/>
<rect x="270.73" y="515.30" width="1.52" height="14.55" fill="#00c09a"/>
<rect x="271.99" y="515.30" width="1.52" height="14.55" fill="#12c38a"/>
<rect x="273.26" y="515.30" width="1.52" height="14.55" fill="#12c38a"/>
<rect x="274.53" y="515.30" width="1.52" height="14.55" fill="#12c38a"/>
<rect x="275.80" y="515.30" width="1.52" height="14.55" fill="#12c38a"/>
<rect x="277.06" y="515.30" width="1.52" height="14.55" fill="#12c38a"/>
<rect x="278.33" y="515.30" width="1.52" height="14.55" fill="#12c38a"/>
<text x="242.70" y="495.75" font-size="3.50" font-weight="normal" text-anchor="end" fill="#222" stroke="#222" stroke-width="0.15">Day-1</text>
<text x="242.70" y="510.05" font-size="3.50" font-weight="normal" text-anchor="end" fill="#222" stroke="#222" stroke-width="0.15">Day-6</text>
<text x="242.70" y="524.35" font-size="3.50" font-weight="normal" text-anchor="end" fill="#222" stroke="#222" stroke-width="0.15">Day-10</text>
<rect x="281.40" y="486.70" width="2.60" height="1.27" fill="#fffc00"/>
<rect x="281.40" y="487.77" width="2.60" height="1.27" fill="#fef000"/>
<rect x="281.40" y="488.84" width="2.60" height="1.27" fill="#ffe300"/>
<rect x="281.40" y="489.92" width="2.60" height="1.27" fill="#ffd400"/>
<rect x="281.40" y="490.99" width="2.60" height="1.27" fill="#ffc500"/>
<rect x="281.40" y="492.06" width="2.60" height="1.27" fill="#ffb600"/>
<rect x="281.40" y="493.13" width="2.60" height="1.27" fill="#ffaa00"/>
<rect x="281.40" y="494.21" width="2.60" height="1.27" fill="#fca800"/>
<rect x="281.40" y="495.28" width="2.60" height="1.27" fill="#efac0c"/>
<rect x="281.40" y="496.35" width="2.60" height="1.27" fill="#e2b31b"/>
<rect x="281.40" y="497.43" width="2.60" height="1.27" fill="#d4bb2a"/>
<rect x="281.40" y="498.50" width="2.60" height="1.27" fill="#c7c338"/>
<rect x="281.40" y="499.57" width="2.60" height="1.27" fill="#b2c541"/>
<rect x="281.40" y="500.64" width="2.60" height="1.27" fill="#9cc64a"/>
<rect x="281.40" y="501.71" width="2.60" height="1.27" fill="#85c653"/>
<rect x="281.40" y="502.79" width="2.60" height="1.27" fill="#6cc75d"/>
<rect x="281.40" y="503.86" width="2.60" height="1.27" fill="#51c668"/>
<rect x="281.40" y="504.93" width="2.60" height="1.27" fill="#35c576"/>
<rect x="281.40" y="506.00" width="2.60" height="1.27" fill="#1ac385"/>
<rect x="281.40" y="507.08" width="2.60" height="1.27" fill="#02c195"/>
<rect x="281.40" y="508.15" width="2.60" height="1.27" fill="#00bea7"/>
<rect x="281.40" y="509.22" width="2.60" height="1.27" fill="#00bab4"/>
<rect x="281.40" y="510.30" width="2.60" height="1.27" fill="#00b6be"/>
<rect x="281.40" y="511.37" width="2.60" height="1.27" fill="#00b2c5"/>
<rect x="281.40" y="512.44" width="2.60" height="1.27" fill="#00aecc"/>
<rect x="281.40" y="513.51" width="2.60" height="1.27" fill="#00a8d2"/>
<rect x="281.40" y="514.59" width="2.60" height="1.27" fill="#00a2d7"/>
<rect x="281.40" y="515.66" width="2.60" height="1.27" fill="#009ada"/>
<rect x="281.40" y="516.73" width="2.60" height="1.27" fill="#008fda"/>
<rect x="281.40" y="517.80" width="2.60" height="1.27" fill="#0084dc"/>
<rect x="281.40" y="518.88" width="2.60" height="1.27" fill="#007cde"/>
<rect x="281.40" y="519.95" width="2.60" height="1.27" fill="#0077e2"/>
<rect x="281.40" y="521.02" width="2.60" height="1.27" fill="#0073e6"/>
<rect x="281.40" y="522.09" width="2.60" height="1.27" fill="#006fe9"/>
<rect x="281.40" y="523.16" width="2.60" height="1.27" fill="#0069ea"/>
<rect x="281.40" y="524.24" width="2.60" height="1.27" fill="#0057e7"/>
<rect x="281.40" y="525.31" width="2.60" height="1.27" fill="#0034d6"/>
<rect x="281.40" y="526.38" width="2.60" height="1.27" fill="#0018c0"/>
<rect x="281.40" y="527.46" width="2.60" height="1.27" fill="#0409ab"/>
<rect x="281.40" y="528.53" width="2.60" height="1.27" fill="#0d0396"/>
<text x="285.30" y="487.70" font-size="3.15" font-weight="normal" text-anchor="start" fill="#222" stroke="#222" stroke-width="0.15">1</text>
<text x="285.30" y="496.28" font-size="3.15" font-weight="normal" text-anchor="start" fill="#222" stroke="#222" stroke-width="0.15">0.5</text>
<text x="285.30" y="504.86" font-size="3.15" font-weight="normal" text-anchor="start" fill="#222" stroke="#222" stroke-width="0.15">0</text>
<text x="285.30" y="513.44" font-size="3.15" font-weight="normal" text-anchor="start" fill="#222" stroke="#222" stroke-width="0.15">-0.5</text>
<text x="285.30" y="522.02" font-size="3.15" font-weight="normal" text-anchor="start" fill="#222" stroke="#222" stroke-width="0.15">-1</text>
<text x="285.30" y="530.60" font-size="3.15" font-weight="normal" text-anchor="start" fill="#222" stroke="#222" stroke-width="0.15">-1.5</text>
<text x="249.80" y="534.00" font-size="3.50" font-weight="normal" text-anchor="middle" fill="#222" stroke="#222" stroke-width="0.15">0</text>
<text x="261.90" y="534.00" font-size="3.50" font-weight="normal" text-anchor="middle" fill="#222" stroke="#222" stroke-width="0.15">2</text>
<text x="273.80" y="534.00" font-size="3.50" font-weight="normal" text-anchor="middle" fill="#222" stroke="#222" stroke-width="0.15">4</text>
<line x1="244.10" y1="486.70" x2="244.10" y2="529.60" stroke="#777" stroke-width="0.50"/>
<rect x="37.20" y="634.70" width="1.52" height="14.85" fill="#09c290"/>
<rect x="38.47" y="634.70" width="1.52" height="14.85" fill="#09c290"/>
<rect x="39.74" y="634.70" width="1.52" height="14.85" fill="#09c290"/>
<rect x="41.01" y="634.70" width="1.52" height="14.85" fill="#09c290"/>
<rect x="42.29" y="634.70" width="1.52" height="14.85" fill="#09c290"/>
<rect x="43.56" y="634.70" width="1.52" height="14.85" fill="#09c290"/>
<rect x="44.83" y="634.70" width="1.52" height="14.85" fill="#09c290"/>
<rect x="46.10" y="634.70" width="1.52" height="14.85" fill="#09c290"/>
<rect x="47.37" y="634.70" width="1.52" height="14.85" fill="#09c290"/>
<rect x="48.64" y="634.70" width="1.52" height="14.85" fill="#09c290"/>
<rect x="49.91" y="634.70" width="1.52" height="14.85" fill="#09c290"/>
<rect x="51.19" y="634.70" width="1.52" height="14.85" fill="#09c290"/>
<rect x="52.46" y="634.70" width="1.52" height="14.85" fill="#09c290"/>
<rect x="53.73" y="634.70" width="1.52" height="14.85" fill="#09c290"/>
<rect x="55.00" y="634.70" width="1.52" height="14.85" fill="#09c290"/>
<rect x="56.27" y="634.70" width="1.52" height="14.85" fill="#09c290"/>
<rect x="57.54" y="634.70" width="1.52" height="14.85" fill="#09c290"/>
<rect x="58.81" y="634.70" width="1.52" height="14.85" fill="#09c290"/>
<rect x="60.09" y="634.70" width="1.52" height="14.85" fill="#0ac28f"/>
<rect x="61.36" y="634.70" width="1.52" height="14.85" fill="#57c666"/>
<rect x="62.63" y="634.70" width="1.52" height="14.85" fill="#18c386"/>
<rect x="63.90" y="634.70" width="1.52" height="14.85" fill="#0dc28d"/>
<rect x="65.17" y="634.70" width="1.52" height="14.85" fill="#13c389"/>
<rect x="66.44" y="634.70" width="1.52" height="14.85" fill="#19c386"/>
<rect x="67.71" y="634.70" width="1.52" height="14.85" fill="#52c668"/>
<rect x="68.99" y="634.70" width="1.52" height="14.85" fill="#a3c647"/>
<rect x="70.26" y="634.70" width="1.52" height="14.85" fill="#a3c647"/>
<rect x="71.53" y="634.70" width="1.52" height="14.85" fill="#a3c647"/>
<rect x="37.20" y="649.30" width="1.52" height="14.85" fill="#d6ba28"/>
<rect x="38.47" y="649.30" width="1.52" height="14.85" fill="#00bf9e"/>
<rect x="39.74" y="649.30" width="1.52" height="14.85" fill="#00bf9e"/>
<rect x="41.01" y="649.30" width="1.52" height="14.85" fill="#00bf9e"/>
<rect x="42.29" y="649.30" width="1.52" height="14.85" fill="#00bfa3"/>
<rect x="43.56" y="649.30" width="1.52" height="14.85" fill="#007bdf"/>
<rect x="44.83" y="649.30" width="1.52" height="14.85" fill="#007bdf"/>
<rect x="46.10" y="649.30" width="1.52" height="14.85" fill="#007bdf"/>
<rect x="47.37" y="649.30" width="1.52" height="14.85" fill="#00afca"/>
<rect x="48.64" y="649.30" width="1.52" height="14.85" fill="#00b6bd"/>
<rect x="49.91" y="649.30" width="1.52" height="14.85" fill="#00b6bd"/>
<rect x="51.19" y="649.30" width="1.52" height="14.85" fill="#00b6bd"/>
<rect x="52.46" y="649.30" width="1.52" height="14.85" fill="#00b6bd"/>
<rect x="53.73" y="649.30" width="1.52" height="14.85" fill="#00b6bd"/>
<rect x="55.00" y="649.30" width="1.52" height="14.85" fill="#00b6bd"/>
<rect x="56.27" y="649.30" width="1.52" height="14.85" fill="#00b6bd"/>
<rect x="57.54" y="649.30" width="1.52" height="14.85" fill="#00b6bd"/>
<rect x="58.81" y="649.30" width="1.52" height="14.85" fill="#00b6bd"/>
<rect x="60.09" y="649.30" width="1.52" height="14.85" fill="#00b7bc"/>
<rect x="61.36" y="649.30" width="1.52" height="14.85" fill="#09c290"/>
<rect x="62.63" y="649.30" width="1.52" height="14.85" fill="#09c290"/>
<rect x="63.90" y="649.30" width="1.52" height="14.85" fill="#09c290"/>
<rect x="65.17" y="649.30" width="1.52" height="14.85" fill="#09c290"/>
<rect x="66.44" y="649.30" width="1.52" height="14.85" fill="#09c290"/>
<rect x="67.71" y="649.30" width="1.52" height="14.85" fill="#94c64d"/>
<rect x="68.99" y="649.30" width="1.52" height="14.85" fill="#acc544"/>
<rect x="70.26" y="649.30" width="1.52" height="14.85" fill="#acc544"/>
<rect x="71.53" y="649.30" width="1.52" height="14.85" fill="#6dc75c"/>
<rect x="37.20" y="663.90" width="1.52" height="14.85" fill="#1dc483"/>
<rect x="38.47" y="663.90" width="1.52" height="14.85" fill="#1dc483"/>
<rect x="39.74" y="663.90" width="1.52" height="14.85" fill="#00c09c"/>
<rect x="41.01" y="663.90" width="1.52" height="14.85" fill="#00bab5"/>
<rect x="42.29" y="663.90" width="1.52" height="14.85" fill="#00bab5"/>
<rect x="43.56" y="663.90" width="1.52" height="14.85" fill="#0091da"/>
<rect x="44.83" y="663.90" width="1.52" height="14.85" fill="#0087db"/>
<rect x="46.10" y="663.90" width="1.52" height="14.85" fill="#0087db"/>
<rect x="47.37" y="663.90" width="1.52" height="14.85" fill="#0087db"/>
<rect x="48.64" y="663.90" width="1.52" height="14.85" fill="#0087db"/>
<rect x="49.91" y="663.90" width="1.52" height="14.85" fill="#0087db"/>
<rect x="51.19" y="663.90" width="1.52" height="14.85" fill="#0087db"/>
<rect x="52.46" y="663.90" width="1.52" height="14.85" fill="#0087db"/>
<rect x="53.73" y="663.90" width="1.52" height="14.85" fill="#0087db"/>
<rect x="55.00" y="663.90" width="1.52" height="14.85" fill="#0087db"/>
<rect x="56.27" y="663.90" width="1.52" height="14.85" fill="#008cdb"/>
<rect x="57.54" y="663.90" width="1.52" height="14.85" fill="#00aad1"/>
<rect x="58.81" y="663.90" width="1.52" height="14.85" fill="#00aad1"/>
<rect x="60.09" y="663.90" width="1.52" height="14.85" fill="#00aad1"/>
<rect x="61.36" y="663.90" width="1.52" height="14.85" fill="#00b4c1"/>
<rect x="62.63" y="663.90" width="1.52" height="14.85" fill="#00b6bd"/>
<rect x="63.90" y="663.90" width="1.52" height="14.85" fill="#00b6bd"/>
<rect x="65.17" y="663.90" width="1.52" height="14.85" fill="#00b6bd"/>
<rect x="66.44" y="663.90" width="1.52" height="14.85" fill="#00b6bd"/>
<rect x="67.71" y="663.90" width="1.52" height="14.85" fill="#00bea5"/>
<rect x="68.99" y="663.90" width="1.52" height="14.85" fill="#00bf9e"/>
<rect x="70.26" y="663.90" width="1.52" height="14.85" fill="#00bf9e"/>
<rect x="71.53" y="663.90" width="1.52" height="14.85" fill="#00bf9e"/>
<text x="36.30" y="643.90" font-size="3.50" font-weight="normal" text-anchor="end" fill="#222" stroke="#222" stroke-width="0.15">Day-1</text>
<text x="36.30" y="658.50" font-size="3.50" font-weight="normal" text-anchor="end" fill="#222" stroke="#222" stroke-width="0.15">Day-6</text>
<text x="36.30" y="673.10" font-size="3.50" font-weight="normal" text-anchor="end" fill="#222" stroke="#222" stroke-width="0.15">Day-10</text>
<rect x="74.60" y="634.70" width="2.50" height="1.29" fill="#fffc00"/>
<rect x="74.60" y="635.80" width="2.50" height="1.29" fill="#fef000"/>
<rect x="74.60" y="636.89" width="2.50" height="1.29" fill="#ffe300"/>
<rect x="74.60" y="637.99" width="2.50" height="1.29" fill="#ffd400"/>
<rect x="74.60" y="639.08" width="2.50" height="1.29" fill="#ffc500"/>
<rect x="74.60" y="640.18" width="2.50" height="1.29" fill="#ffb600"/>
<rect x="74.60" y="641.27" width="2.50" height="1.29" fill="#ffaa00"/>
<rect x="74.60" y="642.37" width="2.50" height="1.29" fill="#fca800"/>
<rect x="74.60" y="643.46" width="2.50" height="1.29" fill="#efac0c"/>
<rect x="74.60" y="644.56" width="2.50" height="1.29" fill="#e2b31b"/>
<rect x="74.60" y="645.65" width="2.50" height="1.29" fill="#d4bb2a"/>
<rect x="74.60" y="646.75" width="2.50" height="1.29" fill="#c7c338"/>
<rect x="74.60" y="647.84" width="2.50" height="1.29" fill="#b2c541"/>
<rect x="74.60" y="648.94" width="2.50" height="1.29" fill="#9cc64a"/>
<rect x="74.60" y="650.03" width="2.50" height="1.29" fill="#85c653"/>
<rect x="74.60" y="651.12" width="2.50" height="1.29" fill="#6cc75d"/>
<rect x="74.60" y="652.22" width="2.50" height="1.29" fill="#51c668"/>
<rect x="74.60" y="653.32" width="2.50" height="1.29" fill="#35c576"/>
<rect x="74.60" y="654.41" width="2.50" height="1.29" fill="#1ac385"/>
<rect x="74.60" y="655.50" width="2.50" height="1.29" fill="#02c195"/>
<rect x="74.60" y="656.60" width="2.50" height="1.29" fill="#00bea7"/>
<rect x="74.60" y="657.70" width="2.50" height="1.29" fill="#00bab4"/>
<rect x="74.60" y="658.79" width="2.50" height="1.29" fill="#00b6be"/>
<rect x="74.60" y="659.88" width="2.50" height="1.29" fill="#00b2c5"/>
<rect x="74.60" y="660.98" width="2.50" height="1.29" fill="#00aecc"/>
<rect x="74.60" y="662.08" width="2.50" height="1.29" fill="#00a8d2"/>
<rect x="74.60" y="663.17" width="2.50" height="1.29" fill="#00a2d7"/>
<rect x="74.60" y="664.26" width="2.50" height="1.29" fill="#009ada"/>
<rect x="74.60" y="665.36" width="2.50" height="1.29" fill="#008fda"/>
<rect x="74.60" y="666.46" width="2.50" height="1.29" fill="#0084dc"/>
<rect x="74.60" y="667.55" width="2.50" height="1.29" fill="#007cde"/>
<rect x="74.60" y="668.64" width="2.50" height="1.29" fill="#0077e2"/>
<rect x="74.60" y="669.74" width="2.50" height="1.29" fill="#0073e6"/>
<rect x="74.60" y="670.84" width="2.50" height="1.29" fill="#006fe9"/>
<rect x="74.60" y="671.93" width="2.50" height="1.29" fill="#0069ea"/>
<rect x="74.60" y="673.02" width="2.50" height="1.29" fill="#0057e7"/>
<rect x="74.60" y="674.12" width="2.50" height="1.29" fill="#0034d6"/>
<rect x="74.60" y="675.22" width="2.50" height="1.29" fill="#0018c0"/>
<rect x="74.60" y="676.31" width="2.50" height="1.29" fill="#0409ab"/>
<rect x="74.60" y="677.40" width="2.50" height="1.29" fill="#0d0396"/>
<text x="78.50" y="635.70" font-size="3.15" font-weight="normal" text-anchor="start" fill="#222" stroke="#222" stroke-width="0.15">1</text>
<text x="78.50" y="644.46" font-size="3.15" font-weight="normal" text-anchor="start" fill="#222" stroke="#222" stroke-width="0.15">0.5</text>
<text x="78.50" y="653.22" font-size="3.15" font-weight="normal" text-anchor="start" fill="#222" stroke="#222" stroke-width="0.15">0</text>
<text x="78.50" y="661.98" font-size="3.15" font-weight="normal" text-anchor="start" fill="#222" stroke="#222" stroke-width="0.15">-0.5</text>
<text x="78.50" y="670.74" font-size="3.15" font-weight="normal" text-anchor="start" fill="#222" stroke="#222" stroke-width="0.15">-1</text>
<text x="78.50" y="679.50" font-size="3.15" font-weight="normal" text-anchor="start" fill="#222" stroke="#222" stroke-width="0.15">-1.5</text>
<text x="37.20" y="682.20" font-size="3.50" font-weight="normal" text-anchor="middle" fill="#222" stroke="#222" stroke-width="0.15">-1</text>
<text x="42.70" y="682.20" font-size="3.50" font-weight="normal" text-anchor="middle" fill="#222" stroke="#222" stroke-width="0.15">0</text>
<text x="48.90" y="682.20" font-size="3.50" font-weight="normal" text-anchor="middle" fill="#222" stroke="#222" stroke-width="0.15">1</text>
<text x="55.10" y="682.20" font-size="3.50" font-weight="normal" text-anchor="middle" fill="#222" stroke="#222" stroke-width="0.15">2</text>
<text x="61.30" y="682.20" font-size="3.50" font-weight="normal" text-anchor="middle" fill="#222" stroke="#222" stroke-width="0.15">3</text>
<text x="67.00" y="682.20" font-size="3.50" font-weight="normal" text-anchor="middle" fill="#222" stroke="#222" stroke-width="0.15">4</text>
<text x="72.30" y="682.20" font-size="3.50" font-weight="normal" text-anchor="middle" fill="#222" stroke="#222" stroke-width="0.15">5</text>
<line x1="37.20" y1="634.70" x2="37.20" y2="678.50" stroke="#777" stroke-width="0.50"/>
<rect x="245.20" y="635.40" width="1.57" height="14.78" fill="#09c290"/>
<rect x="246.52" y="635.40" width="1.57" height="14.78" fill="#09c290"/>
<rect x="247.84" y="635.40" width="1.57" height="14.78" fill="#09c290"/>
<rect x="249.15" y="635.40" width="1.57" height="14.78" fill="#09c290"/>
<rect x="250.47" y="635.40" width="1.57" height="14.78" fill="#09c290"/>
<rect x="251.79" y="635.40" width="1.57" height="14.78" fill="#09c290"/>
<rect x="253.11" y="635.40" width="1.57" height="14.78" fill="#09c290"/>
<rect x="254.43" y="635.40" width="1.57" height="14.78" fill="#09c290"/>
<rect x="255.74" y="635.40" width="1.57" height="14.78" fill="#09c290"/>
<rect x="257.06" y="635.40" width="1.57" height="14.78" fill="#09c290"/>
<rect x="258.38" y="635.40" width="1.57" height="14.78" fill="#09c290"/>
<rect x="259.70" y="635.40" width="1.57" height="14.78" fill="#09c290"/>
<rect x="261.01" y="635.40" width="1.57" height="14.78" fill="#09c290"/>
<rect x="262.33" y="635.40" width="1.57" height="14.78" fill="#09c290"/>
<rect x="263.65" y="635.40" width="1.57" height="14.78" fill="#09c290"/>
<rect x="264.97" y="635.40" width="1.57" height="14.78" fill="#09c290"/>
<rect x="266.29" y="635.40" width="1.57" height="14.78" fill="#20c481"/>
<rect x="267.60" y="635.40" width="1.57" height="14.78" fill="#73c759"/>
<rect x="268.92" y="635.40" width="1.57" height="14.78" fill="#73c759"/>
<rect x="270.24" y="635.40" width="1.57" height="14.78" fill="#73c759"/>
<rect x="271.56" y="635.40" width="1.57" height="14.78" fill="#73c759"/>
<rect x="272.88" y="635.40" width="1.57" height="14.78" fill="#73c759"/>
<rect x="274.19" y="635.40" width="1.57" height="14.78" fill="#a0c648"/>
<rect x="275.51" y="635.40" width="1.57" height="14.78" fill="#bdc43d"/>
<rect x="276.83" y="635.40" width="1.57" height="14.78" fill="#bdc43d"/>
<rect x="278.15" y="635.40" width="1.57" height="14.78" fill="#bdc43d"/>
<rect x="279.46" y="635.40" width="1.57" height="14.78" fill="#bdc43d"/>
<rect x="280.78" y="635.40" width="1.57" height="14.78" fill="#bdc43d"/>
<rect x="245.20" y="649.93" width="1.57" height="14.78" fill="#00bf9e"/>
<rect x="246.52" y="649.93" width="1.57" height="14.78" fill="#00bf9e"/>
<rect x="247.84" y="649.93" width="1.57" height="14.78" fill="#00bf9e"/>
<rect x="249.15" y="649.93" width="1.57" height="14.78" fill="#00bf9e"/>
<rect x="250.47" y="649.93" width="1.57" height="14.78" fill="#ffd800"/>
<rect x="251.79" y="649.93" width="1.57" height="14.78" fill="#feea00"/>
<rect x="253.11" y="649.93" width="1.57" height="14.78" fill="#feea00"/>
<rect x="254.43" y="649.93" width="1.57" height="14.78" fill="#feea00"/>
<rect x="255.74" y="649.93" width="1.57" height="14.78" fill="#ecad10"/>
<rect x="257.06" y="649.93" width="1.57" height="14.78" fill="#009dd9"/>
<rect x="258.38" y="649.93" width="1.57" height="14.78" fill="#0098da"/>
<rect x="259.70" y="649.93" width="1.57" height="14.78" fill="#0081dd"/>
<rect x="261.01" y="649.93" width="1.57" height="14.78" fill="#0076e2"/>
<rect x="262.33" y="649.93" width="1.57" height="14.78" fill="#0076e2"/>
<rect x="263.65" y="649.93" width="1.57" height="14.78" fill="#0076e2"/>
<rect x="264.97" y="649.93" width="1.57" height="14.78" fill="#0076e2"/>
<rect x="266.29" y="649.93" width="1.57" height="14.78" fill="#0076e2"/>
<rect x="267.60" y="649.93" width="1.57" height="14.78" fill="#0076e2"/>
<rect x="268.92" y="649.93" width="1.57" height="14.78" fill="#0076e2"/>
<rect x="270.24" y="649.93" width="1.57" height="14.78" fill="#0076e2"/>
<rect x="271.56" y="649.93" width="1.57" height="14.78" fill="#0076e2"/>
<rect x="272.88" y="649.93" width="1.57" height="14.78" fill="#0076e2"/>
<rect x="274.19" y="649.93" width="1.57" height="14.78" fill="#0076e2"/>
<rect x="275.51" y="649.93" width="1.57" height="14.78" fill="#0076e2"/>
<rect x="276.83" y="649.93" width="1.57" height="14.78" fill="#0076e2"/>
<rect x="278.15" y="649.93" width="1.57" height="14.78" fill="#0076e2"/>
<rect x="279.46" y="649.93" width="1.57" height="14.78" fill="#0076e2"/>
<rect x="280.78" y="649.93" width="1.57" height="14.78" fill="#0076e2"/>
<rect x="245.20" y="664.47" width="1.57" height="14.78" fill="#49c66c"/>
<rect x="246.52" y="664.47" width="1.57" height="14.78" fill="#49c66c"/>
<rect x="247.84" y="664.47" width="1.57" height="14.78" fill="#00bab5"/>
<rect x="249.15" y="664.47" width="1.57" height="14.78" fill="#00bab5"/>
<rect x="250.47" y="664.47" width="1.57" height="14.78" fill="#00bab5"/>
<rect x="251.79" y="664.47" width="1.57" height="14.78" fill="#00bab5"/>
<rect x="253.11" y="664.47" width="1.57" height="14.78" fill="#0087db"/>
<rect x="254.43" y="664.47" width="1.57" height="14.78" fill="#0087db"/>
<rect x="255.74" y="664.47" width="1.57" height="14.78" fill="#0087db"/>
<rect x="257.06" y="664.47" width="1.57" height="14.78" fill="#0087db"/>
<rect x="258.38" y="664.47" width="1.57" height="14.78" fill="#0087db"/>
<rect x="259.70" y="664.47" width="1.57" height="14.78" fill="#0087db"/>
<rect x="261.01" y="664.47" width="1.57" height="14.78" fill="#0087db"/>
<rect x="262.33" y="664.47" width="1.57" height="14.78" fill="#00b0c9"/>
<rect x="263.65" y="664.47" width="1.57" height="14.78" fill="#00b0c9"/>
<rect x="264.97" y="664.47" width="1.57" height="14.78" fill="#00b0c9"/>
<rect x="266.29" y="664.47" width="1.57" height="14.78" fill="#00b0c9"/>
<rect x="267.60" y="664.47" width="1.57" height="14.78" fill="#00b0c9"/>
<rect x="268.92" y="664.47" width="1.57" height="14.78" fill="#09c290"/>
<rect x="270.24" y="664.47" width="1.57" height="14.78" fill="#09c290"/>
<rect x="271.56" y="664.47" width="1.57" height="14.78" fill="#09c290"/>
<rect x="272.88" y="664.47" width="1.57" height="14.78" fill="#c2c43b"/>
<rect x="274.19" y="664.47" width="1.57" height="14.78" fill="#ddb620"/>
<rect x="275.51" y="664.47" width="1.57" height="14.78" fill="#f5a905"/>
<rect x="276.83" y="664.47" width="1.57" height="14.78" fill="#ffba00"/>
<rect x="278.15" y="664.47" width="1.57" height="14.78" fill="#ffd300"/>
<rect x="279.46" y="664.47" width="1.57" height="14.78" fill="#ffe600"/>
<rect x="280.78" y="664.47" width="1.57" height="14.78" fill="#feec00"/>
<text x="244.30" y="644.57" font-size="3.50" font-weight="normal" text-anchor="end" fill="#222" stroke="#222" stroke-width="0.15">Day-1</text>
<text x="244.30" y="659.10" font-size="3.50" font-weight="normal" text-anchor="end" fill="#222" stroke="#222" stroke-width="0.15">Day-6</text>
<text x="244.30" y="673.63" font-size="3.50" font-weight="normal" text-anchor="end" fill="#222" stroke="#222" stroke-width="0.15">Day-10</text>
<rect x="284.40" y="635.40" width="3.00" height="1.29" fill="#fffc00"/>
<rect x="284.40" y="636.49" width="3.00" height="1.29" fill="#fef000"/>
<rect x="284.40" y="637.58" width="3.00" height="1.29" fill="#ffe300"/>
<rect x="284.40" y="638.67" width="3.00" height="1.29" fill="#ffd400"/>
<rect x="284.40" y="639.76" width="3.00" height="1.29" fill="#ffc500"/>
<rect x="284.40" y="640.85" width="3.00" height="1.29" fill="#ffb600"/>
<rect x="284.40" y="641.94" width="3.00" height="1.29" fill="#ffaa00"/>
<rect x="284.40" y="643.03" width="3.00" height="1.29" fill="#fca800"/>
<rect x="284.40" y="644.12" width="3.00" height="1.29" fill="#efac0c"/>
<rect x="284.40" y="645.21" width="3.00" height="1.29" fill="#e2b31b"/>
<rect x="284.40" y="646.30" width="3.00" height="1.29" fill="#d4bb2a"/>
<rect x="284.40" y="647.39" width="3.00" height="1.29" fill="#c7c338"/>
<rect x="284.40" y="648.48" width="3.00" height="1.29" fill="#b2c541"/>
<rect x="284.40" y="649.57" width="3.00" height="1.29" fill="#9cc64a"/>
<rect x="284.40" y="650.66" width="3.00" height="1.29" fill="#85c653"/>
<rect x="284.40" y="651.75" width="3.00" height="1.29" fill="#6cc75d"/>
<rect x="284.40" y="652.84" width="3.00" height="1.29" fill="#51c668"/>
<rect x="284.40" y="653.93" width="3.00" height="1.29" fill="#35c576"/>
<rect x="284.40" y="655.02" width="3.00" height="1.29" fill="#1ac385"/>
<rect x="284.40" y="656.11" width="3.00" height="1.29" fill="#02c195"/>
<rect x="284.40" y="657.20" width="3.00" height="1.29" fill="#00bea7"/>
<rect x="284.40" y="658.29" width="3.00" height="1.29" fill="#00bab4"/>
<rect x="284.40" y="659.38" width="3.00" height="1.29" fill="#00b6be"/>
<rect x="284.40" y="660.47" width="3.00" height="1.29" fill="#00b2c5"/>
<rect x="284.40" y="661.56" width="3.00" height="1.29" fill="#00aecc"/>
<rect x="284.40" y="662.65" width="3.00" height="1.29" fill="#00a8d2"/>
<rect x="284.40" y="663.74" width="3.00" height="1.29" fill="#00a2d7"/>
<rect x="284.40" y="664.83" width="3.00" height="1.29" fill="#009ada"/>
<rect x="284.40" y="665.92" width="3.00" height="1.29" fill="#008fda"/>
<rect x="284.40" y="667.01" width="3.00" height="1.29" fill="#0084dc"/>
<rect x="284.40" y="668.10" width="3.00" height="1.29" fill="#007cde"/>
<rect x="284.40" y="669.19" width="3.00" height="1.29" fill="#0077e2"/>
<rect x="284.40" y="670.28" width="3.00" height="1.29" fill="#0073e6"/>
<rect x="284.40" y="671.37" width="3.00" height="1.29" fill="#006fe9"/>
<rect x="284.40" y="672.46" width="3.00" height="1.29" fill="#0069ea"/>
<rect x="284.40" y="673.55" width="3.00" height="1.29" fill="#0057e7"/>
<rect x="284.40" y="674.64" width="3.00" height="1.29" fill="#0034d6"/>
<rect x="284.40" y="675.73" width="3.00" height="1.29" fill="#0018c0"/>
<rect x="284.40" y="676.82" width="3.00" height="1.29" fill="#0409ab"/>
<rect x="284.40" y="677.91" width="3.00" height="1.29" fill="#0d0396"/>
<text x="288.60" y="636.40" font-size="3.15" font-weight="normal" text-anchor="start" fill="#222" stroke="#222" stroke-width="0.15">1</text>
<text x="288.60" y="645.12" font-size="3.15" font-weight="normal" text-anchor="start" fill="#222" stroke="#222" stroke-width="0.15">0.5</text>
<text x="288.60" y="653.84" font-size="3.15" font-weight="normal" text-anchor="start" fill="#222" stroke="#222" stroke-width="0.15">0</text>
<text x="288.60" y="662.56" font-size="3.15" font-weight="normal" text-anchor="start" fill="#222" stroke="#222" stroke-width="0.15">-0.5</text>
<text x="288.60" y="671.28" font-size="3.15" font-weight="normal" text-anchor="start" fill="#222" stroke="#222" stroke-width="0.15">-1</text>
<text x="288.60" y="680.00" font-size="3.15" font-weight="normal" text-anchor="start" fill="#222" stroke="#222" stroke-width="0.15">-1.5</text>
<text x="245.20" y="682.50" font-size="3.50" font-weight="normal" text-anchor="middle" fill="#222" stroke="#222" stroke-width="0.15">-1</text>
<text x="251.00" y="682.50" font-size="3.50" font-weight="normal" text-anchor="middle" fill="#222" stroke="#222" stroke-width="0.15">0</text>
<text x="257.30" y="682.50" font-size="3.50" font-weight="normal" text-anchor="middle" fill="#222" stroke="#222" stroke-width="0.15">1</text>
<text x="263.50" y="682.50" font-size="3.50" font-weight="normal" text-anchor="middle" fill="#222" stroke="#222" stroke-width="0.15">2</text>
<text x="269.70" y="682.50" font-size="3.50" font-weight="normal" text-anchor="middle" fill="#222" stroke="#222" stroke-width="0.15">3</text>
<text x="275.90" y="682.50" font-size="3.50" font-weight="normal" text-anchor="middle" fill="#222" stroke="#222" stroke-width="0.15">4</text>
<text x="281.70" y="682.50" font-size="3.50" font-weight="normal" text-anchor="middle" fill="#222" stroke="#222" stroke-width="0.15">5</text>
<line x1="245.20" y1="635.40" x2="245.20" y2="679.00" stroke="#777" stroke-width="0.50"/>
</svg></body></html>
